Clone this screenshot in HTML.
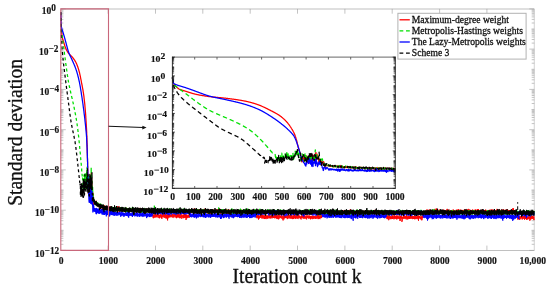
<!DOCTYPE html><html><head><meta charset="utf-8"><title>Standard deviation vs iteration count</title>
<style>html,body{margin:0;padding:0;background:#fff}svg{display:block}text{font-family:"Liberation Serif","DejaVu Serif",serif;fill:#111}.b{font-weight:bold}</style></head><body>
<svg width="550" height="288" viewBox="0 0 550 288">
<rect width="550" height="288" fill="#fff"/>
<path d="M60.8 8.9 H534.3" stroke="#d4d4d4" stroke-width="1.5" fill="none"/>
<path d="M60.8 250.5 H534.3" stroke="#c0c0c0" stroke-width="1.2" fill="none"/>
<path d="M534.3 8.9 V250.4" stroke="#d6d6d6" stroke-width="1.1" fill="none"/>
<path d="M108.1 250.4 v-4.8 M108.1 8.9 v4.8 M155.5 250.4 v-4.8 M155.5 8.9 v4.8 M202.8 250.4 v-4.8 M202.8 8.9 v4.8 M250.2 250.4 v-4.8 M250.2 8.9 v4.8 M297.5 250.4 v-4.8 M297.5 8.9 v4.8 M344.9 250.4 v-4.8 M344.9 8.9 v4.8 M392.2 250.4 v-4.8 M392.2 8.9 v4.8 M439.6 250.4 v-4.8 M439.6 8.9 v4.8 M486.9 250.4 v-4.8 M486.9 8.9 v4.8 " stroke="#9a9a9a" stroke-width="0.6" fill="none"/>
<path d="M60.8 8.9 h5.0 M534.3 8.9 h-5.0 M60.8 23.0 h2.6 M534.3 23.0 h-2.6 M60.8 19.4 h2.6 M534.3 19.4 h-2.6 M60.8 16.9 h2.6 M534.3 16.9 h-2.6 M60.8 15.0 h2.6 M534.3 15.0 h-2.6 M60.8 13.4 h2.6 M534.3 13.4 h-2.6 M60.8 12.0 h2.6 M534.3 12.0 h-2.6 M60.8 10.9 h2.6 M534.3 10.9 h-2.6 M60.8 9.8 h2.6 M534.3 9.8 h-2.6 M60.8 29.0 h2.8 M534.3 29.0 h-2.8 M60.8 43.1 h2.6 M534.3 43.1 h-2.6 M60.8 39.5 h2.6 M534.3 39.5 h-2.6 M60.8 37.0 h2.6 M534.3 37.0 h-2.6 M60.8 35.1 h2.6 M534.3 35.1 h-2.6 M60.8 33.5 h2.6 M534.3 33.5 h-2.6 M60.8 32.1 h2.6 M534.3 32.1 h-2.6 M60.8 31.0 h2.6 M534.3 31.0 h-2.6 M60.8 29.9 h2.6 M534.3 29.9 h-2.6 M60.8 49.1 h5.0 M534.3 49.1 h-5.0 M60.8 63.2 h2.6 M534.3 63.2 h-2.6 M60.8 59.7 h2.6 M534.3 59.7 h-2.6 M60.8 57.2 h2.6 M534.3 57.2 h-2.6 M60.8 55.2 h2.6 M534.3 55.2 h-2.6 M60.8 53.6 h2.6 M534.3 53.6 h-2.6 M60.8 52.3 h2.6 M534.3 52.3 h-2.6 M60.8 51.1 h2.6 M534.3 51.1 h-2.6 M60.8 50.1 h2.6 M534.3 50.1 h-2.6 M60.8 69.3 h2.8 M534.3 69.3 h-2.8 M60.8 83.3 h2.6 M534.3 83.3 h-2.6 M60.8 79.8 h2.6 M534.3 79.8 h-2.6 M60.8 77.3 h2.6 M534.3 77.3 h-2.6 M60.8 75.3 h2.6 M534.3 75.3 h-2.6 M60.8 73.7 h2.6 M534.3 73.7 h-2.6 M60.8 72.4 h2.6 M534.3 72.4 h-2.6 M60.8 71.2 h2.6 M534.3 71.2 h-2.6 M60.8 70.2 h2.6 M534.3 70.2 h-2.6 M60.8 89.4 h5.0 M534.3 89.4 h-5.0 M60.8 103.5 h2.6 M534.3 103.5 h-2.6 M60.8 99.9 h2.6 M534.3 99.9 h-2.6 M60.8 97.4 h2.6 M534.3 97.4 h-2.6 M60.8 95.5 h2.6 M534.3 95.5 h-2.6 M60.8 93.9 h2.6 M534.3 93.9 h-2.6 M60.8 92.5 h2.6 M534.3 92.5 h-2.6 M60.8 91.4 h2.6 M534.3 91.4 h-2.6 M60.8 90.3 h2.6 M534.3 90.3 h-2.6 M60.8 109.5 h2.8 M534.3 109.5 h-2.8 M60.8 123.6 h2.6 M534.3 123.6 h-2.6 M60.8 120.0 h2.6 M534.3 120.0 h-2.6 M60.8 117.5 h2.6 M534.3 117.5 h-2.6 M60.8 115.6 h2.6 M534.3 115.6 h-2.6 M60.8 114.0 h2.6 M534.3 114.0 h-2.6 M60.8 112.6 h2.6 M534.3 112.6 h-2.6 M60.8 111.5 h2.6 M534.3 111.5 h-2.6 M60.8 110.4 h2.6 M534.3 110.4 h-2.6 M60.8 129.7 h5.0 M534.3 129.7 h-5.0 M60.8 143.7 h2.6 M534.3 143.7 h-2.6 M60.8 140.2 h2.6 M534.3 140.2 h-2.6 M60.8 137.7 h2.6 M534.3 137.7 h-2.6 M60.8 135.7 h2.6 M534.3 135.7 h-2.6 M60.8 134.1 h2.6 M534.3 134.1 h-2.6 M60.8 132.8 h2.6 M534.3 132.8 h-2.6 M60.8 131.6 h2.6 M534.3 131.6 h-2.6 M60.8 130.6 h2.6 M534.3 130.6 h-2.6 M60.8 149.8 h2.8 M534.3 149.8 h-2.8 M60.8 163.8 h2.6 M534.3 163.8 h-2.6 M60.8 160.3 h2.6 M534.3 160.3 h-2.6 M60.8 157.8 h2.6 M534.3 157.8 h-2.6 M60.8 155.8 h2.6 M534.3 155.8 h-2.6 M60.8 154.2 h2.6 M534.3 154.2 h-2.6 M60.8 152.9 h2.6 M534.3 152.9 h-2.6 M60.8 151.7 h2.6 M534.3 151.7 h-2.6 M60.8 150.7 h2.6 M534.3 150.7 h-2.6 M60.8 169.9 h5.0 M534.3 169.9 h-5.0 M60.8 184.0 h2.6 M534.3 184.0 h-2.6 M60.8 180.4 h2.6 M534.3 180.4 h-2.6 M60.8 177.9 h2.6 M534.3 177.9 h-2.6 M60.8 176.0 h2.6 M534.3 176.0 h-2.6 M60.8 174.4 h2.6 M534.3 174.4 h-2.6 M60.8 173.0 h2.6 M534.3 173.0 h-2.6 M60.8 171.9 h2.6 M534.3 171.9 h-2.6 M60.8 170.8 h2.6 M534.3 170.8 h-2.6 M60.8 190.0 h2.8 M534.3 190.0 h-2.8 M60.8 204.1 h2.6 M534.3 204.1 h-2.6 M60.8 200.5 h2.6 M534.3 200.5 h-2.6 M60.8 198.0 h2.6 M534.3 198.0 h-2.6 M60.8 196.1 h2.6 M534.3 196.1 h-2.6 M60.8 194.5 h2.6 M534.3 194.5 h-2.6 M60.8 193.1 h2.6 M534.3 193.1 h-2.6 M60.8 192.0 h2.6 M534.3 192.0 h-2.6 M60.8 190.9 h2.6 M534.3 190.9 h-2.6 M60.8 210.2 h5.0 M534.3 210.2 h-5.0 M60.8 224.2 h2.6 M534.3 224.2 h-2.6 M60.8 220.7 h2.6 M534.3 220.7 h-2.6 M60.8 218.2 h2.6 M534.3 218.2 h-2.6 M60.8 216.2 h2.6 M534.3 216.2 h-2.6 M60.8 214.6 h2.6 M534.3 214.6 h-2.6 M60.8 213.3 h2.6 M534.3 213.3 h-2.6 M60.8 212.1 h2.6 M534.3 212.1 h-2.6 M60.8 211.1 h2.6 M534.3 211.1 h-2.6 M60.8 230.3 h2.8 M534.3 230.3 h-2.8 M60.8 244.3 h2.6 M534.3 244.3 h-2.6 M60.8 240.8 h2.6 M534.3 240.8 h-2.6 M60.8 238.3 h2.6 M534.3 238.3 h-2.6 M60.8 236.3 h2.6 M534.3 236.3 h-2.6 M60.8 234.7 h2.6 M534.3 234.7 h-2.6 M60.8 233.4 h2.6 M534.3 233.4 h-2.6 M60.8 232.2 h2.6 M534.3 232.2 h-2.6 M60.8 231.2 h2.6 M534.3 231.2 h-2.6 M60.8 250.4 h5.0 M534.3 250.4 h-5.0 " stroke="#9c9c9c" stroke-width="0.6" fill="none"/>
<g fill="none" stroke-linejoin="round">
<path d="M60.8 12.3 L60.8 15.3 L60.9 18.0 L60.9 20.4 L61.0 22.7 L61.0 24.7 L61.1 26.0 L61.1 26.9 L61.2 27.6 L61.2 28.2 L61.3 28.8 L61.3 29.3 L61.4 29.7 L61.4 30.1 L61.5 30.6 L61.5 31.0 L61.6 31.5 L61.6 32.0 L61.7 32.5 L61.7 33.0 L61.7 33.5 L61.8 33.9 L61.8 34.4 L61.9 34.8 L61.9 35.3 L62.0 35.7 L62.0 36.0 L62.1 36.4 L62.1 36.7 L62.2 37.0 L62.2 37.3 L62.3 37.5 L62.3 37.7 L62.4 37.9 L62.4 38.1 L62.5 38.3 L62.5 38.5 L62.6 38.7 L62.6 38.9 L62.6 39.0 L62.7 39.2 L62.7 39.1 L62.8 39.3 L62.8 39.5 L62.9 39.6 L62.9 39.8 L63.0 39.9 L63.0 40.1 L63.1 40.3 L63.1 40.4 L63.2 40.6 L63.2 40.7 L63.3 40.8 L63.3 41.0 L63.4 41.1 L63.4 41.3 L63.5 41.4 L63.5 41.6 L63.5 41.7 L63.6 41.9 L63.6 42.0 L63.7 42.2 L63.7 42.3 L63.8 42.5 L63.8 42.6 L63.9 42.8 L63.9 42.9 L64.0 43.1 L64.0 43.2 L64.1 43.4 L64.1 43.6 L64.2 43.7 L64.2 43.9 L64.3 44.0 L64.3 44.2 L64.4 44.3 L64.4 44.5 L64.4 44.7 L64.5 44.8 L64.5 45.0 L64.6 45.1 L64.6 45.3 L64.7 45.4 L64.7 45.6 L64.8 45.7 L64.8 45.9 L64.9 46.0 L64.9 46.1 L65.0 46.3 L65.0 46.4 L65.1 46.6 L65.1 46.7 L65.2 46.8 L65.2 47.0 L65.3 47.1 L65.3 47.2 L65.3 47.3 L65.4 47.5 L65.4 47.6 L65.5 47.7 L65.5 47.8 L65.6 48.0 L65.6 48.1 L65.7 48.2 L65.7 48.3 L65.8 48.4 L65.8 48.5 L65.9 48.6 L65.9 48.7 L66.0 48.8 L66.0 48.9 L66.1 49.0 L66.1 49.1 L66.2 49.2 L66.2 49.3 L66.2 49.4 L66.3 49.5 L66.3 49.6 L66.4 49.7 L66.4 49.8 L66.5 49.9 L66.5 50.0 L66.6 50.1 L66.6 50.2 L66.7 50.3 L66.7 50.3 L66.8 50.4 L66.8 50.5 L66.9 50.6 L66.9 50.7 L67.0 50.8 L67.0 50.9 L67.1 50.9 L67.1 51.0 L67.1 51.1 L67.2 51.2 L67.2 51.3 L67.3 51.3 L67.3 51.4 L67.4 51.5 L67.4 51.6 L67.5 51.7 L67.5 51.7 L67.6 51.8 L67.6 51.9 L67.7 52.0 L67.7 52.0 L67.8 52.1 L67.8 52.2 L67.9 52.2 L67.9 52.3 L67.9 52.4 L68.0 52.4 L68.0 52.5 L68.1 52.6 L68.1 52.7 L68.2 52.7 L68.2 52.8 L68.3 52.9 L68.3 52.9 L68.4 53.0 L68.4 53.0 L68.5 53.1 L68.5 53.2 L68.6 53.2 L68.6 53.3 L68.7 53.3 L68.7 53.4 L68.8 53.5 L68.8 53.5 L68.8 53.6 L68.9 53.6 L68.9 53.7 L69.0 53.7 L69.0 53.8 L69.1 53.9 L69.1 53.9 L69.2 54.0 L69.2 54.0 L69.3 54.1 L69.3 54.1 L69.4 54.2 L69.4 54.2 L69.5 54.3 L69.5 54.3 L69.6 54.4 L69.6 54.4 L69.7 54.5 L69.7 54.5 L69.7 54.5 L69.8 54.6 L69.8 54.6 L69.9 54.7 L69.9 54.7 L70.0 54.8 L70.0 54.8 L70.1 54.9 L70.1 54.9 L70.2 54.9 L70.2 55.0 L70.3 55.0 L70.3 55.1 L70.4 55.1 L70.4 55.2 L70.5 55.2 L70.5 55.2 L70.6 55.3 L70.6 55.3 L70.6 55.4 L70.7 55.4 L70.7 55.5 L70.8 55.5 L70.8 55.6 L70.9 55.6 L70.9 55.6 L71.0 55.7 L71.0 55.7 L71.1 55.8 L71.1 55.8 L71.2 55.9 L71.2 55.9 L71.3 56.0 L71.3 56.0 L71.4 56.0 L71.4 56.1 L71.5 56.1 L71.5 56.2 L71.5 56.2 L71.6 56.3 L71.6 56.3 L71.7 56.4 L71.7 56.4 L71.8 56.5 L71.8 56.5 L71.9 56.6 L71.9 56.7 L72.0 56.7 L72.0 56.8 L72.1 56.8 L72.1 56.9 L72.2 56.9 L72.2 57.0 L72.3 57.0 L72.3 57.1 L72.4 57.1 L72.4 57.2 L72.4 57.3 L72.5 57.3 L72.5 57.4 L72.6 57.4 L72.6 57.5 L72.7 57.6 L72.7 57.6 L72.8 57.7 L72.8 57.7 L72.9 57.8 L72.9 57.9 L73.0 57.9 L73.0 58.0 L73.1 58.0 L73.1 58.1 L73.2 58.2 L73.2 58.2 L73.3 58.3 L73.3 58.3 L73.3 58.4 L73.4 58.5 L73.4 58.5 L73.5 58.6 L73.5 58.7 L73.6 58.7 L73.6 58.8 L73.7 58.9 L73.7 58.9 L73.8 59.0 L73.8 59.1 L73.9 59.1 L73.9 59.2 L74.0 59.3 L74.0 59.3 L74.1 59.4 L74.1 59.5 L74.2 59.5 L74.2 59.6 L74.2 59.7 L74.3 59.7 L74.3 59.8 L74.4 59.9 L74.4 59.9 L74.5 60.0 L74.5 60.1 L74.6 60.2 L74.6 60.2 L74.7 60.3 L74.7 60.4 L74.8 60.5 L74.8 60.5 L74.9 60.6 L74.9 60.7 L75.0 60.8 L75.0 60.8 L75.1 60.9 L75.1 61.0 L75.1 61.1 L75.2 61.2 L75.2 61.2 L75.3 61.3 L75.3 61.4 L75.4 61.5 L75.4 61.6 L75.5 61.6 L75.5 61.7 L75.6 61.8 L75.6 61.9 L75.7 62.0 L75.7 62.1 L75.8 62.2 L75.8 62.3 L75.9 62.3 L75.9 62.4 L76.0 62.5 L76.0 62.6 L76.0 62.7 L76.1 62.8 L76.1 62.9 L76.2 63.0 L76.2 63.1 L76.3 63.2 L76.3 63.3 L76.4 63.4 L76.4 63.5 L76.5 63.6 L76.5 63.7 L76.6 63.8 L76.6 63.9 L76.7 64.0 L76.7 64.1 L76.8 64.2 L76.8 64.3 L76.9 64.4 L76.9 64.6 L76.9 64.7 L77.0 64.8 L77.0 64.9 L77.1 65.0 L77.1 65.1 L77.2 65.3 L77.2 65.4 L77.3 65.5 L77.3 65.6 L77.4 65.8 L77.4 65.9 L77.5 66.0 L77.5 66.1 L77.6 66.3 L77.6 66.4 L77.7 66.5 L77.7 66.7 L77.8 66.8 L77.8 66.9 L77.8 67.1 L77.9 67.2 L77.9 67.4 L78.0 67.5 L78.0 67.6 L78.1 67.8 L78.1 67.9 L78.2 68.1 L78.2 68.2 L78.3 68.4 L78.3 68.5 L78.4 68.7 L78.4 68.8 L78.5 69.0 L78.5 69.2 L78.6 69.3 L78.6 69.5 L78.7 69.6 L78.7 69.8 L78.7 69.9 L78.8 70.1 L78.8 70.3 L78.9 70.4 L78.9 70.6 L79.0 70.8 L79.0 70.9 L79.1 71.1 L79.1 71.3 L79.2 71.5 L79.2 71.6 L79.3 71.8 L79.3 72.0 L79.4 72.2 L79.4 72.4 L79.5 72.6 L79.5 72.7 L79.6 72.9 L79.6 73.1 L79.6 73.3 L79.7 73.5 L79.7 73.7 L79.8 73.9 L79.8 74.1 L79.9 74.4 L79.9 74.6 L80.0 74.8 L80.0 75.0 L80.1 75.2 L80.1 75.4 L80.2 75.7 L80.2 75.9 L80.3 76.1 L80.3 76.3 L80.4 76.6 L80.4 76.8 L80.5 77.0 L80.5 77.3 L80.5 77.5 L80.6 77.7 L80.6 78.0 L80.7 78.2 L80.7 78.5 L80.8 78.7 L80.8 78.9 L80.9 79.2 L80.9 79.4 L81.0 79.7 L81.0 79.9 L81.1 80.2 L81.1 80.4 L81.2 80.7 L81.2 80.9 L81.3 81.1 L81.3 81.4 L81.3 81.6 L81.4 81.9 L81.4 82.1 L81.5 82.4 L81.5 82.6 L81.6 82.9 L81.6 83.1 L81.7 83.3 L81.7 83.6 L81.8 83.8 L81.8 84.1 L81.9 84.3 L81.9 84.6 L82.0 84.8 L82.0 85.1 L82.1 85.3 L82.1 85.5 L82.2 85.8 L82.2 86.0 L82.2 86.3 L82.3 86.5 L82.3 86.8 L82.4 87.0 L82.4 87.3 L82.5 87.5 L82.5 87.8 L82.6 88.0 L82.6 88.3 L82.7 88.6 L82.7 88.8 L82.8 89.1 L82.8 89.4 L82.9 89.6 L82.9 89.9 L83.0 90.2 L83.0 90.5 L83.1 90.7 L83.1 91.0 L83.1 91.3 L83.2 91.6 L83.2 91.9 L83.3 92.2 L83.3 92.5 L83.4 92.8 L83.4 93.1 L83.5 93.5 L83.5 93.8 L83.6 94.1 L83.6 94.4 L83.7 94.8 L83.7 95.1 L83.8 95.5 L83.8 95.8 L83.9 96.2 L83.9 96.5 L84.0 96.9 L84.0 97.3 L84.0 97.7 L84.1 98.1 L84.1 98.5 L84.2 98.9 L84.2 99.3 L84.3 99.7 L84.3 100.1 L84.4 100.5 L84.4 101.0 L84.5 101.4 L84.5 101.8 L84.6 102.3 L84.6 102.8 L84.7 103.2 L84.7 103.7 L84.8 104.2 L84.8 104.7 L84.9 105.2 L84.9 105.7 L84.9 106.2 L85.0 106.7 L85.0 107.2 L85.1 107.8 L85.1 108.3 L85.2 108.8 L85.2 109.4 L85.3 110.0 L85.3 110.6 L85.4 111.2 L85.4 111.8 L85.5 112.4 L85.5 113.0 L85.6 113.6 L85.6 114.3 L85.7 114.9 L85.7 115.6 L85.8 116.3 L85.8 117.0 L85.8 117.7 L85.9 118.4 L85.9 119.2 L86.0 119.9 L86.0 120.7 L86.1 121.5 L86.1 122.2 L86.2 123.0 L86.2 123.9 L86.3 124.7 L86.3 125.6 L86.4 126.4 L86.4 127.2 L86.5 128.0 L86.5 129.0 L86.6 129.9 L86.6 131.0 L86.7 131.9 L86.7 133.0 L86.7 133.7 L86.8 135.0 L86.8 136.4 L86.9 138.2 L86.9 139.3 L87.0 140.7 L87.0 142.3 L87.1 144.0 L87.1 145.4 L87.2 147.0 L87.2 148.9 L87.3 151.1 L87.3 152.9 L87.4 154.9 L87.4 156.7 L87.5 158.9 L87.5 160.5 L87.6 162.7 L87.6 163.7 L87.6 165.1 L87.7 166.5 L87.7 168.7 L87.8 170.4 L87.8 172.6 L87.9 174.2 L87.9 175.9 L88.0 176.4 L88.0 177.2 L88.1 178.7 L88.1 182.3 L88.2 181.6 L88.2 182.3 L88.3 190.1 L88.3 193.3 L88.4 191.3 L88.4 184.5 L88.5 181.8 L88.5 178.2 L88.5 185.9 L88.6 188.4 L88.6 194.0 L88.7 186.2 L88.7 188.8 L88.8 189.5 L88.8 192.7 L88.9 187.5 L88.9 180.6 L89.0 185.8 L89.0 183.9 L89.1 189.7 L89.1 184.4 L89.2 187.0 L89.2 186.1 L89.3 185.8 L89.3 184.2 L89.4 180.7 L89.4 186.7 L89.4 188.5 L89.5 194.7 L89.5 192.7 L89.6 190.3 L89.6 185.7 L89.7 183.3 L89.7 186.9 L89.8 182.7 L89.8 183.4 L89.9 183.7 L89.9 192.4 L90.0 196.1 L90.0 193.9 L90.1 191.5 L90.1 182.0 L90.2 180.5 L90.2 176.6 L90.3 189.2 L90.3 194.0 L90.3 193.3 L90.4 183.6 L90.4 181.7 L90.5 184.8 L90.5 187.4 L90.6 182.7 L90.6 178.1 L90.7 182.5 L90.7 180.8 L90.8 187.3 L90.8 184.6 L90.9 181.3 L90.9 183.3 L91.0 184.4 L91.0 192.9 L91.1 191.5 L91.1 182.2 L91.2 180.3 L91.2 175.7 L91.2 176.4 L91.3 173.2 L91.3 182.8 L91.4 187.6 L91.4 188.8 L91.5 183.7 L91.5 177.0 L91.6 180.7 L91.6 183.4 L91.7 182.2 L91.7 181.6 L91.8 184.1 L91.8 188.1 L91.9 188.8 L91.9 194.8 L92.0 194.8 L92.0 197.7 L92.1 187.1 L92.1 187.6 L92.1 188.1 L92.2 189.7 L92.2 191.6 L92.3 188.5 L92.3 191.8 L92.4 193.1 L92.4 198.8 L92.5 196.9 L92.5 196.0 L92.6 192.7 L92.6 194.8 L92.7 196.5 L92.7 195.7 L92.8 198.6 L92.8 195.3 L92.9 197.0 L92.9 192.9 L93.0 193.2 L93.0 194.9 L93.0 198.4 L93.1 200.8 L93.1 201.4 L93.2 202.4 L93.2 204.1 L93.3 205.0 L93.3 204.6 L93.4 200.9 L93.4 201.2 L93.5 199.8 L93.5 199.6 L93.6 200.2 L93.6 200.6 L93.7 201.2 L93.7 200.9 L93.8 201.0 L93.8 201.6 L93.9 201.1 L93.9 201.7 L93.9 200.0 L94.0 200.5 L94.0 202.2 L94.1 202.1 L94.1 201.4 L94.2 202.0 L94.2 201.8 L94.3 200.9 L94.3 201.5 L94.4 203.2 L94.4 202.2 L94.5 201.5 L94.5 201.9 L94.6 201.6 L94.6 201.6 L94.7 201.6 L94.7 202.2 L94.7 203.3 L94.8 203.2 L94.8 203.1 L94.9 202.3 L94.9 203.1 L95.0 202.6 L95.0 204.4 L95.1 203.6 L95.1 202.9 L95.2 202.4 L95.2 203.4 L95.3 202.6 L95.3 203.6 L95.4 201.9 L95.4 202.8 L95.5 203.4 L95.5 203.2 L95.6 203.6 L95.6 203.3 L95.6 202.6 L95.7 202.8 L95.7 204.0 L95.8 204.1 L95.8 202.3 L95.9 202.1 L95.9 204.0 L96.0 203.4 L96.0 203.6 L96.1 202.7 L96.1 204.2 L96.2 204.3 L96.2 203.2 L96.3 203.8 L96.3 203.4 L96.4 204.7 L96.4 201.0 L96.5 204.9 L96.5 203.6 L96.5 202.2 L96.6 203.5 L96.6 205.6 L96.7 202.3 L96.7 205.5 L96.8 205.2 L96.8 203.8 L96.9 203.6 L96.9 205.7 L97.0 203.5 L97.0 203.6 L97.1 204.1 L97.1 205.0 L97.2 203.5 L97.2 205.1 L97.3 203.9 L97.3 205.2 L97.4 204.5 L97.4 204.2 L97.4 204.2 L97.5 203.7 L97.5 205.7 L97.6 203.0 L97.6 205.8 L97.7 205.4 L97.7 204.2 L97.8 205.1 L97.8 204.0 L97.9 204.6 L97.9 205.5 L98.0 205.1 L98.0 206.0 L98.1 204.9 L98.1 205.7 L98.2 204.4 L98.2 205.1 L98.3 204.6 L98.3 206.1 L98.3 203.4 L98.4 205.0 L98.4 203.6 L98.5 203.8 L98.5 205.3 L98.6 203.8 L98.6 204.7 L98.7 205.4 L98.7 206.8 L98.8 205.8 L98.8 205.3 L98.9 205.4 L98.9 204.9 L99.0 205.2 L99.0 204.6 L99.1 205.9 L99.1 205.6 L99.2 205.0 L99.2 206.5 L99.2 204.9 L99.3 205.2 L99.3 205.5 L99.4 205.3 L99.4 206.3 L99.5 205.3 L99.5 205.2 L99.6 206.8 L99.6 204.3 L99.7 205.9 L99.7 205.8 L99.8 204.9 L99.8 204.5 L99.9 205.7 L99.9 204.9 L100.0 205.2 L100.0 207.1 L100.1 206.4 L100.1 206.0 L100.1 206.0 L100.2 206.1 L100.2 207.4 L100.3 205.9 L100.3 205.0 L100.4 205.7 L100.4 206.1 L100.5 205.7 L100.5 206.8 L100.6 206.2 L100.6 205.6 L100.7 205.0 L100.7 206.3 L100.8 205.5 L100.8 205.9 L100.9 205.1 L100.9 207.3 L101.0 205.4 L101.0 205.7 L101.0 206.8 L101.1 206.9 L101.1 206.5 L101.2 207.2 L101.2 205.3 L101.3 206.3 L101.3 205.6 L101.4 206.2 L101.4 206.4 L101.5 207.2 L101.5 207.8 L101.6 206.0 L101.6 206.2 L101.7 207.0 L101.7 205.9 L101.8 206.0 L101.8 206.1 L101.9 206.1 L101.9 207.8 L101.9 206.7 L102.0 207.0 L102.0 206.7 L102.1 208.2 L102.1 206.8 L102.2 206.2 L102.2 208.3 L102.3 205.9 L102.3 207.2 L102.4 208.4 L102.4 207.6 L102.5 206.7 L102.5 205.9 L102.6 206.4 L102.6 208.5 L102.7 207.3 L102.7 207.7 L102.8 206.3 L102.8 207.4 L102.8 207.9 L102.9 206.3 L102.9 208.6 L103.0 207.9 L103.0 207.0 L103.1 207.7 L103.1 207.7 L103.2 206.0 L103.2 206.3 L103.3 206.7 L103.3 207.4 L103.4 208.3 L103.4 207.3 L103.5 208.0 L103.5 207.1 L103.6 207.0 L103.6 208.4 L103.7 210.1 L103.7 206.5 L103.7 207.6 L103.8 207.5 L103.8 206.4 L103.9 207.8 L103.9 207.5 L104.0 208.0 L104.0 208.8 L104.1 206.4 L104.1 207.8 L104.2 207.6 L104.2 207.4 L104.3 207.3 L104.3 205.5 L104.4 207.1 L104.4 207.9 L104.5 209.2 L104.5 207.8 L104.6 208.8 L104.6 206.9 L104.6 207.7 L104.7 206.9 L104.7 206.7 L104.8 207.7 L104.8 208.1 L104.9 207.6 L104.9 208.6 L105.0 207.7 L105.0 206.7 L105.1 209.4 L105.1 207.8 L105.2 208.4 L105.2 208.2 L105.3 209.8 L105.3 207.5 L105.4 207.4 L105.4 206.8 L105.5 208.2 L105.5 207.9 L105.5 208.2 L105.6 208.5 L105.6 208.4 L105.7 208.2 L105.7 206.7 L105.8 207.9 L105.8 208.9 L105.9 208.6 L105.9 206.3 L106.0 208.4 L106.0 207.3 L106.1 206.8 L106.1 206.9 L106.2 208.6 L106.2 207.8 L106.3 207.0 L106.3 210.0 L106.4 208.8 L106.4 208.6 L106.4 208.6 L106.5 207.5 L106.5 208.5 L106.6 208.5 L106.6 209.2 L106.7 208.5 L106.7 207.2 L106.8 209.0 L106.8 207.5 L106.9 206.9 L106.9 206.9 L107.0 207.6 L107.0 207.7 L107.1 209.4 L107.1 207.3 L107.2 207.5 L107.2 207.3 L107.3 207.8 L107.3 209.1 L107.3 208.4 L107.4 209.6 L107.4 207.2 L107.5 208.3 L107.5 208.1 L107.6 208.1 L107.6 207.4 L107.7 207.5 L107.7 208.9 L107.8 209.8 L107.8 209.4 L107.9 206.8 L107.9 208.2 L108.0 208.0 L108.0 209.1 L108.1 208.1 L108.1 207.9 L108.1 208.3 L108.2 209.2 L108.2 208.6 L108.3 207.8 L108.3 209.4 L108.4 209.6 L108.4 208.1 L108.5 208.1 L108.5 208.7 L108.6 209.0 L108.6 208.6 L108.7 209.3 L108.7 208.7 L108.8 209.4 L108.8 209.5 L108.9 208.3 L108.9 208.3 L109.0 209.3 L109.0 207.7 L109.0 209.0 L109.1 207.3 L109.1 208.8 L109.2 208.6 L109.2 208.7 L109.3 209.9 L109.3 206.8 L109.4 207.7 L109.4 208.8 L109.5 209.1 L109.5 209.6 L109.6 208.4 L109.6 207.8 L109.7 209.0 L109.7 208.2 L109.8 208.1 L109.8 207.9 L109.9 208.6 L109.9 208.9 L109.9 207.9 L110.0 207.8 L110.0 208.7 L110.1 206.8 L110.1 208.8 L110.2 208.1 L110.2 209.0 L110.3 209.9 L110.3 210.3 L110.4 208.3 L110.4 209.2 L110.5 209.1 L110.5 209.5 L110.6 209.3 L110.6 209.0 L110.7 208.0 L110.7 210.0 L110.8 207.1 L110.8 209.4 L110.8 210.3 L110.9 208.5 L110.9 207.3 L111.0 208.9 L111.0 208.1 L111.1 208.8 L111.1 209.2 L111.2 210.2 L111.2 210.6 L111.3 209.8 L111.3 207.5 L111.4 208.9 L111.4 208.2 L111.5 207.6 L111.5 207.4 L111.6 209.3 L111.6 209.3 L111.7 209.4 L111.7 208.4 L111.7 208.4 L111.8 209.2 L111.8 209.6 L111.9 208.9 L111.9 208.1 L112.0 208.3 L112.0 210.4 L112.1 208.1 L112.1 208.4 L112.2 209.2 L112.2 208.7 L112.3 208.0 L112.3 209.6 L112.4 207.9 L112.4 209.5 L112.5 208.9 L112.5 208.6 L112.6 209.0 L112.6 209.0 L112.6 209.5 L112.7 211.1 L112.7 210.2 L112.8 209.4 L112.8 209.2 L112.9 209.2" stroke="#ff0000" stroke-width="1.25"/>
<path d="M113.1 207.5 L113.1 210.5 L113.6 210.5 L113.6 207.2 L114.0 207.9 L114.0 209.9 L114.5 210.3 L114.5 207.7 L115.0 207.3 L115.0 209.7 L115.5 209.8 L115.5 207.7 L115.9 208.0 L115.9 209.9 L116.4 210.3 L116.4 207.5 L116.9 207.9 L116.9 210.6 L117.4 210.3 L117.4 206.3 L117.8 207.6 L117.8 211.7 L118.3 210.2 L118.3 207.6 L118.8 207.4 L118.8 210.8 L119.3 212.0 L119.3 206.5 L119.7 207.2 L119.7 211.7 L120.2 210.5 L120.2 207.6 L120.7 208.2 L120.7 210.4 L121.1 210.8 L121.1 209.0 L121.6 208.4 L121.6 210.8 L122.1 211.4 L122.1 207.8 L122.6 208.0 L122.6 211.2 L123.0 211.0 L123.0 208.4 L123.5 208.9 L123.5 210.5 L124.0 211.5 L124.0 208.6 L124.5 208.5 L124.5 211.1 L124.9 211.2 L124.9 208.1 L125.4 209.0 L125.4 211.6 L125.9 210.5 L125.9 208.7 L126.4 207.8 L126.4 210.6 L126.8 210.9 L126.8 209.3 L127.3 208.6 L127.3 211.5 L127.8 211.3 L127.8 208.7 L128.3 209.6 L128.3 210.4 L128.7 211.5 L128.7 208.6 L129.2 208.5 L129.2 211.0 L129.7 211.5 L129.7 208.8 L130.1 208.6 L130.1 211.1 L130.6 211.4 L130.6 208.6 L131.1 208.9 L131.1 211.1 L131.6 211.1 L131.6 208.1 L132.0 209.5 L132.0 211.7 L132.5 211.4 L132.5 208.5 L133.0 208.6 L133.0 211.3 L133.5 211.7 L133.5 209.7 L133.9 209.4 L133.9 211.9 L134.4 211.4 L134.4 209.1 L134.9 208.7 L134.9 210.5 L135.4 211.3 L135.4 208.9 L135.8 209.1 L135.8 211.4 L136.3 211.3 L136.3 208.8 L136.8 209.5 L136.8 214.6 L137.2 212.6 L137.2 208.6 L137.7 208.9 L137.7 211.5 L138.2 211.7 L138.2 208.9 L138.7 208.9 L138.7 211.1 L139.1 211.5 L139.1 207.9 L139.6 209.3 L139.6 211.1 L140.1 211.4 L140.1 209.6 L140.6 208.7 L140.6 213.7 L141.0 212.4 L141.0 208.2 L141.5 209.7 L141.5 211.5 L142.0 211.8 L142.0 209.7 L142.5 209.1 L142.5 211.5 L142.9 211.8 L142.9 210.0 L143.4 209.7 L143.4 212.4 L143.9 211.3 L143.9 209.8 L144.3 210.0 L144.3 211.3 L144.8 211.6 L144.8 209.0 L145.3 209.7 L145.3 211.6 L145.8 212.0 L145.8 209.1 L146.2 208.7 L146.2 212.7 L146.7 211.5 L146.7 209.5 L147.2 209.1 L147.2 211.8 L147.7 211.6 L147.7 208.9 L148.1 209.3 L148.1 212.1 L148.6 212.1 L148.6 208.9 L149.1 209.8 L149.1 211.9 L149.6 211.3 L149.6 209.7 L150.0 209.4 L150.0 212.2 L150.5 211.5 L150.5 209.3 L151.0 208.8 L151.0 212.6 L151.5 211.5 L151.5 209.9 L151.9 210.8 L151.9 213.9 L152.4 216.2 L152.4 213.2 L152.9 212.6 L152.9 216.6 L153.3 218.2 L153.3 215.1 L153.8 215.1 L153.8 217.6 L154.3 217.2 L154.3 214.3 L154.8 214.7 L154.8 217.6 L155.2 217.1 L155.2 214.0 L155.7 214.9 L155.7 217.2 L156.2 217.0 L156.2 214.4 L156.7 214.7 L156.7 216.3 L157.1 217.5 L157.1 214.9 L157.6 214.3 L157.6 216.3 L158.1 216.5 L158.1 214.5 L158.6 214.6 L158.6 216.6 L159.0 218.1 L159.0 214.8 L159.5 215.2 L159.5 218.1 L160.0 217.8 L160.0 214.4 L160.4 214.3 L160.4 216.4 L160.9 217.4 L160.9 214.7 L161.4 215.2 L161.4 217.0 L161.9 218.8 L161.9 213.7 L162.3 214.1 L162.3 217.2 L162.8 216.8 L162.8 215.0 L163.3 213.6 L163.3 216.3 L163.8 217.3 L163.8 214.1 L164.2 215.1 L164.2 217.7 L164.7 217.3 L164.7 214.4 L165.2 214.5 L165.2 217.7 L165.7 217.6 L165.7 214.3 L166.1 214.7 L166.1 218.6 L166.6 216.9 L166.6 214.5 L167.1 214.7 L167.1 217.4 L167.6 220.4 L167.6 214.9 L168.0 214.6 L168.0 218.4 L168.5 217.7 L168.5 214.0 L169.0 214.9 L169.0 217.0 L169.4 216.9 L169.4 214.9 L169.9 214.6 L169.9 217.5 L170.4 216.9 L170.4 214.7 L170.9 214.5 L170.9 216.7 L171.3 216.8 L171.3 215.0 L171.8 214.8 L171.8 216.5 L172.3 217.5 L172.3 214.1 L172.8 214.0 L172.8 216.3 L173.2 217.1 L173.2 214.4 L173.7 215.3 L173.7 217.6 L174.2 217.3 L174.2 214.1 L174.7 215.2 L174.7 216.2 L175.1 216.6 L175.1 214.4 L175.6 214.4 L175.6 216.7 L176.1 217.8 L176.1 214.6 L176.5 215.5 L176.5 218.2 L177.0 216.6 L177.0 214.0 L177.5 214.5 L177.5 217.3 L178.0 217.1 L178.0 214.8 L178.4 214.0 L178.4 217.2 L178.9 217.6 L178.9 215.3 L179.4 214.4 L179.4 216.7 L179.9 218.3 L179.9 214.7 L180.3 215.5 L180.3 217.8 L180.8 216.7 L180.8 214.2 L181.3 215.6 L181.3 217.7 L181.8 218.7 L181.8 214.3 L182.2 215.3 L182.2 216.4 L182.7 217.6 L182.7 215.9 L183.2 215.0 L183.2 216.8 L183.6 218.2 L183.6 214.5 L184.1 214.1 L184.1 216.8 L184.6 217.7 L184.6 213.8 L185.1 214.9 L185.1 217.9 L185.5 217.0 L185.5 214.3 L186.0 214.9 L186.0 219.9 L186.5 217.0 L186.5 214.8 L187.0 214.5 L187.0 217.7 L187.4 217.9 L187.4 215.5 L187.9 215.7 L187.9 217.4 L188.4 217.1 L188.4 214.8 L188.9 215.1 L188.9 218.0 L189.3 217.5 L189.3 215.8 L189.8 211.9 L189.8 216.6 L190.3 215.4 L190.3 210.8 L190.8 209.0 L190.8 212.8 L191.2 211.6 L191.2 209.9 L191.7 210.0 L191.7 213.1 L192.2 212.5 L192.2 210.5 L192.6 208.9 L192.6 211.8 L193.1 212.2 L193.1 210.2 L193.6 209.1 L193.6 212.1 L194.1 213.6 L194.1 210.2 L194.5 208.4 L194.5 213.5 L195.0 211.4 L195.0 209.6 L195.5 209.8 L195.5 212.1 L196.0 211.7 L196.0 210.2 L196.4 210.1 L196.4 212.0 L196.9 211.9 L196.9 209.8 L197.4 209.5 L197.4 212.3 L197.9 211.9 L197.9 210.2 L198.3 209.9 L198.3 212.2 L198.8 212.7 L198.8 209.3 L199.3 210.6 L199.3 213.0 L199.7 212.0 L199.7 209.9 L200.2 210.2 L200.2 212.7 L200.7 213.4 L200.7 210.4 L201.2 210.5 L201.2 212.3 L201.6 212.4 L201.6 210.5 L202.1 210.2 L202.1 212.1 L202.6 212.2 L202.6 209.5 L203.1 210.6 L203.1 212.7 L203.5 212.2 L203.5 210.3 L204.0 209.9 L204.0 211.7 L204.5 212.3 L204.5 208.9 L205.0 209.3 L205.0 211.6 L205.4 213.3 L205.4 210.3 L205.9 210.3 L205.9 212.0 L206.4 212.9 L206.4 209.8 L206.9 210.1 L206.9 212.3 L207.3 212.9 L207.3 210.3 L207.8 210.7 L207.8 213.9 L208.3 212.0 L208.3 210.3 L208.7 209.9 L208.7 212.2 L209.2 212.1 L209.2 210.1 L209.7 209.9 L209.7 212.2 L210.2 213.9 L210.2 210.2 L210.6 210.1 L210.6 212.7 L211.1 212.0 L211.1 210.5 L211.6 210.3 L211.6 212.1 L212.1 212.5 L212.1 209.9 L212.5 210.2 L212.5 212.6 L213.0 213.0 L213.0 210.5 L213.5 209.6 L213.5 212.6 L214.0 212.6 L214.0 210.1 L214.4 210.6 L214.4 212.2 L214.9 212.1 L214.9 209.6 L215.4 209.8 L215.4 212.0 L215.8 212.1 L215.8 210.5 L216.3 209.7 L216.3 213.0 L216.8 212.1 L216.8 210.0 L217.3 210.2 L217.3 212.8 L217.7 212.4 L217.7 209.3 L218.2 210.3 L218.2 213.3 L218.7 213.1 L218.7 210.5 L219.2 209.1 L219.2 211.7 L219.6 212.4 L219.6 208.5 L220.1 209.8 L220.1 212.4 L220.6 213.6 L220.6 209.6 L221.1 210.0 L221.1 212.1 L221.5 212.8 L221.5 210.2 L222.0 210.5 L222.0 213.5 L222.5 213.1 L222.5 210.3 L223.0 210.3 L223.0 212.3 L223.4 212.5 L223.4 210.5 L223.9 210.8 L223.9 212.6 L224.4 212.1 L224.4 209.6 L224.8 209.8 L224.8 212.7 L225.3 213.2 L225.3 210.2 L225.8 210.5 L225.8 213.0 L226.3 211.9 L226.3 209.4 L226.7 209.6 L226.7 212.7 L227.2 212.8 L227.2 209.6 L227.7 210.9 L227.7 212.7 L228.2 214.1 L228.2 209.9 L228.6 210.1 L228.6 213.0 L229.1 212.5 L229.1 210.5 L229.6 209.7 L229.6 213.0 L230.1 213.1 L230.1 210.8 L230.5 210.1 L230.5 213.0 L231.0 213.4 L231.0 210.2 L231.5 210.6 L231.5 212.6 L231.9 212.5 L231.9 210.2 L232.4 209.8 L232.4 213.4 L232.9 213.1 L232.9 210.2 L233.4 210.6 L233.4 213.4 L233.8 212.9 L233.8 210.3 L234.3 210.6 L234.3 213.0 L234.8 212.7 L234.8 210.1 L235.3 210.7 L235.3 212.4 L235.7 213.0 L235.7 211.1 L236.2 210.0 L236.2 212.5 L236.7 213.1 L236.7 210.9 L237.2 211.7 L237.2 213.3 L237.6 214.3 L237.6 210.0 L238.1 209.9 L238.1 213.1 L238.6 212.5 L238.6 210.5 L239.0 210.1 L239.0 212.9 L239.5 212.7 L239.5 210.8 L240.0 210.0 L240.0 213.6 L240.5 212.6 L240.5 211.2 L240.9 209.4 L240.9 212.8 L241.4 212.4 L241.4 211.4 L241.9 210.3 L241.9 212.9 L242.4 212.5 L242.4 210.5 L242.8 210.4 L242.8 213.0 L243.3 212.5 L243.3 210.9 L243.8 210.9 L243.8 212.1 L244.3 213.3 L244.3 210.7 L244.7 210.8 L244.7 212.7 L245.2 213.5 L245.2 210.6 L245.7 210.3 L245.7 212.8 L246.2 212.5 L246.2 210.4 L246.6 209.9 L246.6 213.2 L247.1 213.5 L247.1 210.8 L247.6 210.7 L247.6 213.2 L248.0 213.2 L248.0 210.1 L248.5 210.5 L248.5 213.0 L249.0 212.4 L249.0 210.5 L249.5 209.4 L249.5 213.7 L249.9 214.0 L249.9 209.8 L250.4 211.2 L250.4 213.1 L250.9 212.6 L250.9 210.7 L251.4 210.6 L251.4 212.1 L251.8 212.4 L251.8 210.5 L252.3 210.4 L252.3 212.6 L252.8 212.8 L252.8 211.1 L253.3 211.0 L253.3 214.0 L253.7 212.6 L253.7 209.7 L254.2 210.4 L254.2 213.1 L254.7 213.2 L254.7 211.3 L255.1 211.0 L255.1 213.1 L255.6 213.5 L255.6 210.4 L256.1 213.3 L256.1 215.6 L256.6 217.6 L256.6 215.8 L257.0 215.0 L257.0 218.2 L257.5 217.3 L257.5 215.3 L258.0 215.2 L258.0 217.5 L258.5 219.5 L258.5 215.6 L258.9 215.0 L258.9 217.9 L259.4 218.4 L259.4 216.0 L259.9 215.7 L259.9 218.0 L260.4 217.6 L260.4 215.8 L260.8 214.2 L260.8 217.4 L261.3 217.8 L261.3 215.0 L261.8 215.7 L261.8 218.4 L262.3 218.4 L262.3 214.4 L262.7 216.0 L262.7 217.9 L263.2 217.7 L263.2 215.6 L263.7 215.5 L263.7 218.5 L264.1 218.8 L264.1 215.3 L264.6 215.6 L264.6 219.0 L265.1 217.9 L265.1 215.6 L265.6 215.6 L265.6 218.7 L266.0 219.1 L266.0 215.5 L266.5 215.7 L266.5 217.9 L267.0 218.7 L267.0 216.2 L267.5 215.9 L267.5 217.9 L267.9 218.7 L267.9 215.3 L268.4 216.2 L268.4 217.5 L268.9 218.1 L268.9 215.3 L269.4 214.9 L269.4 218.2 L269.8 217.9 L269.8 215.9 L270.3 215.8 L270.3 218.2 L270.8 218.2 L270.8 215.5 L271.2 215.4 L271.2 218.3 L271.7 217.6 L271.7 215.6 L272.2 215.9 L272.2 217.9 L272.7 218.1 L272.7 215.3 L273.1 215.9 L273.1 216.8 L273.6 218.0 L273.6 215.5 L274.1 216.0 L274.1 217.9 L274.6 218.1 L274.6 215.8 L275.0 214.8 L275.0 218.2 L275.5 217.9 L275.5 215.4 L276.0 215.0 L276.0 217.9 L276.5 218.4 L276.5 215.8 L276.9 215.3 L276.9 218.8 L277.4 218.6 L277.4 215.4 L277.9 215.4 L277.9 218.6 L278.3 219.3 L278.3 215.6 L278.8 215.4 L278.8 219.1 L279.3 217.7 L279.3 214.9 L279.8 215.8 L279.8 217.9 L280.2 217.5 L280.2 215.9 L280.7 215.7 L280.7 217.9 L281.2 218.3 L281.2 215.7 L281.7 215.1 L281.7 217.7 L282.1 218.7 L282.1 216.4 L282.6 216.3 L282.6 217.6 L283.1 220.4 L283.1 215.4 L283.6 216.1 L283.6 217.9 L284.0 219.3 L284.0 215.8 L284.5 215.5 L284.5 218.0 L285.0 217.7 L285.0 215.7 L285.5 216.4 L285.5 218.1 L285.9 217.6 L285.9 215.4 L286.4 216.5 L286.4 217.9 L286.9 218.1 L286.9 215.7 L287.3 216.3 L287.3 219.1 L287.8 218.1 L287.8 214.7 L288.3 215.6 L288.3 217.5 L288.8 218.3 L288.8 216.2 L289.2 215.5 L289.2 218.4 L289.7 217.4 L289.7 214.9 L290.2 215.7 L290.2 218.2 L290.7 218.6 L290.7 216.0 L291.1 215.4 L291.1 217.9 L291.6 218.5 L291.6 215.2 L292.1 216.7 L292.1 218.3 L292.6 219.1 L292.6 216.3 L293.0 215.4 L293.0 218.0 L293.5 218.9 L293.5 215.4 L294.0 215.8 L294.0 218.3 L294.4 218.2 L294.4 216.3 L294.9 214.5 L294.9 217.9 L295.4 218.7 L295.4 215.4 L295.9 215.9 L295.9 218.6 L296.3 218.4 L296.3 214.9 L296.8 215.7 L296.8 217.7 L297.3 218.4 L297.3 216.2 L297.8 216.1 L297.8 218.5 L298.2 218.8 L298.2 214.7 L298.7 214.5 L298.7 217.8 L299.2 217.7 L299.2 215.6 L299.7 216.0 L299.7 217.8 L300.1 218.5 L300.1 216.3 L300.6 216.9 L300.6 218.2 L301.1 219.4 L301.1 215.6 L301.6 215.9 L301.6 217.8 L302.0 218.3 L302.0 215.4 L302.5 215.6 L302.5 217.3 L303.0 218.1 L303.0 216.0 L303.4 215.6 L303.4 218.4 L303.9 218.5 L303.9 215.5 L304.4 215.0 L304.4 218.3 L304.9 218.4 L304.9 216.5 L305.3 216.5 L305.3 218.5 L305.8 218.0 L305.8 215.6 L306.3 215.6 L306.3 219.2 L306.8 219.2 L306.8 216.2 L307.2 215.4 L307.2 217.9 L307.7 217.2 L307.7 215.9 L308.2 216.5 L308.2 217.9 L308.7 218.6 L308.7 215.6 L309.1 215.3 L309.1 218.1 L309.6 218.0 L309.6 215.9 L310.1 216.1 L310.1 218.9 L310.5 219.3 L310.5 216.2 L311.0 216.0 L311.0 218.4 L311.5 218.4 L311.5 216.2 L312.0 215.7 L312.0 218.5 L312.4 218.8 L312.4 215.8 L312.9 216.3 L312.9 218.8 L313.4 218.6 L313.4 215.9 L313.9 216.4 L313.9 218.6 L314.3 218.2 L314.3 216.5 L314.8 215.8 L314.8 218.2 L315.3 218.9 L315.3 216.1 L315.8 216.3 L315.8 218.6 L316.2 217.8 L316.2 216.3 L316.7 216.5 L316.7 218.5 L317.2 218.8 L317.2 215.9 L317.7 215.0 L317.7 218.1 L318.1 218.5 L318.1 215.6 L318.6 215.3 L318.6 219.1 L319.1 217.9 L319.1 215.5 L319.5 216.4 L319.5 218.6 L320.0 219.1 L320.0 215.1 L320.5 216.2 L320.5 217.8 L321.0 218.0 L321.0 214.8 L321.4 216.0 L321.4 218.1 L321.9 216.7 L321.9 214.9 L322.4 213.0 L322.4 214.9 L322.9 213.2 L322.9 211.6 L323.3 211.0 L323.3 213.4 L323.8 213.6 L323.8 210.5 L324.3 209.9 L324.3 212.5 L324.8 214.0 L324.8 211.0 L325.2 210.8 L325.2 213.4 L325.7 213.4 L325.7 211.0 L326.2 211.0 L326.2 213.3 L326.6 213.3 L326.6 211.1 L327.1 210.9 L327.1 213.6 L327.6 213.6 L327.6 210.8 L328.1 211.7 L328.1 213.3 L328.5 213.8 L328.5 210.7 L329.0 210.8 L329.0 213.1 L329.5 213.4 L329.5 210.8 L330.0 211.8 L330.0 213.5 L330.4 213.2 L330.4 210.4 L330.9 211.0 L330.9 212.2 L331.4 213.3 L331.4 211.0 L331.9 211.3 L331.9 213.9 L332.3 213.2 L332.3 210.6 L332.8 210.8 L332.8 213.9 L333.3 213.4 L333.3 211.2 L333.7 211.0 L333.7 213.8 L334.2 213.5 L334.2 210.3 L334.7 211.3 L334.7 213.7 L335.2 213.0 L335.2 211.1 L335.6 211.1 L335.6 213.1 L336.1 214.3 L336.1 210.9 L336.6 210.9 L336.6 213.6 L337.1 213.3 L337.1 210.1 L337.5 210.6 L337.5 213.1 L338.0 213.6 L338.0 211.1 L338.5 210.8 L338.5 213.3 L339.0 213.6 L339.0 210.9 L339.4 211.0 L339.4 213.8 L339.9 213.2 L339.9 210.3 L340.4 211.1 L340.4 214.6 L340.9 213.2 L340.9 211.4 L341.3 210.6 L341.3 213.6 L341.8 213.5 L341.8 211.3 L342.3 210.5 L342.3 213.6 L342.7 213.4 L342.7 211.1 L343.2 210.9 L343.2 214.0 L343.7 213.2 L343.7 210.6 L344.2 210.5 L344.2 214.5 L344.6 214.1 L344.6 210.3 L345.1 210.9 L345.1 215.5 L345.6 212.8 L345.6 211.3 L346.1 210.7 L346.1 212.9 L346.5 214.0 L346.5 210.9 L347.0 211.4 L347.0 214.6 L347.5 212.8 L347.5 210.5 L348.0 211.5 L348.0 212.8 L348.4 213.5 L348.4 210.5 L348.9 210.8 L348.9 213.5 L349.4 214.0 L349.4 210.4 L349.8 210.9 L349.8 214.7 L350.3 213.3 L350.3 209.2 L350.8 211.5 L350.8 213.7 L351.3 213.9 L351.3 210.8 L351.7 210.7 L351.7 213.9 L352.2 213.4 L352.2 211.4 L352.7 211.2 L352.7 214.3 L353.2 213.3 L353.2 210.9 L353.6 210.3 L353.6 213.7 L354.1 213.1 L354.1 211.6 L354.6 211.5 L354.6 213.4 L355.1 213.6 L355.1 211.9 L355.5 211.6 L355.5 213.7 L356.0 213.8 L356.0 211.1 L356.5 211.2 L356.5 213.6 L357.0 212.9 L357.0 210.8 L357.4 211.4 L357.4 212.9 L357.9 214.1 L357.9 211.5 L358.4 210.5 L358.4 213.1 L358.8 216.2 L358.8 210.2 L359.3 211.7 L359.3 213.2 L359.8 213.1 L359.8 211.8 L360.3 210.9 L360.3 214.8 L360.7 213.5 L360.7 211.9 L361.2 211.4 L361.2 212.8 L361.7 213.0 L361.7 211.0 L362.2 211.8 L362.2 214.7 L362.6 213.7 L362.6 211.2 L363.1 210.9 L363.1 212.9 L363.6 212.7 L363.6 211.0 L364.1 211.3 L364.1 212.9 L364.5 213.7 L364.5 211.0 L365.0 210.8 L365.0 213.5 L365.5 213.0 L365.5 210.8 L365.9 211.0 L365.9 213.2 L366.4 213.2 L366.4 210.7 L366.9 211.6 L366.9 213.8 L367.4 214.1 L367.4 210.2 L367.8 210.6 L367.8 213.6 L368.3 214.5 L368.3 210.9 L368.8 211.1 L368.8 212.4 L369.3 212.8 L369.3 211.5 L369.7 210.7 L369.7 212.6 L370.2 213.8 L370.2 211.6 L370.7 211.0 L370.7 212.9 L371.2 213.6 L371.2 211.7 L371.6 211.3 L371.6 212.8 L372.1 213.3 L372.1 211.1 L372.6 211.6 L372.6 213.3 L373.0 213.4 L373.0 210.8 L373.5 211.3 L373.5 212.9 L374.0 214.4 L374.0 211.0 L374.5 210.6 L374.5 213.5 L374.9 213.4 L374.9 209.9 L375.4 211.3 L375.4 214.3 L375.9 214.3 L375.9 210.9 L376.4 211.3 L376.4 214.5 L376.8 214.7 L376.8 211.0 L377.3 211.3 L377.3 213.3 L377.8 212.5 L377.8 211.0 L378.3 210.2 L378.3 213.0 L378.7 213.5 L378.7 212.1 L379.2 210.8 L379.2 213.4 L379.7 213.0 L379.7 210.6 L380.2 211.7 L380.2 214.1 L380.6 213.3 L380.6 211.1 L381.1 211.1 L381.1 213.3 L381.6 214.2 L381.6 210.5 L382.0 210.3 L382.0 213.9 L382.5 213.9 L382.5 210.9 L383.0 211.5 L383.0 217.2 L383.5 213.7 L383.5 211.3 L383.9 210.5 L383.9 213.5 L384.4 213.9 L384.4 211.2 L384.9 210.9 L384.9 215.3 L385.4 213.9 L385.4 210.3 L385.8 211.8 L385.8 215.0 L386.3 217.5 L386.3 213.3 L386.8 215.7 L386.8 218.8 L387.3 218.9 L387.3 216.0 L387.7 215.4 L387.7 218.8 L388.2 218.5 L388.2 215.7 L388.7 216.6 L388.7 220.2 L389.1 219.0 L389.1 215.9 L389.6 215.8 L389.6 218.4 L390.1 218.7 L390.1 216.1 L390.6 216.4 L390.6 219.0 L391.0 218.9 L391.0 216.7 L391.5 216.4 L391.5 218.8 L392.0 218.4 L392.0 216.1 L392.5 215.6 L392.5 219.0 L392.9 218.1 L392.9 215.7 L393.4 216.5 L393.4 218.6 L393.9 219.3 L393.9 217.0 L394.4 215.2 L394.4 218.8 L394.8 218.4 L394.8 216.0 L395.3 215.9 L395.3 218.1 L395.8 218.8 L395.8 216.3 L396.3 216.4 L396.3 218.5 L396.7 219.4 L396.7 215.4 L397.2 215.6 L397.2 218.8 L397.7 218.7 L397.7 216.1 L398.1 215.6 L398.1 217.8 L398.6 218.6 L398.6 216.6 L399.1 216.6 L399.1 219.0 L399.6 219.1 L399.6 216.5 L400.0 215.8 L400.0 221.0 L400.5 218.3 L400.5 216.0 L401.0 215.9 L401.0 218.7 L401.5 218.4 L401.5 216.2 L401.9 216.5 L401.9 221.8 L402.4 219.8 L402.4 217.0 L402.9 217.1 L402.9 218.5 L403.4 218.6 L403.4 214.3 L403.8 215.0 L403.8 218.5 L404.3 218.5 L404.3 215.3 L404.8 216.5 L404.8 218.6 L405.2 218.5 L405.2 216.5 L405.7 215.8 L405.7 218.2 L406.2 219.4 L406.2 216.9 L406.7 215.0 L406.7 218.5 L407.1 218.4 L407.1 216.5 L407.6 216.6 L407.6 219.4 L408.1 218.6 L408.1 216.4 L408.6 216.2 L408.6 218.9 L409.0 218.8 L409.0 215.6 L409.5 216.7 L409.5 219.0 L410.0 218.5 L410.0 215.5 L410.5 215.6 L410.5 218.2 L410.9 218.8 L410.9 216.4 L411.4 216.0 L411.4 218.2 L411.9 218.6 L411.9 216.2 L412.4 216.4 L412.4 218.9 L412.8 219.0 L412.8 215.8 L413.3 216.5 L413.3 218.0 L413.8 218.9 L413.8 216.2 L414.2 215.8 L414.2 219.0 L414.7 219.0 L414.7 216.4 L415.2 216.3 L415.2 219.2 L415.7 218.3 L415.7 216.0 L416.1 216.1 L416.1 218.4 L416.6 218.8 L416.6 216.7 L417.1 216.5 L417.1 218.7 L417.6 218.7 L417.6 215.6 L418.0 215.3 L418.0 217.6 L418.5 220.7 L418.5 216.0 L419.0 216.2 L419.0 217.8 L419.5 218.1 L419.5 215.8 L419.9 216.7 L419.9 218.1 L420.4 219.2 L420.4 216.7 L420.9 216.7 L420.9 218.6 L421.3 219.5 L421.3 216.5 L421.8 216.3 L421.8 220.3 L422.3 218.5 L422.3 216.1 L422.8 215.5 L422.8 217.9 L423.2 216.7 L423.2 213.3 L423.7 211.8 L423.7 213.2 L424.2 212.8 L424.2 211.0 L424.7 211.0 L424.7 213.3 L425.1 213.3 L425.1 211.2 L425.6 211.1 L425.6 214.7 L426.1 213.5 L426.1 211.0 L426.6 211.1 L426.6 213.7 L427.0 213.1 L427.0 209.4 L427.5 210.7 L427.5 213.8 L428.0 213.7 L428.0 211.1 L428.4 211.0 L428.4 212.4 L428.9 212.2 L428.9 210.9 L429.4 209.6 L429.4 211.6 L429.9 212.4 L429.9 209.8 L430.3 210.8 L430.3 214.3 L430.8 212.9 L430.8 210.3 L431.3 210.5 L431.3 213.5 L431.8 213.0 L431.8 210.6 L432.2 210.5 L432.2 212.3 L432.7 214.5 L432.7 210.7 L433.2 209.7 L433.2 212.2 L433.7 212.5 L433.7 210.0 L434.1 210.8 L434.1 212.2 L434.6 213.3 L434.6 210.1 L435.1 208.8 L435.1 213.5 L435.6 212.8 L435.6 209.8 L436.0 210.9 L436.0 212.5 L436.5 212.4 L436.5 208.6 L437.0 210.5 L437.0 213.1 L437.4 213.9 L437.4 209.7 L437.9 209.4 L437.9 212.7 L438.4 212.9 L438.4 210.9 L438.9 210.6 L438.9 212.4 L439.3 212.7 L439.3 210.4 L439.8 209.5 L439.8 211.6 L440.3 212.9 L440.3 210.2 L440.8 210.3 L440.8 213.4 L441.2 212.2 L441.2 210.5 L441.7 210.2 L441.7 212.1 L442.2 211.9 L442.2 210.9 L442.7 210.3 L442.7 211.9 L443.1 212.8 L443.1 210.9 L443.6 209.6 L443.6 214.1 L444.1 212.0 L444.1 209.9 L444.5 210.6 L444.5 212.5 L445.0 212.8 L445.0 210.8 L445.5 211.1 L445.5 212.9 L446.0 212.6 L446.0 210.4 L446.4 210.7 L446.4 213.0 L446.9 212.6 L446.9 209.0 L447.4 209.1 L447.4 212.7 L447.9 212.4 L447.9 209.8 L448.3 210.9 L448.3 214.2 L448.8 212.5 L448.8 210.2 L449.3 209.7 L449.3 211.8 L449.8 212.2 L449.8 210.2 L450.2 210.9 L450.2 212.5 L450.7 212.8 L450.7 210.8 L451.2 210.5 L451.2 213.1 L451.7 212.3 L451.7 210.2 L452.1 211.1 L452.1 212.6 L452.6 211.8 L452.6 210.7 L453.1 209.6 L453.1 212.8 L453.5 212.7 L453.5 210.0 L454.0 210.1 L454.0 212.8 L454.5 212.5 L454.5 210.9 L455.0 210.7 L455.0 213.1 L455.4 212.6 L455.4 210.8 L455.9 210.6 L455.9 212.7 L456.4 213.8 L456.4 209.7 L456.9 210.7 L456.9 212.4 L457.3 212.9 L457.3 210.1 L457.8 209.6 L457.8 213.5 L458.3 212.6 L458.3 209.2 L458.8 210.5 L458.8 212.7 L459.2 212.9 L459.2 210.5 L459.7 210.4 L459.7 212.9 L460.2 213.1 L460.2 209.6 L460.6 210.6 L460.6 212.7 L461.1 212.4 L461.1 210.5 L461.6 210.2 L461.6 212.3 L462.1 213.4 L462.1 209.9 L462.5 210.6 L462.5 212.6 L463.0 212.6 L463.0 210.1 L463.5 210.4 L463.5 213.1 L464.0 212.2 L464.0 210.1 L464.4 209.5 L464.4 212.3 L464.9 212.8 L464.9 210.4 L465.4 209.7 L465.4 212.5 L465.9 212.8 L465.9 211.0 L466.3 209.9 L466.3 212.6 L466.8 213.2 L466.8 209.9 L467.3 209.4 L467.3 213.8 L467.7 213.3 L467.7 209.8 L468.2 209.8 L468.2 212.7 L468.7 213.0 L468.7 208.9 L469.2 209.6 L469.2 212.6 L469.6 212.3 L469.6 210.1 L470.1 210.5 L470.1 213.4 L470.6 213.5 L470.6 210.0 L471.1 210.0 L471.1 212.6 L471.5 212.7 L471.5 210.7 L472.0 210.8 L472.0 212.6 L472.5 212.1 L472.5 209.6 L473.0 211.2 L473.0 213.6 L473.4 212.4 L473.4 210.3 L473.9 210.0 L473.9 212.5 L474.4 212.8 L474.4 210.0 L474.9 210.2 L474.9 213.2 L475.3 211.9 L475.3 209.5 L475.8 209.8 L475.8 212.4 L476.3 213.3 L476.3 211.3 L476.7 210.6 L476.7 212.7 L477.2 213.3 L477.2 209.1 L477.7 210.1 L477.7 214.0 L478.2 213.1 L478.2 210.7 L478.6 209.2 L478.6 213.5 L479.1 213.1 L479.1 211.2 L479.6 210.6 L479.6 213.1 L480.1 213.5 L480.1 210.8 L480.5 210.4 L480.5 212.7 L481.0 213.7 L481.0 210.0 L481.5 210.2 L481.5 213.6 L482.0 212.2 L482.0 210.6 L482.4 209.3 L482.4 213.1 L482.9 214.9 L482.9 210.9 L483.4 210.3 L483.4 213.1 L483.8 213.8 L483.8 210.9 L484.3 210.2 L484.3 212.4 L484.8 213.0 L484.8 210.6 L485.3 210.0 L485.3 213.5 L485.7 212.6 L485.7 209.6 L486.2 210.6 L486.2 212.5 L486.7 213.8 L486.7 210.5 L487.2 210.4 L487.2 212.5 L487.6 212.9 L487.6 210.9 L488.1 211.0 L488.1 212.6 L488.6 212.7 L488.6 210.7 L489.1 209.9 L489.1 212.8 L489.5 212.5 L489.5 210.1 L490.0 210.0 L490.0 213.5 L490.5 212.9 L490.5 209.8 L491.0 210.0 L491.0 212.6 L491.4 212.7 L491.4 209.8 L491.9 209.6 L491.9 213.9 L492.4 212.7 L492.4 210.6 L492.8 209.5 L492.8 213.3 L493.3 214.4 L493.3 211.3 L493.8 210.4 L493.8 213.0 L494.3 212.7 L494.3 210.1 L494.7 210.7 L494.7 213.0 L495.2 213.4 L495.2 210.9 L495.7 210.6 L495.7 213.4 L496.2 212.9 L496.2 210.2 L496.6 209.7 L496.6 212.7 L497.1 212.2 L497.1 208.9 L497.6 210.5 L497.6 212.2 L498.1 212.4 L498.1 210.4 L498.5 210.6 L498.5 213.2 L499.0 213.4 L499.0 209.5 L499.5 209.4 L499.5 212.7 L499.9 212.8 L499.9 210.2 L500.4 211.0 L500.4 212.2 L500.9 212.6 L500.9 209.9 L501.4 210.7 L501.4 212.6 L501.8 211.7 L501.8 209.6 L502.3 209.9 L502.3 213.1 L502.8 212.5 L502.8 210.7 L503.3 209.4 L503.3 212.7 L503.7 213.3 L503.7 209.8 L504.2 210.4 L504.2 214.0 L504.7 211.9 L504.7 210.5 L505.2 210.3 L505.2 212.2 L505.6 213.1 L505.6 209.8 L506.1 209.9 L506.1 212.7 L506.6 213.6 L506.6 210.3 L507.1 209.3 L507.1 212.6 L507.5 212.4 L507.5 209.9 L508.0 210.1 L508.0 213.1 L508.5 212.8 L508.5 210.3 L508.9 210.2 L508.9 212.8 L509.4 212.9 L509.4 210.7 L509.9 210.0 L509.9 213.0 L510.4 212.1 L510.4 210.8 L510.8 210.0 L510.8 213.2 L511.3 213.1 L511.3 210.4 L511.8 210.0 L511.8 212.3 L512.3 212.7 L512.3 209.3 L512.7 208.6 L512.7 212.8 L513.2 212.7 L513.2 208.2 L513.7 210.1 L513.7 213.8 L514.2 212.1 L514.2 210.4 L514.6 210.5 L514.6 213.0 L515.1 213.6 L515.1 211.2 L515.6 211.8 L515.6 215.0 L516.0 214.2 L516.0 210.5 L516.5 211.4 L516.5 213.8 L517.0 216.3 L517.0 211.8 L517.5 213.6 L517.5 217.3 L517.9 219.6 L517.9 216.6 L518.4 216.3 L518.4 219.0 L518.9 218.7 L518.9 216.7 L519.4 216.4 L519.4 219.3 L519.8 220.0 L519.8 215.9 L520.3 216.4 L520.3 218.7 L520.8 218.6 L520.8 216.6 L521.3 216.9 L521.3 218.2 L521.7 218.3 L521.7 215.7 L522.2 216.1 L522.2 219.5 L522.7 219.0 L522.7 217.3 L523.1 216.4 L523.1 218.7 L523.6 218.2 L523.6 216.0 L524.1 216.5 L524.1 218.5 L524.6 219.7 L524.6 215.8 L525.0 214.7 L525.0 218.2 L525.5 218.9 L525.5 215.9 L526.0 216.4 L526.0 218.5 L526.5 219.6 L526.5 216.7 L526.9 216.1 L526.9 219.6 L527.4 219.1 L527.4 217.1 L527.9 216.9 L527.9 219.4 L528.4 218.2 L528.4 216.4 L528.8 216.5 L528.8 218.6 L529.3 218.9 L529.3 216.9 L529.8 216.2 L529.8 220.7 L530.3 218.7 L530.3 216.0 L530.7 216.3 L530.7 219.6 L531.2 218.7 L531.2 216.0 L531.7 216.2 L531.7 218.3 L532.1 218.9 L532.1 216.8 L532.6 215.8 L532.6 218.6 L533.1 218.4 L533.1 216.5 L533.6 217.0 L533.6 218.4 L534.0 220.1 L534.0 216.4 L534.0 216.1 L534.0 216.1" stroke="#ff0000" stroke-width="1.0"/>
<path d="M60.8 12.3 L60.8 15.3 L60.9 18.0 L60.9 20.6 L61.0 23.3 L61.0 25.6 L61.1 27.0 L61.1 27.8 L61.2 28.4 L61.2 28.9 L61.3 29.3 L61.3 29.7 L61.4 30.0 L61.4 30.3 L61.5 30.7 L61.5 31.0 L61.6 31.4 L61.6 31.8 L61.7 32.2 L61.7 32.6 L61.7 33.0 L61.8 33.4 L61.8 33.8 L61.9 34.1 L61.9 34.5 L62.0 34.9 L62.0 35.2 L62.1 35.6 L62.1 35.9 L62.2 36.3 L62.2 36.7 L62.3 37.0 L62.3 37.3 L62.4 37.7 L62.4 38.0 L62.5 38.4 L62.5 38.7 L62.6 39.1 L62.6 39.4 L62.6 39.7 L62.7 40.1 L62.7 40.4 L62.8 40.8 L62.8 41.1 L62.9 41.4 L62.9 41.8 L63.0 42.1 L63.0 42.5 L63.1 42.8 L63.1 43.2 L63.2 43.5 L63.2 43.9 L63.3 44.2 L63.3 44.6 L63.4 44.9 L63.4 45.3 L63.5 45.6 L63.5 46.0 L63.5 46.4 L63.6 46.7 L63.6 47.1 L63.7 47.4 L63.7 47.8 L63.8 48.2 L63.8 48.5 L63.9 48.9 L63.9 49.3 L64.0 49.6 L64.0 50.0 L64.1 50.4 L64.1 50.7 L64.2 51.1 L64.2 51.5 L64.3 51.8 L64.3 52.2 L64.4 52.6 L64.4 53.0 L64.4 53.3 L64.5 53.7 L64.5 54.1 L64.6 54.4 L64.6 54.8 L64.7 55.2 L64.7 55.6 L64.8 55.9 L64.8 56.3 L64.9 56.7 L64.9 57.0 L65.0 57.4 L65.0 57.8 L65.1 58.1 L65.1 58.5 L65.2 58.8 L65.2 59.2 L65.3 59.6 L65.3 59.9 L65.3 60.3 L65.4 60.6 L65.4 61.0 L65.5 61.3 L65.5 61.7 L65.6 62.0 L65.6 62.4 L65.7 62.8 L65.7 63.1 L65.8 63.5 L65.8 63.8 L65.9 64.1 L65.9 64.5 L66.0 64.8 L66.0 65.2 L66.1 65.5 L66.1 65.9 L66.2 66.2 L66.2 66.6 L66.2 66.9 L66.3 67.3 L66.3 67.6 L66.4 67.9 L66.4 68.3 L66.5 68.6 L66.5 69.0 L66.6 69.3 L66.6 69.7 L66.7 70.0 L66.7 70.3 L66.8 70.7 L66.8 71.0 L66.9 71.3 L66.9 71.7 L67.0 72.0 L67.0 72.3 L67.1 72.7 L67.1 73.0 L67.1 73.3 L67.2 73.7 L67.2 74.0 L67.3 74.3 L67.3 74.6 L67.4 75.0 L67.4 75.3 L67.5 75.6 L67.5 75.9 L67.6 76.2 L67.6 76.5 L67.7 76.9 L67.7 77.2 L67.8 77.5 L67.8 77.8 L67.9 78.1 L67.9 78.4 L67.9 78.7 L68.0 79.0 L68.0 79.3 L68.1 79.6 L68.1 79.8 L68.2 80.1 L68.2 80.4 L68.3 80.7 L68.3 81.0 L68.4 81.2 L68.4 81.5 L68.5 81.8 L68.5 82.1 L68.6 82.3 L68.6 82.6 L68.7 82.8 L68.7 83.1 L68.8 83.4 L68.8 83.6 L68.8 83.9 L68.9 84.1 L68.9 84.4 L69.0 84.6 L69.0 84.8 L69.1 85.1 L69.1 85.3 L69.2 85.5 L69.2 85.8 L69.3 86.0 L69.3 86.2 L69.4 86.5 L69.4 86.7 L69.5 86.9 L69.5 87.1 L69.6 87.3 L69.6 87.6 L69.7 87.8 L69.7 88.0 L69.7 88.2 L69.8 88.4 L69.8 88.6 L69.9 88.9 L69.9 89.1 L70.0 89.3 L70.0 89.5 L70.1 89.7 L70.1 89.9 L70.2 90.1 L70.2 90.3 L70.3 90.5 L70.3 90.7 L70.4 90.9 L70.4 91.2 L70.5 91.4 L70.5 91.6 L70.6 91.8 L70.6 92.0 L70.6 92.2 L70.7 92.4 L70.7 92.6 L70.8 92.8 L70.8 93.0 L70.9 93.2 L70.9 93.4 L71.0 93.6 L71.0 93.8 L71.1 94.0 L71.1 94.2 L71.2 94.5 L71.2 94.7 L71.3 94.9 L71.3 95.1 L71.4 95.3 L71.4 95.5 L71.5 95.7 L71.5 95.9 L71.5 96.1 L71.6 96.3 L71.6 96.5 L71.7 96.7 L71.7 96.9 L71.8 97.1 L71.8 97.3 L71.9 97.5 L71.9 97.7 L72.0 97.9 L72.0 98.1 L72.1 98.3 L72.1 98.5 L72.2 98.7 L72.2 99.0 L72.3 99.2 L72.3 99.4 L72.4 99.6 L72.4 99.8 L72.4 100.0 L72.5 100.2 L72.5 100.4 L72.6 100.6 L72.6 100.8 L72.7 101.0 L72.7 101.2 L72.8 101.4 L72.8 101.6 L72.9 101.9 L72.9 102.1 L73.0 102.3 L73.0 102.5 L73.1 102.7 L73.1 102.9 L73.2 103.1 L73.2 103.3 L73.3 103.6 L73.3 103.8 L73.3 104.0 L73.4 104.2 L73.4 104.4 L73.5 104.6 L73.5 104.9 L73.6 105.1 L73.6 105.3 L73.7 105.5 L73.7 105.7 L73.8 106.0 L73.8 106.2 L73.9 106.4 L73.9 106.6 L74.0 106.8 L74.0 107.1 L74.1 107.3 L74.1 107.5 L74.2 107.7 L74.2 108.0 L74.2 108.2 L74.3 108.4 L74.3 108.6 L74.4 108.9 L74.4 109.1 L74.5 109.3 L74.5 109.6 L74.6 109.8 L74.6 110.0 L74.7 110.3 L74.7 110.5 L74.8 110.7 L74.8 111.0 L74.9 111.2 L74.9 111.5 L75.0 111.7 L75.0 112.0 L75.1 112.2 L75.1 112.4 L75.1 112.7 L75.2 112.9 L75.2 113.2 L75.3 113.4 L75.3 113.7 L75.4 114.0 L75.4 114.2 L75.5 114.5 L75.5 114.7 L75.6 115.0 L75.6 115.2 L75.7 115.5 L75.7 115.8 L75.8 116.0 L75.8 116.3 L75.9 116.6 L75.9 116.8 L76.0 117.1 L76.0 117.4 L76.0 117.6 L76.1 117.9 L76.1 118.2 L76.2 118.5 L76.2 118.7 L76.3 119.0 L76.3 119.3 L76.4 119.6 L76.4 119.9 L76.5 120.2 L76.5 120.5 L76.6 120.8 L76.6 121.1 L76.7 121.4 L76.7 121.7 L76.8 122.0 L76.8 122.3 L76.9 122.6 L76.9 122.9 L76.9 123.2 L77.0 123.5 L77.0 123.8 L77.1 124.2 L77.1 124.5 L77.2 124.8 L77.2 125.2 L77.3 125.5 L77.3 125.8 L77.4 126.2 L77.4 126.5 L77.5 126.9 L77.5 127.3 L77.6 127.6 L77.6 128.0 L77.7 128.3 L77.7 128.7 L77.8 129.1 L77.8 129.5 L77.8 129.9 L77.9 130.2 L77.9 130.6 L78.0 131.0 L78.0 131.4 L78.1 131.8 L78.1 132.2 L78.2 132.7 L78.2 133.1 L78.3 133.5 L78.3 133.9 L78.4 134.3 L78.4 134.8 L78.5 135.2 L78.5 135.6 L78.6 136.1 L78.6 136.5 L78.7 136.9 L78.7 137.4 L78.7 137.8 L78.8 138.3 L78.8 138.7 L78.9 139.2 L78.9 139.6 L79.0 140.1 L79.0 140.5 L79.1 141.0 L79.1 141.5 L79.2 141.9 L79.2 142.4 L79.3 142.9 L79.3 143.3 L79.4 143.8 L79.4 144.3 L79.5 144.8 L79.5 145.3 L79.6 145.7 L79.6 146.2 L79.6 146.7 L79.7 147.2 L79.7 147.7 L79.8 148.2 L79.8 148.7 L79.9 149.2 L79.9 149.7 L80.0 150.3 L80.0 150.8 L80.1 151.3 L80.1 151.8 L80.2 152.3 L80.2 152.9 L80.3 153.4 L80.3 153.9 L80.4 154.4 L80.4 155.0 L80.5 155.5 L80.5 156.0 L80.5 156.6 L80.6 157.1 L80.6 157.7 L80.7 158.2 L80.7 158.8 L80.8 159.3 L80.8 159.9 L80.9 160.4 L80.9 161.0 L81.0 161.5 L81.0 162.0 L81.1 162.6 L81.1 163.1 L81.2 163.6 L81.2 163.9 L81.3 164.5 L81.3 165.2 L81.3 165.9 L81.4 166.4 L81.4 167.0 L81.5 167.7 L81.5 168.3 L81.6 168.7 L81.6 168.9 L81.7 169.7 L81.7 170.7 L81.8 171.4 L81.8 171.6 L81.9 171.4 L81.9 172.0 L82.0 173.1 L82.0 174.2 L82.1 174.7 L82.1 174.6 L82.2 175.3 L82.2 175.8 L82.2 176.7 L82.3 176.6 L82.3 176.9 L82.4 177.4 L82.4 177.4 L82.5 177.1 L82.5 176.7 L82.6 177.1 L82.6 177.6 L82.7 182.1 L82.7 182.7 L82.8 189.7 L82.8 190.5 L82.9 189.4 L82.9 186.5 L83.0 183.4 L83.0 185.3 L83.1 187.6 L83.1 186.4 L83.1 189.3 L83.2 184.4 L83.2 191.0 L83.3 191.8 L83.3 190.7 L83.4 189.6 L83.4 187.4 L83.5 190.3 L83.5 187.7 L83.6 181.9 L83.6 181.1 L83.7 181.1 L83.7 186.7 L83.8 180.6 L83.8 181.6 L83.9 181.9 L83.9 189.8 L84.0 185.0 L84.0 182.1 L84.0 174.8 L84.1 181.8 L84.1 178.4 L84.2 186.2 L84.2 182.4 L84.3 185.1 L84.3 180.9 L84.4 182.4 L84.4 180.9 L84.5 185.5 L84.5 186.1 L84.6 186.0 L84.6 182.4 L84.7 180.4 L84.7 176.5 L84.8 180.7 L84.8 185.2 L84.9 186.9 L84.9 182.8 L84.9 181.7 L85.0 179.8 L85.0 181.9 L85.1 172.0 L85.1 182.3 L85.2 183.1 L85.2 187.1 L85.3 180.1 L85.3 172.8 L85.4 176.2 L85.4 180.0 L85.5 183.0 L85.5 179.1 L85.6 178.9 L85.6 181.4 L85.7 188.4 L85.7 184.5 L85.8 187.2 L85.8 179.6 L85.8 182.1 L85.9 179.2 L85.9 181.7 L86.0 179.1 L86.0 178.7 L86.1 180.9 L86.1 182.2 L86.2 183.3 L86.2 183.6 L86.3 182.3 L86.3 179.7 L86.4 173.8 L86.4 175.8 L86.5 186.5 L86.5 189.8 L86.6 185.9 L86.6 176.8 L86.7 178.5 L86.7 181.4 L86.7 183.0 L86.8 180.5 L86.8 174.3 L86.9 170.3 L86.9 174.4 L87.0 182.7 L87.0 180.9 L87.1 175.5 L87.1 167.0 L87.2 169.1 L87.2 171.7 L87.3 177.5 L87.3 174.0 L87.4 168.4 L87.4 169.2 L87.5 174.1 L87.5 180.1 L87.6 176.6 L87.6 178.2 L87.6 176.5 L87.7 177.8 L87.7 175.2 L87.8 175.5 L87.8 181.3 L87.9 184.1 L87.9 183.3 L88.0 181.7 L88.0 181.7 L88.1 189.0 L88.1 192.2 L88.2 186.9 L88.2 188.6 L88.3 182.6 L88.3 182.4 L88.4 181.5 L88.4 176.5 L88.5 178.5 L88.5 178.3 L88.5 180.7 L88.6 182.2 L88.6 187.3 L88.7 188.3 L88.7 189.0 L88.8 188.0 L88.8 193.1 L88.9 187.7 L88.9 178.5 L89.0 176.3 L89.0 178.1 L89.1 182.6 L89.1 180.2 L89.2 180.8 L89.2 181.3 L89.3 183.0 L89.3 184.4 L89.4 184.9 L89.4 188.8 L89.4 189.7 L89.5 188.2 L89.5 185.9 L89.6 182.5 L89.6 183.7 L89.7 183.6 L89.7 186.2 L89.8 184.4 L89.8 180.3 L89.9 180.9 L89.9 185.2 L90.0 186.1 L90.0 183.2 L90.1 177.7 L90.1 187.2 L90.2 192.5 L90.2 192.0 L90.3 185.6 L90.3 183.2 L90.3 182.0 L90.4 184.6 L90.4 185.3 L90.5 187.6 L90.5 186.3 L90.6 187.1 L90.6 188.2 L90.7 189.0 L90.7 187.6 L90.8 183.3 L90.8 185.3 L90.9 186.2 L90.9 191.2 L91.0 188.1 L91.0 184.3 L91.1 179.1 L91.1 173.9 L91.2 167.6 L91.2 176.4 L91.2 182.9 L91.3 184.2 L91.3 178.1 L91.4 175.5 L91.4 183.6 L91.5 184.2 L91.5 181.7 L91.6 180.5 L91.6 181.6 L91.7 185.6 L91.7 186.3 L91.8 183.1 L91.8 181.8 L91.9 180.9 L91.9 184.7 L92.0 185.1 L92.0 186.5 L92.1 189.9 L92.1 191.0 L92.1 195.4 L92.2 192.9 L92.2 195.7 L92.3 188.2 L92.3 186.8 L92.4 186.9 L92.4 191.4 L92.5 192.0 L92.5 193.7 L92.6 190.3 L92.6 189.9 L92.7 187.2 L92.7 190.4 L92.8 192.6 L92.8 196.0 L92.9 197.4 L92.9 201.2 L93.0 200.0 L93.0 196.3 L93.0 196.9 L93.1 197.2 L93.1 195.6 L93.2 194.4 L93.2 197.1 L93.3 198.2 L93.3 200.0 L93.4 201.9 L93.4 199.5 L93.5 200.1 L93.5 198.1 L93.6 200.1 L93.6 200.0 L93.7 200.0 L93.7 201.1 L93.8 200.1 L93.8 201.2 L93.9 200.3 L93.9 200.6 L93.9 201.8 L94.0 199.8 L94.0 200.8 L94.1 201.1 L94.1 201.3 L94.2 201.2 L94.2 200.8 L94.3 200.4 L94.3 201.2 L94.4 201.4 L94.4 202.0 L94.5 202.6 L94.5 201.4 L94.6 203.0 L94.6 201.2 L94.7 201.3 L94.7 203.0 L94.7 202.1 L94.8 203.4 L94.8 203.0 L94.9 204.0 L94.9 201.2 L95.0 202.8 L95.0 203.6 L95.1 202.3 L95.1 203.5 L95.2 203.8 L95.2 202.8 L95.3 202.1 L95.3 202.2 L95.4 202.9 L95.4 203.7 L95.5 203.5 L95.5 203.6 L95.6 203.1 L95.6 203.6 L95.6 204.1 L95.7 202.8 L95.7 203.9 L95.8 204.5 L95.8 203.2 L95.9 203.4 L95.9 204.8 L96.0 203.7 L96.0 202.5 L96.1 202.7 L96.1 203.8 L96.2 203.3 L96.2 204.8 L96.3 202.4 L96.3 201.6 L96.4 202.6 L96.4 202.8 L96.5 201.9 L96.5 204.1 L96.5 203.4 L96.6 203.7 L96.6 204.3 L96.7 203.1 L96.7 202.7 L96.8 203.2 L96.8 204.2 L96.9 203.3 L96.9 202.3 L97.0 204.7 L97.0 204.4 L97.1 204.7 L97.1 202.8 L97.2 204.7 L97.2 203.9 L97.3 205.4 L97.3 205.8 L97.4 204.1 L97.4 204.8 L97.4 205.1 L97.5 205.1 L97.5 203.4 L97.6 203.3 L97.6 202.0 L97.7 203.8 L97.7 204.0 L97.8 205.9 L97.8 205.1 L97.9 205.3 L97.9 205.1 L98.0 206.2 L98.0 205.2 L98.1 204.5 L98.1 204.9 L98.2 205.1 L98.2 205.4 L98.3 203.8 L98.3 204.8 L98.3 206.7 L98.4 204.0 L98.4 204.2 L98.5 204.1 L98.5 205.4 L98.6 205.0 L98.6 205.3 L98.7 203.8 L98.7 204.0 L98.8 203.8 L98.8 204.9 L98.9 205.0 L98.9 204.7 L99.0 206.6 L99.0 204.6 L99.1 205.6 L99.1 205.1 L99.2 206.2 L99.2 205.2 L99.2 204.2 L99.3 205.1 L99.3 206.7 L99.4 205.9 L99.4 204.9 L99.5 205.2 L99.5 205.6 L99.6 206.0 L99.6 205.1 L99.7 205.7 L99.7 205.8 L99.8 205.3 L99.8 205.7 L99.9 206.2 L99.9 206.7 L100.0 205.1 L100.0 206.5 L100.1 205.1 L100.1 206.6 L100.1 205.5 L100.2 206.0 L100.2 206.7 L100.3 207.4 L100.3 205.6 L100.4 206.5 L100.4 204.6 L100.5 205.3 L100.5 205.0 L100.6 206.3 L100.6 205.7 L100.7 207.0 L100.7 203.9 L100.8 205.7 L100.8 205.6 L100.9 206.8 L100.9 205.6 L101.0 207.3 L101.0 205.7 L101.0 205.8 L101.1 205.3 L101.1 206.9 L101.2 205.2 L101.2 207.7 L101.3 205.6 L101.3 205.7 L101.4 206.2 L101.4 205.1 L101.5 205.9 L101.5 208.1 L101.6 205.8 L101.6 205.8 L101.7 206.3 L101.7 206.4 L101.8 208.9 L101.8 206.0 L101.9 206.0 L101.9 207.3 L101.9 206.4 L102.0 206.5 L102.0 207.7 L102.1 206.9 L102.1 207.2 L102.2 207.3 L102.2 206.5 L102.3 208.5 L102.3 205.7 L102.4 206.9 L102.4 206.7 L102.5 208.1 L102.5 207.0 L102.6 206.9 L102.6 206.2 L102.7 206.5 L102.7 206.1 L102.8 207.7 L102.8 206.7 L102.8 207.4 L102.9 207.8 L102.9 206.0 L103.0 206.9 L103.0 204.7 L103.1 206.9 L103.1 206.9 L103.2 207.1 L103.2 207.3 L103.3 207.5 L103.3 206.0 L103.4 207.8 L103.4 207.3 L103.5 206.6 L103.5 206.0 L103.6 205.9 L103.6 208.9 L103.7 207.0 L103.7 207.3 L103.7 208.2 L103.8 207.2 L103.8 208.5 L103.9 208.3 L103.9 207.9 L104.0 206.2 L104.0 208.7 L104.1 206.4 L104.1 210.0 L104.2 208.4 L104.2 207.8 L104.3 207.3 L104.3 207.6 L104.4 208.2 L104.4 207.9 L104.5 208.5 L104.5 208.2 L104.6 208.4 L104.6 206.4 L104.6 207.8 L104.7 206.3 L104.7 208.0 L104.8 207.8 L104.8 207.1 L104.9 208.1 L104.9 208.2 L105.0 207.7 L105.0 207.8 L105.1 208.4 L105.1 209.3 L105.2 206.5 L105.2 207.9 L105.3 207.7 L105.3 207.2 L105.4 207.5 L105.4 210.1 L105.5 208.4 L105.5 207.9 L105.5 207.1 L105.6 206.8 L105.6 207.3 L105.7 209.0 L105.7 207.7 L105.8 206.9 L105.8 208.0 L105.9 209.3 L105.9 207.6 L106.0 206.5 L106.0 209.4 L106.1 208.6 L106.1 208.2 L106.2 208.1 L106.2 207.5 L106.3 207.7 L106.3 209.1 L106.4 208.1 L106.4 208.4 L106.4 208.6 L106.5 208.5 L106.5 208.3 L106.6 208.6 L106.6 209.2 L106.7 207.9 L106.7 208.0 L106.8 207.8 L106.8 208.4 L106.9 208.8 L106.9 207.9 L107.0 208.1 L107.0 208.5 L107.1 207.3 L107.1 207.6 L107.2 209.5 L107.2 208.5 L107.3 208.6 L107.3 207.2 L107.3 209.2 L107.4 208.7 L107.4 208.3 L107.5 206.8 L107.5 209.6 L107.6 209.5 L107.6 209.4 L107.7 209.8 L107.7 209.6 L107.8 209.1 L107.8 209.2 L107.9 208.6 L107.9 209.0 L108.0 209.8 L108.0 208.5 L108.1 208.1 L108.1 209.4 L108.1 207.5 L108.2 209.3 L108.2 208.3 L108.3 209.5 L108.3 209.7 L108.4 208.3 L108.4 208.5 L108.5 207.7 L108.5 208.3 L108.6 209.0 L108.6 207.4 L108.7 209.2 L108.7 209.3 L108.8 208.2 L108.8 208.8 L108.9 209.4 L108.9 208.8 L109.0 209.7 L109.0 208.0 L109.0 208.9 L109.1 209.0 L109.1 208.3 L109.2 210.1 L109.2 208.2 L109.3 208.5 L109.3 208.4 L109.4 207.8 L109.4 208.9 L109.5 208.3 L109.5 207.5 L109.6 208.3 L109.6 209.1 L109.7 209.7 L109.7 208.9 L109.8 207.8 L109.8 208.5 L109.9 208.1 L109.9 208.0 L109.9 209.0 L110.0 210.4 L110.0 209.7 L110.1 207.7 L110.1 209.5 L110.2 208.1 L110.2 208.2 L110.3 209.2 L110.3 209.9 L110.4 207.7 L110.4 208.8 L110.5 207.8 L110.5 209.0 L110.6 209.7 L110.6 208.9 L110.7 208.7 L110.7 208.8 L110.8 207.8 L110.8 208.5 L110.8 209.2 L110.9 209.5 L110.9 209.6 L111.0 207.8 L111.0 208.8 L111.1 207.9 L111.1 208.4 L111.2 208.1 L111.2 208.1 L111.3 209.5 L111.3 209.7 L111.4 209.5 L111.4 209.6 L111.5 209.0 L111.5 209.5 L111.6 209.1 L111.6 207.4 L111.7 209.2 L111.7 208.4 L111.7 209.8 L111.8 209.8 L111.8 208.0 L111.9 207.9 L111.9 208.6 L112.0 209.3 L112.0 209.7 L112.1 209.3 L112.1 207.2 L112.2 209.5 L112.2 209.7 L112.3 209.3 L112.3 209.0 L112.4 209.0 L112.4 209.2 L112.5 209.6 L112.5 209.3 L112.6 206.9 L112.6 208.3 L112.6 210.2 L112.7 207.7 L112.7 207.9 L112.8 208.4 L112.8 208.7 L112.9 207.3" stroke="#00e000" stroke-width="1.25" stroke-dasharray="3 2.7"/>
<path d="M113.1 207.3 L113.1 210.2 L113.6 210.5 L113.6 207.8 L114.0 208.1 L114.0 210.2 L114.5 210.9 L114.5 207.0 L115.0 208.0 L115.0 211.2 L115.5 210.2 L115.5 207.1 L115.9 207.3 L115.9 210.2 L116.4 211.2 L116.4 208.5 L116.9 208.2 L116.9 211.1 L117.4 210.4 L117.4 208.0 L117.8 208.1 L117.8 210.2 L118.3 210.7 L118.3 207.9 L118.8 208.0 L118.8 210.8 L119.3 210.3 L119.3 207.8 L119.7 208.7 L119.7 211.2 L120.2 210.6 L120.2 208.4 L120.7 207.4 L120.7 210.9 L121.1 211.1 L121.1 208.4 L121.6 207.6 L121.6 210.4 L122.1 211.0 L122.1 208.2 L122.6 208.2 L122.6 211.0 L123.0 210.5 L123.0 208.0 L123.5 208.8 L123.5 211.4 L124.0 210.2 L124.0 207.7 L124.5 208.7 L124.5 210.6 L124.9 211.8 L124.9 208.4 L125.4 209.1 L125.4 210.8 L125.9 211.5 L125.9 208.5 L126.4 207.7 L126.4 211.3 L126.8 212.2 L126.8 209.0 L127.3 208.7 L127.3 211.6 L127.8 211.4 L127.8 208.4 L128.3 209.4 L128.3 211.2 L128.7 210.9 L128.7 208.3 L129.2 209.2 L129.2 211.6 L129.7 210.6 L129.7 209.1 L130.1 208.5 L130.1 210.7 L130.6 211.1 L130.6 208.8 L131.1 207.8 L131.1 211.3 L131.6 211.8 L131.6 209.0 L132.0 209.3 L132.0 211.8 L132.5 211.1 L132.5 208.8 L133.0 207.2 L133.0 212.0 L133.5 211.3 L133.5 209.8 L133.9 209.0 L133.9 210.9 L134.4 211.1 L134.4 208.5 L134.9 208.5 L134.9 211.2 L135.4 211.3 L135.4 209.0 L135.8 208.9 L135.8 211.6 L136.3 211.8 L136.3 209.6 L136.8 208.8 L136.8 211.7 L137.2 210.4 L137.2 209.0 L137.7 208.4 L137.7 210.8 L138.2 211.1 L138.2 208.0 L138.7 209.3 L138.7 212.6 L139.1 211.8 L139.1 209.0 L139.6 209.1 L139.6 211.0 L140.1 211.3 L140.1 209.3 L140.6 209.4 L140.6 211.8 L141.0 210.7 L141.0 208.9 L141.5 209.1 L141.5 212.6 L142.0 211.7 L142.0 209.3 L142.5 208.8 L142.5 212.4 L142.9 211.6 L142.9 208.1 L143.4 209.0 L143.4 211.7 L143.9 211.9 L143.9 208.7 L144.3 208.3 L144.3 211.9 L144.8 212.2 L144.8 208.5 L145.3 209.3 L145.3 212.4 L145.8 211.8 L145.8 209.3 L146.2 209.2 L146.2 211.2 L146.7 212.3 L146.7 209.7 L147.2 209.8 L147.2 212.0 L147.7 211.9 L147.7 209.5 L148.1 210.2 L148.1 211.8 L148.6 211.7 L148.6 208.5 L149.1 209.6 L149.1 211.2 L149.6 211.6 L149.6 209.3 L150.0 209.5 L150.0 211.3 L150.5 211.6 L150.5 209.7 L151.0 209.6 L151.0 213.0 L151.5 211.4 L151.5 209.3 L151.9 209.1 L151.9 211.5 L152.4 211.6 L152.4 209.0 L152.9 209.9 L152.9 211.8 L153.3 211.6 L153.3 208.7 L153.8 208.3 L153.8 212.2 L154.3 211.4 L154.3 205.7 L154.8 209.3 L154.8 212.1 L155.2 211.9 L155.2 209.4 L155.7 209.4 L155.7 212.0 L156.2 211.4 L156.2 209.8 L156.7 209.7 L156.7 211.7 L157.1 213.4 L157.1 208.7 L157.6 209.6 L157.6 212.0 L158.1 211.3 L158.1 209.6 L158.6 208.9 L158.6 212.3 L159.0 211.4 L159.0 210.1 L159.5 209.4 L159.5 211.8 L160.0 211.9 L160.0 209.0 L160.4 209.4 L160.4 212.2 L160.9 211.8 L160.9 209.9 L161.4 208.9 L161.4 212.5 L161.9 211.7 L161.9 208.4 L162.3 209.1 L162.3 212.6 L162.8 212.8 L162.8 209.4 L163.3 209.6 L163.3 211.5 L163.8 211.7 L163.8 210.3 L164.2 210.3 L164.2 211.6 L164.7 213.7 L164.7 209.7 L165.2 209.1 L165.2 211.7 L165.7 211.3 L165.7 209.2 L166.1 209.9 L166.1 211.7 L166.6 212.0 L166.6 208.9 L167.1 209.3 L167.1 212.2 L167.6 213.2 L167.6 208.4 L168.0 210.1 L168.0 211.4 L168.5 212.0 L168.5 210.1 L169.0 209.7 L169.0 213.0 L169.4 212.6 L169.4 209.8 L169.9 208.4 L169.9 212.5 L170.4 212.5 L170.4 210.1 L170.9 209.8 L170.9 212.0 L171.3 212.4 L171.3 209.9 L171.8 209.1 L171.8 212.3 L172.3 211.4 L172.3 209.8 L172.8 209.3 L172.8 211.3 L173.2 212.4 L173.2 209.3 L173.7 209.7 L173.7 211.5 L174.2 212.6 L174.2 209.8 L174.7 209.5 L174.7 212.3 L175.1 212.5 L175.1 209.5 L175.6 209.9 L175.6 213.5 L176.1 212.9 L176.1 209.1 L176.5 209.8 L176.5 211.5 L177.0 211.9 L177.0 209.7 L177.5 209.7 L177.5 212.5 L178.0 212.3 L178.0 209.5 L178.4 209.1 L178.4 212.0 L178.9 211.8 L178.9 209.8 L179.4 208.3 L179.4 211.9 L179.9 213.0 L179.9 209.8 L180.3 210.0 L180.3 211.9 L180.8 211.8 L180.8 209.4 L181.3 210.1 L181.3 212.4 L181.8 211.7 L181.8 209.1 L182.2 209.2 L182.2 211.4 L182.7 212.3 L182.7 210.2 L183.2 210.5 L183.2 212.6 L183.6 213.4 L183.6 208.7 L184.1 209.3 L184.1 213.6 L184.6 211.9 L184.6 209.5 L185.1 210.5 L185.1 211.7 L185.5 212.7 L185.5 209.6 L186.0 209.9 L186.0 211.8 L186.5 211.8 L186.5 209.7 L187.0 210.2 L187.0 212.4 L187.4 213.4 L187.4 210.1 L187.9 209.4 L187.9 212.2 L188.4 211.7 L188.4 210.1 L188.9 210.5 L188.9 212.2 L189.3 213.8 L189.3 210.1 L189.8 210.0 L189.8 212.3 L190.3 212.5 L190.3 209.7 L190.8 210.1 L190.8 212.3 L191.2 211.9 L191.2 209.2 L191.7 209.5 L191.7 212.0 L192.2 212.4 L192.2 209.2 L192.6 209.8 L192.6 212.3 L193.1 212.7 L193.1 210.2 L193.6 210.1 L193.6 212.8 L194.1 212.8 L194.1 210.4 L194.5 209.0 L194.5 212.0 L195.0 212.4 L195.0 210.4 L195.5 209.7 L195.5 212.7 L196.0 212.7 L196.0 208.9 L196.4 209.3 L196.4 213.4 L196.9 213.3 L196.9 210.6 L197.4 209.5 L197.4 212.5 L197.9 212.7 L197.9 209.2 L198.3 210.3 L198.3 212.9 L198.8 213.1 L198.8 210.2 L199.3 210.2 L199.3 212.5 L199.7 212.6 L199.7 210.2 L200.2 211.3 L200.2 212.5 L200.7 212.8 L200.7 210.1 L201.2 210.2 L201.2 213.2 L201.6 212.5 L201.6 210.0 L202.1 209.8 L202.1 213.0 L202.6 211.6 L202.6 209.9 L203.1 209.9 L203.1 212.2 L203.5 212.3 L203.5 209.4 L204.0 209.6 L204.0 213.3 L204.5 212.2 L204.5 209.9 L205.0 210.9 L205.0 213.7 L205.4 212.8 L205.4 210.3 L205.9 210.4 L205.9 212.7 L206.4 213.2 L206.4 209.7 L206.9 210.3 L206.9 212.3 L207.3 212.7 L207.3 209.9 L207.8 209.3 L207.8 212.1 L208.3 212.7 L208.3 209.8 L208.7 209.9 L208.7 212.3 L209.2 213.7 L209.2 210.8 L209.7 210.6 L209.7 212.6 L210.2 212.2 L210.2 209.9 L210.6 209.9 L210.6 212.7 L211.1 212.8 L211.1 210.6 L211.6 210.2 L211.6 213.0 L212.1 214.5 L212.1 210.1 L212.5 210.2 L212.5 212.2 L213.0 211.8 L213.0 209.8 L213.5 210.5 L213.5 212.1 L214.0 212.9 L214.0 210.1 L214.4 210.0 L214.4 211.6 L214.9 212.4 L214.9 210.2 L215.4 210.0 L215.4 212.3 L215.8 212.4 L215.8 210.7 L216.3 210.3 L216.3 211.8 L216.8 212.8 L216.8 210.6 L217.3 210.0 L217.3 212.5 L217.7 213.4 L217.7 210.2 L218.2 210.9 L218.2 213.6 L218.7 212.9 L218.7 207.5 L219.2 211.2 L219.2 213.4 L219.6 212.3 L219.6 210.7 L220.1 209.8 L220.1 211.7 L220.6 213.0 L220.6 211.1 L221.1 211.0 L221.1 212.7 L221.5 212.8 L221.5 209.8 L222.0 209.4 L222.0 212.1 L222.5 212.4 L222.5 209.0 L223.0 210.0 L223.0 212.0 L223.4 212.5 L223.4 210.3 L223.9 210.5 L223.9 213.1 L224.4 212.6 L224.4 210.7 L224.8 209.5 L224.8 212.1 L225.3 213.6 L225.3 211.0 L225.8 211.0 L225.8 213.2 L226.3 212.5 L226.3 209.7 L226.7 210.1 L226.7 212.2 L227.2 212.1 L227.2 210.3 L227.7 210.2 L227.7 212.4 L228.2 212.9 L228.2 209.8 L228.6 210.5 L228.6 212.4 L229.1 212.6 L229.1 210.7 L229.6 211.0 L229.6 214.2 L230.1 213.9 L230.1 210.4 L230.5 210.8 L230.5 212.8 L231.0 213.1 L231.0 209.5 L231.5 210.5 L231.5 212.2 L231.9 212.0 L231.9 208.5 L232.4 210.3 L232.4 213.7 L232.9 216.0 L232.9 210.6 L233.4 211.1 L233.4 214.1 L233.8 213.6 L233.8 209.5 L234.3 210.5 L234.3 212.2 L234.8 213.6 L234.8 210.5 L235.3 210.0 L235.3 213.1 L235.7 212.5 L235.7 210.6 L236.2 210.5 L236.2 212.6 L236.7 212.8 L236.7 211.1 L237.2 210.0 L237.2 212.1 L237.6 212.7 L237.6 209.7 L238.1 211.5 L238.1 212.8 L238.6 213.3 L238.6 209.9 L239.0 210.1 L239.0 213.1 L239.5 213.8 L239.5 209.9 L240.0 209.7 L240.0 214.0 L240.5 212.6 L240.5 208.7 L240.9 209.8 L240.9 213.6 L241.4 213.6 L241.4 210.3 L241.9 210.6 L241.9 213.8 L242.4 213.1 L242.4 210.2 L242.8 210.0 L242.8 212.5 L243.3 213.5 L243.3 210.9 L243.8 210.1 L243.8 213.0 L244.3 213.0 L244.3 210.9 L244.7 209.0 L244.7 212.3 L245.2 213.6 L245.2 210.5 L245.7 210.2 L245.7 215.5 L246.2 212.7 L246.2 209.8 L246.6 211.3 L246.6 213.3 L247.1 212.1 L247.1 208.5 L247.6 210.3 L247.6 212.3 L248.0 212.6 L248.0 210.4 L248.5 210.4 L248.5 212.2 L249.0 212.9 L249.0 209.2 L249.5 211.0 L249.5 213.7 L249.9 212.9 L249.9 209.5 L250.4 210.1 L250.4 213.1 L250.9 214.4 L250.9 210.9 L251.4 210.9 L251.4 214.0 L251.8 212.5 L251.8 210.3 L252.3 210.6 L252.3 213.7 L252.8 213.3 L252.8 210.0 L253.3 211.6 L253.3 212.2 L253.7 213.2 L253.7 211.4 L254.2 210.4 L254.2 213.5 L254.7 213.4 L254.7 210.7 L255.1 209.5 L255.1 212.8 L255.6 213.7 L255.6 209.5 L256.1 211.4 L256.1 213.8 L256.6 215.1 L256.6 211.0 L257.0 211.3 L257.0 213.7 L257.5 213.0 L257.5 211.0 L258.0 211.5 L258.0 213.0 L258.5 214.1 L258.5 211.1 L258.9 210.4 L258.9 212.4 L259.4 213.5 L259.4 210.8 L259.9 208.8 L259.9 212.7 L260.4 213.6 L260.4 210.4 L260.8 210.7 L260.8 212.1 L261.3 213.3 L261.3 210.8 L261.8 211.0 L261.8 213.1 L262.3 213.1 L262.3 211.2 L262.7 210.2 L262.7 213.0 L263.2 211.7 L263.2 209.7 L263.7 210.7 L263.7 213.0 L264.1 213.8 L264.1 210.8 L264.6 210.8 L264.6 213.0 L265.1 213.2 L265.1 210.9 L265.6 211.1 L265.6 213.3 L266.0 213.3 L266.0 209.9 L266.5 210.9 L266.5 214.0 L267.0 213.2 L267.0 210.4 L267.5 209.7 L267.5 212.5 L267.9 213.6 L267.9 211.2 L268.4 209.6 L268.4 212.7 L268.9 213.1 L268.9 209.9 L269.4 210.9 L269.4 212.7 L269.8 212.5 L269.8 210.5 L270.3 210.5 L270.3 212.9 L270.8 213.0 L270.8 210.1 L271.2 209.8 L271.2 212.7 L271.7 213.0 L271.7 210.3 L272.2 210.3 L272.2 212.4 L272.7 212.8 L272.7 210.1 L273.1 210.8 L273.1 212.7 L273.6 213.7 L273.6 210.6 L274.1 209.6 L274.1 212.7 L274.6 213.0 L274.6 210.4 L275.0 211.1 L275.0 213.9 L275.5 212.3 L275.5 210.4 L276.0 211.0 L276.0 213.4 L276.5 212.8 L276.5 211.2 L276.9 210.4 L276.9 213.3 L277.4 213.2 L277.4 209.4 L277.9 210.7 L277.9 212.7 L278.3 213.4 L278.3 210.3 L278.8 210.1 L278.8 213.6 L279.3 213.1 L279.3 210.4 L279.8 210.8 L279.8 212.4 L280.2 213.6 L280.2 210.7 L280.7 209.5 L280.7 212.5 L281.2 213.3 L281.2 211.0 L281.7 210.2 L281.7 213.7 L282.1 213.2 L282.1 210.4 L282.6 210.8 L282.6 212.8 L283.1 213.0 L283.1 209.9 L283.6 211.0 L283.6 213.3 L284.0 213.1 L284.0 211.3 L284.5 210.3 L284.5 213.7 L285.0 213.4 L285.0 210.9 L285.5 210.3 L285.5 213.1 L285.9 212.9 L285.9 210.0 L286.4 211.2 L286.4 213.0 L286.9 212.8 L286.9 211.3 L287.3 210.9 L287.3 213.0 L287.8 213.2 L287.8 210.4 L288.3 210.8 L288.3 213.6 L288.8 212.9 L288.8 211.2 L289.2 211.1 L289.2 212.6 L289.7 213.0 L289.7 211.0 L290.2 211.1 L290.2 212.9 L290.7 212.9 L290.7 211.2 L291.1 211.3 L291.1 213.4 L291.6 213.8 L291.6 211.1 L292.1 210.7 L292.1 212.9 L292.6 213.2 L292.6 210.2 L293.0 210.8 L293.0 213.0 L293.5 213.2 L293.5 211.1 L294.0 210.0 L294.0 212.7 L294.4 213.4 L294.4 211.2 L294.9 210.9 L294.9 213.6 L295.4 213.8 L295.4 211.2 L295.9 210.1 L295.9 213.1 L296.3 213.4 L296.3 210.9 L296.8 210.9 L296.8 213.4 L297.3 213.7 L297.3 210.9 L297.8 210.7 L297.8 213.4 L298.2 212.6 L298.2 211.0 L298.7 211.8 L298.7 213.8 L299.2 213.6 L299.2 210.0 L299.7 210.7 L299.7 213.3 L300.1 213.8 L300.1 211.2 L300.6 209.9 L300.6 213.7 L301.1 213.5 L301.1 210.6 L301.6 211.5 L301.6 213.5 L302.0 213.5 L302.0 211.2 L302.5 210.1 L302.5 214.4 L303.0 213.0 L303.0 211.0 L303.4 211.4 L303.4 213.9 L303.9 213.1 L303.9 209.8 L304.4 210.2 L304.4 212.5 L304.9 213.2 L304.9 210.8 L305.3 210.5 L305.3 213.8 L305.8 213.7 L305.8 210.3 L306.3 210.4 L306.3 213.5 L306.8 213.2 L306.8 210.9 L307.2 210.5 L307.2 214.6 L307.7 212.7 L307.7 210.7 L308.2 210.1 L308.2 213.3 L308.7 213.0 L308.7 211.6 L309.1 209.7 L309.1 213.1 L309.6 213.6 L309.6 209.7 L310.1 210.0 L310.1 212.6 L310.5 212.8 L310.5 210.4 L311.0 211.1 L311.0 214.0 L311.5 213.9 L311.5 210.0 L312.0 211.5 L312.0 214.2 L312.4 213.3 L312.4 210.9 L312.9 210.5 L312.9 213.0 L313.4 213.5 L313.4 210.9 L313.9 210.1 L313.9 212.9 L314.3 213.3 L314.3 210.9 L314.8 211.3 L314.8 213.8 L315.3 212.7 L315.3 210.8 L315.8 211.1 L315.8 213.1 L316.2 213.6 L316.2 210.7 L316.7 211.1 L316.7 213.0 L317.2 213.2 L317.2 211.1 L317.7 210.8 L317.7 213.3 L318.1 212.8 L318.1 210.4 L318.6 210.5 L318.6 212.9 L319.1 214.3 L319.1 209.1 L319.5 210.9 L319.5 213.2 L320.0 215.5 L320.0 210.9 L320.5 211.1 L320.5 213.7 L321.0 212.4 L321.0 210.7 L321.4 211.1 L321.4 212.7 L321.9 214.0 L321.9 211.3 L322.4 211.0 L322.4 213.3 L322.9 213.7 L322.9 211.7 L323.3 211.2 L323.3 213.5 L323.8 214.2 L323.8 211.1 L324.3 210.4 L324.3 214.5 L324.8 213.3 L324.8 211.3 L325.2 211.0 L325.2 213.3 L325.7 213.7 L325.7 210.5 L326.2 210.7 L326.2 214.3 L326.6 213.4 L326.6 211.0 L327.1 210.5 L327.1 214.5 L327.6 212.9 L327.6 211.0 L328.1 211.0 L328.1 213.9 L328.5 215.0 L328.5 210.9 L329.0 211.3 L329.0 213.5 L329.5 213.8 L329.5 210.4 L330.0 209.5 L330.0 213.8 L330.4 213.5 L330.4 211.1 L330.9 210.4 L330.9 213.9 L331.4 213.3 L331.4 210.9 L331.9 211.4 L331.9 213.2 L332.3 213.5 L332.3 211.5 L332.8 211.7 L332.8 213.6 L333.3 214.8 L333.3 210.7 L333.7 210.7 L333.7 213.5 L334.2 213.7 L334.2 210.8 L334.7 211.2 L334.7 213.5 L335.2 213.6 L335.2 209.8 L335.6 211.7 L335.6 213.6 L336.1 213.5 L336.1 211.6 L336.6 211.2 L336.6 213.4 L337.1 213.4 L337.1 209.6 L337.5 210.6 L337.5 213.2 L338.0 214.4 L338.0 210.6 L338.5 211.8 L338.5 213.4 L339.0 214.3 L339.0 210.7 L339.4 211.3 L339.4 214.0 L339.9 213.1 L339.9 211.2 L340.4 211.4 L340.4 214.1 L340.9 213.3 L340.9 210.0 L341.3 210.6 L341.3 213.2 L341.8 213.2 L341.8 210.9 L342.3 211.4 L342.3 213.5 L342.7 213.1 L342.7 211.1 L343.2 211.4 L343.2 214.5 L343.7 213.7 L343.7 211.2 L344.2 211.0 L344.2 213.9 L344.6 212.8 L344.6 211.1 L345.1 211.1 L345.1 212.2 L345.6 212.9 L345.6 210.9 L346.1 210.5 L346.1 212.9 L346.5 212.7 L346.5 210.0 L347.0 210.5 L347.0 213.5 L347.5 213.1 L347.5 211.1 L348.0 210.5 L348.0 214.0 L348.4 213.6 L348.4 211.0 L348.9 210.9 L348.9 214.1 L349.4 213.9 L349.4 211.2 L349.8 211.2 L349.8 213.6 L350.3 213.9 L350.3 211.2 L350.8 210.4 L350.8 214.6 L351.3 213.6 L351.3 211.2 L351.7 211.2 L351.7 213.2 L352.2 213.6 L352.2 211.2 L352.7 211.3 L352.7 213.8 L353.2 214.1 L353.2 211.0 L353.6 211.4 L353.6 213.3 L354.1 213.5 L354.1 211.8 L354.6 210.1 L354.6 212.9 L355.1 213.2 L355.1 210.9 L355.5 211.5 L355.5 214.1 L356.0 213.6 L356.0 211.6 L356.5 210.8 L356.5 212.9 L357.0 213.9 L357.0 210.6 L357.4 209.6 L357.4 214.1 L357.9 212.8 L357.9 210.4 L358.4 211.4 L358.4 213.5 L358.8 214.4 L358.8 210.5 L359.3 211.2 L359.3 213.8 L359.8 213.0 L359.8 210.3 L360.3 211.2 L360.3 213.0 L360.7 214.1 L360.7 210.1 L361.2 211.3 L361.2 213.7 L361.7 213.3 L361.7 211.1 L362.2 211.1 L362.2 213.2 L362.6 215.3 L362.6 211.5 L363.1 211.1 L363.1 213.1 L363.6 213.7 L363.6 211.5 L364.1 211.4 L364.1 214.9 L364.5 214.6 L364.5 211.2 L365.0 211.3 L365.0 214.0 L365.5 213.1 L365.5 211.1 L365.9 211.3 L365.9 214.0 L366.4 213.3 L366.4 211.4 L366.9 209.7 L366.9 215.3 L367.4 213.8 L367.4 211.4 L367.8 210.8 L367.8 214.0 L368.3 213.8 L368.3 211.0 L368.8 210.9 L368.8 215.8 L369.3 213.7 L369.3 211.8 L369.7 211.8 L369.7 213.8 L370.2 214.2 L370.2 210.8 L370.7 210.8 L370.7 213.5 L371.2 212.8 L371.2 210.5 L371.6 210.7 L371.6 213.6 L372.1 213.9 L372.1 210.7 L372.6 210.4 L372.6 213.7 L373.0 213.3 L373.0 210.6 L373.5 210.9 L373.5 213.2 L374.0 214.1 L374.0 211.5 L374.5 211.5 L374.5 213.7 L374.9 214.4 L374.9 211.3 L375.4 211.1 L375.4 212.9 L375.9 213.1 L375.9 211.4 L376.4 210.2 L376.4 213.5 L376.8 214.3 L376.8 210.7 L377.3 210.1 L377.3 213.2 L377.8 213.7 L377.8 211.5 L378.3 211.7 L378.3 213.8 L378.7 213.5 L378.7 211.4 L379.2 211.2 L379.2 213.6 L379.7 213.2 L379.7 210.6 L380.2 210.5 L380.2 213.1 L380.6 213.4 L380.6 211.0 L381.1 210.9 L381.1 213.2 L381.6 215.2 L381.6 211.4 L382.0 210.7 L382.0 213.3 L382.5 213.3 L382.5 211.2 L383.0 210.1 L383.0 214.1 L383.5 214.2 L383.5 211.6 L383.9 212.0 L383.9 214.6 L384.4 213.6 L384.4 210.7 L384.9 211.5 L384.9 212.8 L385.4 212.7 L385.4 211.3 L385.8 211.1 L385.8 213.8 L386.3 214.4 L386.3 211.4 L386.8 211.0 L386.8 215.3 L387.3 213.6 L387.3 210.7 L387.7 211.6 L387.7 213.0 L388.2 214.3 L388.2 211.3 L388.7 211.8 L388.7 215.0 L389.1 213.2 L389.1 210.8 L389.6 212.1 L389.6 213.7 L390.1 213.3 L390.1 211.4 L390.6 210.6 L390.6 214.1 L391.0 212.8 L391.0 210.9 L391.5 211.5 L391.5 214.2 L392.0 213.0 L392.0 210.3 L392.5 210.6 L392.5 213.9 L392.9 213.9 L392.9 211.4 L393.4 211.5 L393.4 214.3 L393.9 212.8 L393.9 211.3 L394.4 211.1 L394.4 213.6 L394.8 212.6 L394.8 211.1 L395.3 210.9 L395.3 213.7 L395.8 213.0 L395.8 210.3 L396.3 211.4 L396.3 213.8 L396.7 213.1 L396.7 210.2 L397.2 211.1 L397.2 213.6 L397.7 213.8 L397.7 210.3 L398.1 211.5 L398.1 214.3 L398.6 213.5 L398.6 211.6 L399.1 211.1 L399.1 212.8 L399.6 213.6 L399.6 211.8 L400.0 211.0 L400.0 213.5 L400.5 213.5 L400.5 210.2 L401.0 210.1 L401.0 213.3 L401.5 213.6 L401.5 211.7 L401.9 211.4 L401.9 213.4 L402.4 214.3 L402.4 211.1 L402.9 210.4 L402.9 214.1 L403.4 213.7 L403.4 211.4 L403.8 211.8 L403.8 213.8 L404.3 214.0 L404.3 210.1 L404.8 211.3 L404.8 213.1 L405.2 213.2 L405.2 211.3 L405.7 211.8 L405.7 213.6 L406.2 213.5 L406.2 211.2 L406.7 210.2 L406.7 213.5 L407.1 213.2 L407.1 210.8 L407.6 211.4 L407.6 213.5 L408.1 213.3 L408.1 210.2 L408.6 210.7 L408.6 213.3 L409.0 213.4 L409.0 210.4 L409.5 211.9 L409.5 214.1 L410.0 213.1 L410.0 210.7 L410.5 210.5 L410.5 213.0 L410.9 213.6 L410.9 210.8 L411.4 211.3 L411.4 213.7 L411.9 213.8 L411.9 211.5 L412.4 210.4 L412.4 213.4 L412.8 214.5 L412.8 211.6 L413.3 210.2 L413.3 214.1 L413.8 214.0 L413.8 211.4 L414.2 211.4 L414.2 214.2 L414.7 213.0 L414.7 211.4 L415.2 211.2 L415.2 213.1 L415.7 213.6 L415.7 211.9 L416.1 210.4 L416.1 214.2 L416.6 213.6 L416.6 211.0 L417.1 210.4 L417.1 212.8 L417.6 213.6 L417.6 210.6 L418.0 211.5 L418.0 214.8 L418.5 214.2 L418.5 211.3 L419.0 210.5 L419.0 213.6 L419.5 213.7 L419.5 211.5 L419.9 211.1 L419.9 214.1 L420.4 214.6 L420.4 211.3 L420.9 209.8 L420.9 213.5 L421.3 213.5 L421.3 210.7 L421.8 210.8 L421.8 213.3 L422.3 213.8 L422.3 211.3 L422.8 211.6 L422.8 213.3 L423.2 213.3 L423.2 212.2 L423.7 211.1 L423.7 213.7 L424.2 212.9 L424.2 211.3 L424.7 211.1 L424.7 214.4 L425.1 213.7 L425.1 211.2 L425.6 211.1 L425.6 213.3 L426.1 214.7 L426.1 211.8 L426.6 211.0 L426.6 215.2 L427.0 213.2 L427.0 211.1 L427.5 211.0 L427.5 214.0 L428.0 213.8 L428.0 210.7 L428.4 211.5 L428.4 213.6 L428.9 213.7 L428.9 211.2 L429.4 212.0 L429.4 214.3 L429.9 214.0 L429.9 211.3 L430.3 211.1 L430.3 213.8 L430.8 214.4 L430.8 211.9 L431.3 211.2 L431.3 213.4 L431.8 213.9 L431.8 211.6 L432.2 210.3 L432.2 213.3 L432.7 213.0 L432.7 211.4 L433.2 209.4 L433.2 213.8 L433.7 213.8 L433.7 211.2 L434.1 211.4 L434.1 213.2 L434.6 215.6 L434.6 209.6 L435.1 210.5 L435.1 214.2 L435.6 213.6 L435.6 211.0 L436.0 210.7 L436.0 213.7 L436.5 213.5 L436.5 211.4 L437.0 211.4 L437.0 213.7 L437.4 214.2 L437.4 210.7 L437.9 211.3 L437.9 213.6 L438.4 214.5 L438.4 211.6 L438.9 211.5 L438.9 213.6 L439.3 214.5 L439.3 210.5 L439.8 211.0 L439.8 213.2 L440.3 214.0 L440.3 211.0 L440.8 210.7 L440.8 212.9 L441.2 213.9 L441.2 211.4 L441.7 211.4 L441.7 213.9 L442.2 213.3 L442.2 210.3 L442.7 211.4 L442.7 213.5 L443.1 213.8 L443.1 210.8 L443.6 210.8 L443.6 213.4 L444.1 214.3 L444.1 210.7 L444.5 210.7 L444.5 213.7 L445.0 213.9 L445.0 211.3 L445.5 211.1 L445.5 213.3 L446.0 213.8 L446.0 211.2 L446.4 211.3 L446.4 213.6 L446.9 214.1 L446.9 211.0 L447.4 211.5 L447.4 213.3 L447.9 213.3 L447.9 211.3 L448.3 210.6 L448.3 213.2 L448.8 213.9 L448.8 211.0 L449.3 210.7 L449.3 214.2 L449.8 215.9 L449.8 211.0 L450.2 211.5 L450.2 214.1 L450.7 213.5 L450.7 211.2 L451.2 211.3 L451.2 213.4 L451.7 213.1 L451.7 211.0 L452.1 210.0 L452.1 213.7 L452.6 214.2 L452.6 212.2 L453.1 211.2 L453.1 214.0 L453.5 213.3 L453.5 211.2 L454.0 210.8 L454.0 214.6 L454.5 213.1 L454.5 211.3 L455.0 210.7 L455.0 213.8 L455.4 213.5 L455.4 211.2 L455.9 210.8 L455.9 213.2 L456.4 214.2 L456.4 211.7 L456.9 211.5 L456.9 212.8 L457.3 213.5 L457.3 211.8 L457.8 211.4 L457.8 213.4 L458.3 212.8 L458.3 210.4 L458.8 211.2 L458.8 213.6 L459.2 213.6 L459.2 210.2 L459.7 210.9 L459.7 212.8 L460.2 214.0 L460.2 211.6 L460.6 211.9 L460.6 213.8 L461.1 213.8 L461.1 211.5 L461.6 212.0 L461.6 214.8 L462.1 213.9 L462.1 211.7 L462.5 211.6 L462.5 213.4 L463.0 213.7 L463.0 210.9 L463.5 211.0 L463.5 213.6 L464.0 213.5 L464.0 211.3 L464.4 210.5 L464.4 213.0 L464.9 213.3 L464.9 211.6 L465.4 211.2 L465.4 213.2 L465.9 213.7 L465.9 210.8 L466.3 211.3 L466.3 213.7 L466.8 213.5 L466.8 211.3 L467.3 210.5 L467.3 214.0 L467.7 215.2 L467.7 210.4 L468.2 211.1 L468.2 213.9 L468.7 214.8 L468.7 211.4 L469.2 210.3 L469.2 213.3 L469.6 214.0 L469.6 211.5 L470.1 210.6 L470.1 213.5 L470.6 214.5 L470.6 211.3 L471.1 211.9 L471.1 213.6 L471.5 214.0 L471.5 211.4 L472.0 211.4 L472.0 213.6 L472.5 214.5 L472.5 211.3 L473.0 210.4 L473.0 213.4 L473.4 213.5 L473.4 210.3 L473.9 211.7 L473.9 213.1 L474.4 213.4 L474.4 211.7 L474.9 210.6 L474.9 213.0 L475.3 213.2 L475.3 211.7 L475.8 211.3 L475.8 214.2 L476.3 213.6 L476.3 211.4 L476.7 210.9 L476.7 212.7 L477.2 213.9 L477.2 211.5 L477.7 211.8 L477.7 213.4 L478.2 213.5 L478.2 212.0 L478.6 211.9 L478.6 214.1 L479.1 213.6 L479.1 210.7 L479.6 210.9 L479.6 213.5 L480.1 216.9 L480.1 210.8 L480.5 212.1 L480.5 214.4 L481.0 213.5 L481.0 211.3 L481.5 211.2 L481.5 213.9 L482.0 213.7 L482.0 211.0 L482.4 211.1 L482.4 213.9 L482.9 213.9 L482.9 212.3 L483.4 210.9 L483.4 214.2 L483.8 213.5 L483.8 211.6 L484.3 211.8 L484.3 214.9 L484.8 213.7 L484.8 211.4 L485.3 212.0 L485.3 213.9 L485.7 214.2 L485.7 211.4 L486.2 211.2 L486.2 213.6 L486.7 213.6 L486.7 211.1 L487.2 211.4 L487.2 215.4 L487.6 213.5 L487.6 210.0 L488.1 211.3 L488.1 213.6 L488.6 214.0 L488.6 211.2 L489.1 210.9 L489.1 213.2 L489.5 213.5 L489.5 211.2 L490.0 211.5 L490.0 212.8 L490.5 214.0 L490.5 210.9 L491.0 211.2 L491.0 213.4 L491.4 214.6 L491.4 212.3 L491.9 211.1 L491.9 213.5 L492.4 213.4 L492.4 211.4 L492.8 211.7 L492.8 214.4 L493.3 213.7 L493.3 212.0 L493.8 211.4 L493.8 214.0 L494.3 213.8 L494.3 211.4 L494.7 211.2 L494.7 214.3 L495.2 213.0 L495.2 211.6 L495.7 211.4 L495.7 213.2 L496.2 213.4 L496.2 211.2 L496.6 211.1 L496.6 214.2 L497.1 215.5 L497.1 210.7 L497.6 210.3 L497.6 213.9 L498.1 213.2 L498.1 211.7 L498.5 211.6 L498.5 214.4 L499.0 214.1 L499.0 211.0 L499.5 210.2 L499.5 213.3 L499.9 214.0 L499.9 211.1 L500.4 210.8 L500.4 213.5 L500.9 214.2 L500.9 212.4 L501.4 210.5 L501.4 214.3 L501.8 214.2 L501.8 211.2 L502.3 211.4 L502.3 216.4 L502.8 214.3 L502.8 211.1 L503.3 211.5 L503.3 213.6 L503.7 214.2 L503.7 210.4 L504.2 211.9 L504.2 213.7 L504.7 213.9 L504.7 211.7 L505.2 210.8 L505.2 213.6 L505.6 214.3 L505.6 211.6 L506.1 210.7 L506.1 214.8 L506.6 213.9 L506.6 211.5 L507.1 211.4 L507.1 214.2 L507.5 213.6 L507.5 211.2 L508.0 211.5 L508.0 213.5 L508.5 213.7 L508.5 211.4 L508.9 211.3 L508.9 214.6 L509.4 214.1 L509.4 211.9 L509.9 211.4 L509.9 212.9 L510.4 213.9 L510.4 211.8 L510.8 211.4 L510.8 214.0 L511.3 214.0 L511.3 211.6 L511.8 211.8 L511.8 214.2 L512.3 213.9 L512.3 211.6 L512.7 211.2 L512.7 212.9 L513.2 213.5 L513.2 211.2 L513.7 211.5 L513.7 213.9 L514.2 214.1 L514.2 210.8 L514.6 211.0 L514.6 214.3 L515.1 213.8 L515.1 212.0 L515.6 211.7 L515.6 214.6 L516.0 213.9 L516.0 212.2 L516.5 211.6 L516.5 214.4 L517.0 213.8 L517.0 211.1 L517.5 210.9 L517.5 213.1 L517.9 214.4 L517.9 211.0 L518.4 211.5 L518.4 213.1 L518.9 214.2 L518.9 211.9 L519.4 211.4 L519.4 213.6 L519.8 213.7 L519.8 211.2 L520.3 211.4 L520.3 213.7 L520.8 213.5 L520.8 211.5 L521.3 212.1 L521.3 214.1 L521.7 213.4 L521.7 211.4 L522.2 211.2 L522.2 214.4 L522.7 214.8 L522.7 211.0 L523.1 211.6 L523.1 213.0 L523.6 214.4 L523.6 211.4 L524.1 211.6 L524.1 213.4 L524.6 213.2 L524.6 210.9 L525.0 211.1 L525.0 214.6 L525.5 214.3 L525.5 211.1 L526.0 211.8 L526.0 213.9 L526.5 213.8 L526.5 211.5 L526.9 211.1 L526.9 214.3 L527.4 214.3 L527.4 210.1 L527.9 212.0 L527.9 214.9 L528.4 213.4 L528.4 211.6 L528.8 210.4 L528.8 213.9 L529.3 214.1 L529.3 211.5 L529.8 211.4 L529.8 213.5 L530.3 213.9 L530.3 211.9 L530.7 211.8 L530.7 215.0 L531.2 214.2 L531.2 211.6 L531.7 211.5 L531.7 214.3 L532.1 214.6 L532.1 211.2 L532.6 211.5 L532.6 214.6 L533.1 213.6 L533.1 211.4 L533.6 211.1 L533.6 214.2 L534.0 214.3 L534.0 211.4 L534.0 211.9 L534.0 211.9" stroke="#00e000" stroke-width="1.0"/>
<path d="M60.8 12.3 L60.8 15.4 L60.9 18.0 L60.9 20.2 L61.0 22.3 L61.0 24.0 L61.1 25.0 L61.1 25.5 L61.2 25.9 L61.2 26.2 L61.3 26.4 L61.3 26.7 L61.4 26.9 L61.4 27.0 L61.5 27.2 L61.5 27.4 L61.6 27.6 L61.6 27.8 L61.7 28.0 L61.7 28.2 L61.7 28.4 L61.8 28.6 L61.8 28.7 L61.9 28.9 L61.9 29.1 L62.0 29.2 L62.0 29.4 L62.1 29.6 L62.1 29.7 L62.2 29.9 L62.2 30.0 L62.3 30.2 L62.3 30.3 L62.4 30.5 L62.4 30.6 L62.5 30.7 L62.5 30.9 L62.6 31.0 L62.6 31.2 L62.6 31.3 L62.7 31.4 L62.7 31.6 L62.8 31.7 L62.8 31.8 L62.9 32.0 L62.9 32.1 L63.0 32.3 L63.0 32.4 L63.1 32.6 L63.1 32.7 L63.2 32.9 L63.2 33.0 L63.3 33.2 L63.3 33.3 L63.4 33.5 L63.4 33.6 L63.5 33.8 L63.5 33.9 L63.5 34.1 L63.6 34.2 L63.6 34.4 L63.7 34.5 L63.7 34.7 L63.8 34.9 L63.8 35.0 L63.9 35.2 L63.9 35.4 L64.0 35.5 L64.0 35.7 L64.1 35.9 L64.1 36.0 L64.2 36.2 L64.2 36.4 L64.3 36.5 L64.3 36.7 L64.4 36.9 L64.4 37.0 L64.4 37.2 L64.5 37.4 L64.5 37.6 L64.6 37.7 L64.6 37.9 L64.7 38.1 L64.7 38.2 L64.8 38.4 L64.8 38.6 L64.9 38.8 L64.9 38.9 L65.0 39.1 L65.0 39.3 L65.1 39.4 L65.1 39.6 L65.2 39.8 L65.2 40.0 L65.3 40.1 L65.3 40.3 L65.3 40.5 L65.4 40.6 L65.4 40.8 L65.5 41.0 L65.5 41.2 L65.6 41.3 L65.6 41.5 L65.7 41.7 L65.7 41.9 L65.8 42.0 L65.8 42.2 L65.9 42.4 L65.9 42.6 L66.0 42.7 L66.0 42.9 L66.1 43.1 L66.1 43.3 L66.2 43.5 L66.2 43.6 L66.2 43.8 L66.3 44.0 L66.3 44.2 L66.4 44.4 L66.4 44.5 L66.5 44.7 L66.5 44.9 L66.6 45.1 L66.6 45.3 L66.7 45.4 L66.7 45.6 L66.8 45.8 L66.8 46.0 L66.9 46.2 L66.9 46.3 L67.0 46.5 L67.0 46.7 L67.1 46.9 L67.1 47.1 L67.1 47.2 L67.2 47.4 L67.2 47.6 L67.3 47.8 L67.3 47.9 L67.4 48.1 L67.4 48.3 L67.5 48.5 L67.5 48.6 L67.6 48.8 L67.6 49.0 L67.7 49.1 L67.7 49.3 L67.8 49.5 L67.8 49.6 L67.9 49.8 L67.9 50.0 L67.9 50.1 L68.0 50.3 L68.0 50.4 L68.1 50.6 L68.1 50.7 L68.2 50.9 L68.2 51.0 L68.3 51.2 L68.3 51.3 L68.4 51.5 L68.4 51.6 L68.5 51.8 L68.5 51.9 L68.6 52.0 L68.6 52.2 L68.7 52.3 L68.7 52.4 L68.8 52.6 L68.8 52.7 L68.8 52.8 L68.9 52.9 L68.9 53.1 L69.0 53.2 L69.0 53.3 L69.1 53.4 L69.1 53.5 L69.2 53.7 L69.2 53.8 L69.3 53.9 L69.3 54.0 L69.4 54.1 L69.4 54.2 L69.5 54.3 L69.5 54.4 L69.6 54.5 L69.6 54.6 L69.7 54.8 L69.7 54.9 L69.7 55.0 L69.8 55.1 L69.8 55.2 L69.9 55.3 L69.9 55.4 L70.0 55.5 L70.0 55.6 L70.1 55.7 L70.1 55.8 L70.2 55.9 L70.2 56.0 L70.3 56.1 L70.3 56.2 L70.4 56.3 L70.4 56.4 L70.5 56.5 L70.5 56.6 L70.6 56.6 L70.6 56.7 L70.6 56.8 L70.7 56.9 L70.7 57.0 L70.8 57.1 L70.8 57.2 L70.9 57.3 L70.9 57.4 L71.0 57.5 L71.0 57.6 L71.1 57.7 L71.1 57.8 L71.2 57.9 L71.2 58.0 L71.3 58.1 L71.3 58.2 L71.4 58.3 L71.4 58.4 L71.5 58.5 L71.5 58.6 L71.5 58.7 L71.6 58.8 L71.6 58.9 L71.7 59.0 L71.7 59.1 L71.8 59.2 L71.8 59.3 L71.9 59.4 L71.9 59.5 L72.0 59.6 L72.0 59.7 L72.1 59.8 L72.1 59.9 L72.2 60.0 L72.2 60.1 L72.3 60.3 L72.3 60.4 L72.4 60.5 L72.4 60.6 L72.4 60.7 L72.5 60.8 L72.5 60.9 L72.6 61.0 L72.6 61.1 L72.7 61.2 L72.7 61.3 L72.8 61.4 L72.8 61.5 L72.9 61.6 L72.9 61.7 L73.0 61.9 L73.0 62.0 L73.1 62.1 L73.1 62.2 L73.2 62.3 L73.2 62.4 L73.3 62.5 L73.3 62.6 L73.3 62.7 L73.4 62.8 L73.4 62.9 L73.5 63.0 L73.5 63.1 L73.6 63.2 L73.6 63.4 L73.7 63.5 L73.7 63.6 L73.8 63.7 L73.8 63.8 L73.9 63.9 L73.9 64.0 L74.0 64.1 L74.0 64.2 L74.1 64.3 L74.1 64.5 L74.2 64.6 L74.2 64.7 L74.2 64.8 L74.3 64.9 L74.3 65.0 L74.4 65.1 L74.4 65.2 L74.5 65.4 L74.5 65.5 L74.6 65.6 L74.6 65.7 L74.7 65.8 L74.7 65.9 L74.8 66.0 L74.8 66.2 L74.9 66.3 L74.9 66.4 L75.0 66.5 L75.0 66.6 L75.1 66.8 L75.1 66.9 L75.1 67.0 L75.2 67.1 L75.2 67.3 L75.3 67.4 L75.3 67.5 L75.4 67.6 L75.4 67.8 L75.5 67.9 L75.5 68.0 L75.6 68.1 L75.6 68.3 L75.7 68.4 L75.7 68.5 L75.8 68.7 L75.8 68.8 L75.9 68.9 L75.9 69.1 L76.0 69.2 L76.0 69.3 L76.0 69.5 L76.1 69.6 L76.1 69.8 L76.2 69.9 L76.2 70.0 L76.3 70.2 L76.3 70.3 L76.4 70.5 L76.4 70.6 L76.5 70.8 L76.5 70.9 L76.6 71.1 L76.6 71.2 L76.7 71.4 L76.7 71.5 L76.8 71.7 L76.8 71.8 L76.9 72.0 L76.9 72.1 L76.9 72.3 L77.0 72.5 L77.0 72.6 L77.1 72.8 L77.1 72.9 L77.2 73.1 L77.2 73.3 L77.3 73.4 L77.3 73.6 L77.4 73.8 L77.4 74.0 L77.5 74.1 L77.5 74.3 L77.6 74.5 L77.6 74.6 L77.7 74.8 L77.7 75.0 L77.8 75.2 L77.8 75.4 L77.8 75.5 L77.9 75.7 L77.9 75.9 L78.0 76.1 L78.0 76.3 L78.1 76.5 L78.1 76.7 L78.2 76.8 L78.2 77.0 L78.3 77.2 L78.3 77.4 L78.4 77.6 L78.4 77.8 L78.5 78.0 L78.5 78.2 L78.6 78.4 L78.6 78.6 L78.7 78.8 L78.7 79.0 L78.7 79.2 L78.8 79.4 L78.8 79.6 L78.9 79.8 L78.9 80.1 L79.0 80.3 L79.0 80.5 L79.1 80.7 L79.1 80.9 L79.2 81.1 L79.2 81.4 L79.3 81.6 L79.3 81.8 L79.4 82.0 L79.4 82.3 L79.5 82.5 L79.5 82.7 L79.6 83.0 L79.6 83.2 L79.6 83.5 L79.7 83.7 L79.7 83.9 L79.8 84.2 L79.8 84.4 L79.9 84.7 L79.9 84.9 L80.0 85.2 L80.0 85.5 L80.1 85.7 L80.1 86.0 L80.2 86.3 L80.2 86.5 L80.3 86.8 L80.3 87.1 L80.4 87.3 L80.4 87.6 L80.5 87.9 L80.5 88.2 L80.5 88.5 L80.6 88.7 L80.6 89.0 L80.7 89.3 L80.7 89.6 L80.8 89.9 L80.8 90.2 L80.9 90.5 L80.9 90.8 L81.0 91.1 L81.0 91.3 L81.1 91.6 L81.1 91.9 L81.2 92.2 L81.2 92.5 L81.3 92.8 L81.3 93.1 L81.3 93.4 L81.4 93.7 L81.4 94.0 L81.5 94.3 L81.5 94.7 L81.6 95.0 L81.6 95.3 L81.7 95.6 L81.7 95.9 L81.8 96.2 L81.8 96.5 L81.9 96.8 L81.9 97.1 L82.0 97.4 L82.0 97.8 L82.1 98.1 L82.1 98.4 L82.2 98.7 L82.2 99.0 L82.2 99.3 L82.3 99.7 L82.3 100.0 L82.4 100.3 L82.4 100.6 L82.5 101.0 L82.5 101.3 L82.6 101.6 L82.6 101.9 L82.7 102.3 L82.7 102.6 L82.8 103.0 L82.8 103.3 L82.9 103.6 L82.9 104.0 L83.0 104.3 L83.0 104.7 L83.1 105.0 L83.1 105.3 L83.1 105.7 L83.2 106.0 L83.2 106.4 L83.3 106.8 L83.3 107.1 L83.4 107.5 L83.4 107.8 L83.5 108.2 L83.5 108.6 L83.6 108.9 L83.6 109.3 L83.7 109.6 L83.7 110.0 L83.8 110.4 L83.8 110.8 L83.9 111.1 L83.9 111.5 L84.0 111.9 L84.0 112.3 L84.0 112.6 L84.1 113.0 L84.1 113.4 L84.2 113.8 L84.2 114.2 L84.3 114.5 L84.3 114.9 L84.4 115.3 L84.4 115.7 L84.5 116.1 L84.5 116.5 L84.6 116.9 L84.6 117.3 L84.7 117.7 L84.7 118.1 L84.8 118.5 L84.8 119.0 L84.9 119.4 L84.9 119.8 L84.9 120.2 L85.0 120.6 L85.0 121.1 L85.1 121.5 L85.1 121.9 L85.2 122.4 L85.2 122.8 L85.3 123.3 L85.3 123.7 L85.4 124.2 L85.4 124.6 L85.5 125.1 L85.5 125.6 L85.6 126.0 L85.6 126.5 L85.7 127.0 L85.7 127.4 L85.8 127.9 L85.8 128.4 L85.8 128.9 L85.9 129.4 L85.9 129.9 L86.0 130.4 L86.0 130.9 L86.1 131.4 L86.1 131.9 L86.2 132.4 L86.2 132.9 L86.3 133.5 L86.3 134.1 L86.4 134.6 L86.4 135.2 L86.5 135.8 L86.5 136.5 L86.6 137.1 L86.6 137.8 L86.7 138.6 L86.7 139.5 L86.7 140.4 L86.8 141.3 L86.8 142.3 L86.9 143.4 L86.9 144.5 L87.0 145.6 L87.0 146.8 L87.1 148.1 L87.1 149.4 L87.2 150.7 L87.2 152.1 L87.3 153.5 L87.3 154.9 L87.4 156.3 L87.4 157.8 L87.5 159.2 L87.5 160.7 L87.6 162.3 L87.6 163.8 L87.6 165.5 L87.7 166.9 L87.7 168.5 L87.8 170.1 L87.8 171.8 L87.9 173.4 L87.9 174.9 L88.0 176.5 L88.0 177.9 L88.1 179.6 L88.1 181.1 L88.2 182.9 L88.2 184.1 L88.3 185.6 L88.3 186.6 L88.4 188.3 L88.4 189.1 L88.5 190.8 L88.5 191.2 L88.5 192.4 L88.6 192.9 L88.6 193.9 L88.7 195.2 L88.7 195.7 L88.8 195.8 L88.8 196.0 L88.9 196.9 L88.9 198.6 L89.0 199.6 L89.0 200.5 L89.1 201.8 L89.1 201.9 L89.2 202.3 L89.2 194.6 L89.3 198.5 L89.3 193.6 L89.4 198.1 L89.4 189.6 L89.4 192.0 L89.5 192.5 L89.5 192.8 L89.6 188.6 L89.6 191.2 L89.7 194.1 L89.7 197.0 L89.8 190.1 L89.8 194.4 L89.9 188.6 L89.9 193.3 L90.0 186.3 L90.0 191.1 L90.1 191.2 L90.1 197.6 L90.2 198.2 L90.2 194.2 L90.3 190.1 L90.3 194.0 L90.3 199.1 L90.4 202.8 L90.4 196.3 L90.5 192.0 L90.5 184.9 L90.6 194.8 L90.6 199.3 L90.7 203.3 L90.7 193.8 L90.8 197.0 L90.8 193.6 L90.9 195.5 L90.9 193.7 L91.0 196.2 L91.0 193.0 L91.1 189.0 L91.1 188.4 L91.2 195.8 L91.2 201.7 L91.2 197.0 L91.3 195.1 L91.3 188.0 L91.4 197.2 L91.4 194.0 L91.5 193.7 L91.5 194.1 L91.6 201.3 L91.6 203.9 L91.7 201.1 L91.7 199.2 L91.8 200.3 L91.8 197.5 L91.9 196.7 L91.9 194.6 L92.0 196.0 L92.0 192.0 L92.1 191.7 L92.1 198.5 L92.1 198.4 L92.2 199.3 L92.2 197.4 L92.3 195.2 L92.3 197.3 L92.4 197.0 L92.4 197.7 L92.5 196.1 L92.5 199.2 L92.6 202.4 L92.6 206.0 L92.7 206.2 L92.7 206.6 L92.8 206.3 L92.8 210.3 L92.9 212.0 L92.9 211.5 L93.0 207.3 L93.0 205.3 L93.0 205.5 L93.1 204.2 L93.1 204.3 L93.2 205.6 L93.2 205.0 L93.3 208.9 L93.3 208.7 L93.4 208.1 L93.4 206.9 L93.5 208.4 L93.5 206.8 L93.6 206.2 L93.6 205.2 L93.7 206.9 L93.7 206.2 L93.8 206.6 L93.8 207.5 L93.9 207.8 L93.9 209.2 L93.9 208.9 L94.0 210.9 L94.0 209.1 L94.1 209.4 L94.1 208.5 L94.2 209.0 L94.2 209.5 L94.3 211.3 L94.3 210.0 L94.4 208.4 L94.4 208.6 L94.5 209.3 L94.5 208.4 L94.6 208.8 L94.6 209.6 L94.7 211.0 L94.7 210.3 L94.7 209.2 L94.8 209.3 L94.8 209.3 L94.9 209.0 L94.9 209.7 L95.0 210.3 L95.0 210.8 L95.1 210.2 L95.1 209.5 L95.2 210.2 L95.2 210.2 L95.3 209.6 L95.3 211.0 L95.4 210.0 L95.4 209.8 L95.5 210.3 L95.5 210.7 L95.6 211.8 L95.6 211.3 L95.6 209.2 L95.7 210.3 L95.7 208.7 L95.8 211.6 L95.8 212.1 L95.9 210.4 L95.9 213.3 L96.0 210.5 L96.0 209.5 L96.1 210.0 L96.1 208.7 L96.2 208.9 L96.2 210.7 L96.3 213.8 L96.3 212.4 L96.4 210.4 L96.4 211.4 L96.5 213.2 L96.5 211.9 L96.5 211.2 L96.6 208.4 L96.6 211.2 L96.7 210.1 L96.7 211.0 L96.8 211.1 L96.8 208.6 L96.9 210.5 L96.9 210.6 L97.0 211.0 L97.0 208.8 L97.1 210.2 L97.1 210.5 L97.2 211.3 L97.2 210.9 L97.3 211.7 L97.3 209.7 L97.4 211.7 L97.4 211.3 L97.4 210.9 L97.5 211.2 L97.5 211.3 L97.6 211.4 L97.6 212.5 L97.7 211.8 L97.7 209.7 L97.8 211.4 L97.8 210.2 L97.9 210.9 L97.9 210.9 L98.0 212.1 L98.0 210.7 L98.1 212.9 L98.1 210.8 L98.2 211.7 L98.2 213.1 L98.3 208.9 L98.3 211.3 L98.3 212.2 L98.4 212.7 L98.4 211.4 L98.5 211.2 L98.5 210.3 L98.6 212.0 L98.6 209.9 L98.7 211.1 L98.7 210.4 L98.8 211.0 L98.8 211.6 L98.9 212.4 L98.9 211.3 L99.0 212.9 L99.0 211.9 L99.1 212.8 L99.1 211.5 L99.2 213.3 L99.2 210.9 L99.2 211.6 L99.3 212.5 L99.3 210.9 L99.4 212.3 L99.4 212.0 L99.5 210.9 L99.5 210.5 L99.6 211.2 L99.6 210.9 L99.7 212.4 L99.7 211.6 L99.8 211.4 L99.8 211.5 L99.9 212.4 L99.9 211.5 L100.0 211.7 L100.0 213.0 L100.1 211.7 L100.1 211.7 L100.1 210.7 L100.2 212.1 L100.2 212.7 L100.3 211.7 L100.3 211.9 L100.4 212.6 L100.4 212.3 L100.5 212.3 L100.5 211.1 L100.6 210.6 L100.6 211.6 L100.7 210.0 L100.7 212.4 L100.8 209.8 L100.8 211.6 L100.9 212.0 L100.9 210.7 L101.0 211.8 L101.0 211.3 L101.0 212.5 L101.1 211.7 L101.1 211.8 L101.2 209.4 L101.2 210.9 L101.3 211.5 L101.3 212.5 L101.4 212.4 L101.4 212.3 L101.5 212.3 L101.5 212.5 L101.6 211.7 L101.6 213.1 L101.7 213.0 L101.7 212.5 L101.8 211.8 L101.8 210.9 L101.9 211.6 L101.9 213.4 L101.9 211.6 L102.0 211.6 L102.0 212.1 L102.1 214.2 L102.1 212.5 L102.2 212.7 L102.2 213.0 L102.3 209.3 L102.3 213.7 L102.4 212.4 L102.4 212.1 L102.5 211.1 L102.5 211.7 L102.6 211.4 L102.6 212.8 L102.7 212.1 L102.7 214.0 L102.8 211.0 L102.8 212.6 L102.8 211.8 L102.9 211.7 L102.9 213.5 L103.0 211.7 L103.0 213.0 L103.1 213.1 L103.1 211.8 L103.2 212.1 L103.2 211.7 L103.3 212.3 L103.3 211.8 L103.4 211.3 L103.4 211.7 L103.5 213.6 L103.5 212.6 L103.6 212.2 L103.6 213.3 L103.7 212.0 L103.7 213.2 L103.7 212.3 L103.8 214.4 L103.8 210.2 L103.9 211.3 L103.9 212.7 L104.0 211.5 L104.0 213.5 L104.1 211.4 L104.1 207.4 L104.2 212.1 L104.2 211.3 L104.3 213.2 L104.3 211.1 L104.4 213.1 L104.4 213.0 L104.5 211.0 L104.5 212.9 L104.6 212.7 L104.6 211.9 L104.6 213.7 L104.7 214.3 L104.7 213.4 L104.8 212.4 L104.8 211.6 L104.9 213.5 L104.9 211.3 L105.0 211.9 L105.0 212.2 L105.1 212.8 L105.1 213.1 L105.2 212.3 L105.2 213.0 L105.3 211.5 L105.3 212.2 L105.4 211.9 L105.4 212.7 L105.5 212.9 L105.5 213.5 L105.5 211.8 L105.6 212.6 L105.6 213.5 L105.7 212.6 L105.7 213.3 L105.8 211.2 L105.8 212.4 L105.9 213.2 L105.9 212.5 L106.0 212.1 L106.0 213.7 L106.1 212.2 L106.1 213.1 L106.2 211.8 L106.2 213.0 L106.3 216.0 L106.3 212.7 L106.4 210.4 L106.4 213.1 L106.4 212.7 L106.5 212.4 L106.5 213.2 L106.6 214.6 L106.6 212.9 L106.7 212.8 L106.7 212.5 L106.8 212.5 L106.8 211.6 L106.9 210.2 L106.9 212.8 L107.0 212.4 L107.0 212.3 L107.1 212.6 L107.1 211.7 L107.2 212.5 L107.2 211.6 L107.3 212.0 L107.3 212.5 L107.3 213.9 L107.4 211.8 L107.4 213.5 L107.5 211.6 L107.5 211.1 L107.6 212.3 L107.6 213.0 L107.7 212.7 L107.7 214.5 L107.8 212.3 L107.8 211.9 L107.9 212.0 L107.9 213.3 L108.0 213.1 L108.0 211.5 L108.1 214.7 L108.1 212.0 L108.1 212.0 L108.2 213.6 L108.2 210.5 L108.3 213.7 L108.3 212.1 L108.4 214.4 L108.4 213.1 L108.5 211.7 L108.5 212.9 L108.6 213.4 L108.6 212.6 L108.7 212.1 L108.7 212.6 L108.8 214.0 L108.8 213.2 L108.9 213.6 L108.9 211.8 L109.0 213.1 L109.0 214.4 L109.0 213.0 L109.1 212.6 L109.1 212.2 L109.2 211.3 L109.2 212.6 L109.3 212.5 L109.3 213.3 L109.4 213.9 L109.4 213.6 L109.5 212.7 L109.5 212.6 L109.6 212.3 L109.6 216.0 L109.7 213.0 L109.7 213.2 L109.8 212.2 L109.8 212.0 L109.9 212.2 L109.9 213.2 L109.9 215.3 L110.0 213.1 L110.0 211.9 L110.1 212.3 L110.1 213.0 L110.2 212.0 L110.2 212.1 L110.3 212.7 L110.3 214.3 L110.4 213.3 L110.4 213.2 L110.5 213.5 L110.5 211.7 L110.6 213.1 L110.6 211.4 L110.7 213.9 L110.7 212.4 L110.8 214.1 L110.8 213.6 L110.8 212.6 L110.9 213.1 L110.9 211.6 L111.0 213.0 L111.0 213.2 L111.1 213.2 L111.1 212.3 L111.2 213.5 L111.2 212.9 L111.3 214.3 L111.3 212.1 L111.4 211.4 L111.4 212.9 L111.5 213.3 L111.5 213.7 L111.6 212.1 L111.6 212.8 L111.7 212.3 L111.7 213.7 L111.7 213.4 L111.8 213.4 L111.8 213.2 L111.9 213.3 L111.9 214.6 L112.0 212.1 L112.0 213.9 L112.1 211.2 L112.1 213.4 L112.2 211.8 L112.2 211.6 L112.3 214.5 L112.3 213.8 L112.4 214.0 L112.4 213.8 L112.5 214.0 L112.5 213.3 L112.6 211.6 L112.6 213.5 L112.6 214.1 L112.7 212.5 L112.7 213.6 L112.8 214.6 L112.8 213.5 L112.9 213.9" stroke="#0000ff" stroke-width="1.25"/>
<path d="M113.1 212.0 L113.1 213.9 L113.6 214.7 L113.6 211.4 L114.0 211.8 L114.0 215.9 L114.5 213.9 L114.5 211.7 L115.0 212.9 L115.0 215.5 L115.5 214.5 L115.5 212.6 L115.9 212.3 L115.9 214.3 L116.4 215.6 L116.4 212.2 L116.9 212.1 L116.9 214.5 L117.4 214.8 L117.4 211.3 L117.8 211.6 L117.8 215.6 L118.3 214.8 L118.3 212.7 L118.8 212.4 L118.8 214.7 L119.3 214.5 L119.3 212.2 L119.7 212.9 L119.7 214.6 L120.2 215.4 L120.2 212.6 L120.7 212.9 L120.7 216.7 L121.1 215.8 L121.1 211.4 L121.6 213.5 L121.6 215.5 L122.1 215.9 L122.1 212.4 L122.6 212.8 L122.6 215.2 L123.0 215.1 L123.0 212.5 L123.5 213.0 L123.5 215.8 L124.0 216.8 L124.0 212.9 L124.5 213.5 L124.5 215.6 L124.9 215.7 L124.9 213.4 L125.4 213.4 L125.4 215.2 L125.9 215.7 L125.9 213.0 L126.4 212.9 L126.4 216.0 L126.8 215.0 L126.8 212.8 L127.3 212.1 L127.3 216.0 L127.8 216.1 L127.8 213.1 L128.3 212.0 L128.3 215.5 L128.7 217.6 L128.7 212.8 L129.2 212.0 L129.2 215.5 L129.7 215.8 L129.7 212.6 L130.1 213.1 L130.1 215.6 L130.6 215.3 L130.6 213.3 L131.1 213.6 L131.1 216.0 L131.6 215.6 L131.6 213.5 L132.0 212.8 L132.0 216.0 L132.5 216.9 L132.5 212.3 L133.0 212.7 L133.0 215.2 L133.5 215.1 L133.5 212.7 L133.9 213.0 L133.9 215.8 L134.4 215.2 L134.4 213.3 L134.9 212.9 L134.9 216.4 L135.4 215.6 L135.4 213.3 L135.8 213.7 L135.8 216.0 L136.3 215.5 L136.3 213.2 L136.8 212.9 L136.8 216.3 L137.2 216.0 L137.2 212.8 L137.7 212.5 L137.7 216.6 L138.2 215.2 L138.2 214.2 L138.7 213.8 L138.7 215.6 L139.1 216.4 L139.1 213.5 L139.6 213.5 L139.6 216.8 L140.1 216.2 L140.1 212.8 L140.6 214.0 L140.6 215.8 L141.0 215.7 L141.0 213.5 L141.5 213.6 L141.5 216.2 L142.0 215.9 L142.0 212.9 L142.5 212.8 L142.5 216.6 L142.9 216.4 L142.9 212.7 L143.4 213.2 L143.4 216.0 L143.9 216.6 L143.9 214.5 L144.3 212.7 L144.3 216.2 L144.8 215.6 L144.8 212.8 L145.3 212.8 L145.3 215.9 L145.8 216.0 L145.8 213.8 L146.2 213.4 L146.2 216.3 L146.7 218.1 L146.7 213.9 L147.2 213.3 L147.2 216.1 L147.7 217.1 L147.7 213.7 L148.1 213.9 L148.1 216.2 L148.6 216.2 L148.6 213.9 L149.1 213.4 L149.1 215.5 L149.6 217.0 L149.6 212.8 L150.0 214.3 L150.0 217.1 L150.5 216.4 L150.5 213.8 L151.0 212.5 L151.0 215.8 L151.5 216.4 L151.5 213.6 L151.9 212.3 L151.9 216.4 L152.4 213.9 L152.4 211.5 L152.9 210.5 L152.9 213.8 L153.3 213.4 L153.3 211.3 L153.8 210.2 L153.8 213.0 L154.3 213.2 L154.3 211.2 L154.8 211.1 L154.8 213.9 L155.2 213.1 L155.2 211.2 L155.7 209.2 L155.7 214.3 L156.2 214.1 L156.2 211.1 L156.7 210.7 L156.7 213.4 L157.1 213.4 L157.1 210.6 L157.6 211.2 L157.6 213.6 L158.1 214.2 L158.1 210.3 L158.6 211.2 L158.6 214.2 L159.0 214.0 L159.0 211.3 L159.5 210.5 L159.5 213.2 L160.0 213.9 L160.0 210.0 L160.4 211.3 L160.4 213.7 L160.9 213.1 L160.9 211.4 L161.4 210.4 L161.4 213.6 L161.9 213.0 L161.9 210.8 L162.3 211.1 L162.3 214.7 L162.8 213.8 L162.8 211.5 L163.3 210.8 L163.3 213.4 L163.8 213.2 L163.8 210.5 L164.2 210.8 L164.2 213.7 L164.7 213.8 L164.7 209.7 L165.2 212.2 L165.2 214.4 L165.7 213.3 L165.7 211.4 L166.1 211.3 L166.1 214.2 L166.6 213.1 L166.6 210.3 L167.1 211.3 L167.1 213.4 L167.6 214.6 L167.6 211.4 L168.0 210.9 L168.0 214.0 L168.5 213.6 L168.5 211.6 L169.0 211.3 L169.0 215.2 L169.4 213.1 L169.4 211.2 L169.9 210.9 L169.9 213.0 L170.4 213.3 L170.4 210.8 L170.9 210.3 L170.9 214.4 L171.3 214.7 L171.3 210.6 L171.8 209.5 L171.8 213.0 L172.3 213.2 L172.3 210.4 L172.8 211.5 L172.8 213.2 L173.2 213.1 L173.2 210.7 L173.7 211.2 L173.7 214.0 L174.2 214.2 L174.2 211.0 L174.7 209.3 L174.7 213.5 L175.1 213.4 L175.1 211.3 L175.6 210.1 L175.6 212.7 L176.1 214.9 L176.1 210.7 L176.5 211.1 L176.5 212.8 L177.0 213.4 L177.0 211.4 L177.5 210.0 L177.5 213.8 L178.0 213.8 L178.0 210.4 L178.4 211.1 L178.4 213.8 L178.9 213.6 L178.9 209.9 L179.4 211.2 L179.4 213.1 L179.9 213.1 L179.9 211.1 L180.3 211.4 L180.3 214.6 L180.8 213.7 L180.8 211.0 L181.3 211.3 L181.3 213.9 L181.8 213.3 L181.8 211.3 L182.2 210.2 L182.2 213.4 L182.7 213.9 L182.7 210.8 L183.2 211.7 L183.2 213.5 L183.6 213.6 L183.6 211.3 L184.1 211.0 L184.1 213.2 L184.6 214.3 L184.6 210.4 L185.1 210.8 L185.1 213.7 L185.5 213.7 L185.5 211.5 L186.0 211.4 L186.0 214.3 L186.5 213.8 L186.5 210.2 L187.0 211.2 L187.0 212.8 L187.4 213.6 L187.4 211.3 L187.9 211.4 L187.9 213.6 L188.4 213.4 L188.4 210.2 L188.9 211.4 L188.9 213.6 L189.3 214.1 L189.3 211.2 L189.8 211.8 L189.8 215.2 L190.3 217.0 L190.3 213.2 L190.8 213.3 L190.8 216.9 L191.2 217.3 L191.2 214.7 L191.7 214.3 L191.7 216.8 L192.2 217.0 L192.2 213.9 L192.6 214.2 L192.6 216.2 L193.1 216.8 L193.1 213.2 L193.6 214.6 L193.6 217.2 L194.1 216.9 L194.1 213.6 L194.5 215.1 L194.5 217.6 L195.0 217.1 L195.0 213.8 L195.5 214.3 L195.5 217.1 L196.0 216.9 L196.0 214.5 L196.4 213.5 L196.4 218.4 L196.9 216.6 L196.9 214.6 L197.4 214.7 L197.4 217.0 L197.9 217.2 L197.9 213.7 L198.3 211.7 L198.3 217.4 L198.8 216.5 L198.8 213.5 L199.3 213.9 L199.3 216.1 L199.7 216.4 L199.7 214.6 L200.2 214.3 L200.2 217.0 L200.7 216.8 L200.7 214.7 L201.2 213.9 L201.2 216.7 L201.6 216.6 L201.6 214.3 L202.1 214.6 L202.1 216.3 L202.6 216.6 L202.6 214.4 L203.1 213.7 L203.1 217.3 L203.5 217.1 L203.5 212.8 L204.0 214.8 L204.0 216.8 L204.5 217.0 L204.5 213.7 L205.0 214.0 L205.0 216.7 L205.4 217.9 L205.4 214.0 L205.9 211.3 L205.9 216.1 L206.4 217.3 L206.4 214.4 L206.9 214.2 L206.9 215.9 L207.3 216.1 L207.3 214.1 L207.8 214.4 L207.8 217.0 L208.3 217.3 L208.3 214.3 L208.7 215.2 L208.7 216.9 L209.2 217.2 L209.2 213.7 L209.7 214.5 L209.7 216.4 L210.2 217.3 L210.2 214.8 L210.6 214.0 L210.6 217.7 L211.1 217.0 L211.1 214.6 L211.6 213.9 L211.6 216.8 L212.1 216.3 L212.1 214.5 L212.5 213.9 L212.5 216.8 L213.0 216.2 L213.0 213.6 L213.5 214.4 L213.5 216.9 L214.0 216.4 L214.0 214.2 L214.4 213.5 L214.4 215.7 L214.9 216.9 L214.9 214.5 L215.4 213.4 L215.4 216.5 L215.8 217.4 L215.8 214.2 L216.3 213.5 L216.3 216.4 L216.8 217.2 L216.8 213.9 L217.3 213.8 L217.3 216.6 L217.7 217.5 L217.7 213.5 L218.2 213.6 L218.2 216.5 L218.7 217.0 L218.7 213.8 L219.2 214.1 L219.2 217.3 L219.6 216.5 L219.6 214.2 L220.1 214.2 L220.1 216.8 L220.6 218.9 L220.6 214.3 L221.1 214.0 L221.1 217.1 L221.5 218.5 L221.5 214.2 L222.0 214.4 L222.0 216.7 L222.5 216.7 L222.5 213.6 L223.0 214.8 L223.0 216.8 L223.4 218.1 L223.4 214.5 L223.9 214.6 L223.9 217.9 L224.4 216.4 L224.4 214.1 L224.8 213.7 L224.8 217.1 L225.3 216.6 L225.3 214.1 L225.8 214.3 L225.8 217.0 L226.3 217.6 L226.3 213.8 L226.7 213.9 L226.7 217.1 L227.2 216.5 L227.2 214.1 L227.7 214.2 L227.7 216.2 L228.2 216.9 L228.2 214.2 L228.6 214.2 L228.6 217.4 L229.1 218.6 L229.1 214.0 L229.6 214.5 L229.6 216.5 L230.1 217.1 L230.1 214.8 L230.5 215.1 L230.5 216.4 L231.0 216.2 L231.0 214.8 L231.5 214.2 L231.5 215.8 L231.9 217.5 L231.9 213.3 L232.4 214.3 L232.4 217.4 L232.9 216.1 L232.9 214.4 L233.4 214.7 L233.4 218.2 L233.8 216.9 L233.8 214.0 L234.3 214.6 L234.3 217.0 L234.8 217.1 L234.8 214.3 L235.3 213.5 L235.3 216.2 L235.7 216.6 L235.7 213.6 L236.2 213.3 L236.2 216.8 L236.7 216.4 L236.7 215.0 L237.2 213.7 L237.2 217.0 L237.6 217.1 L237.6 213.8 L238.1 213.9 L238.1 217.0 L238.6 216.2 L238.6 214.6 L239.0 214.0 L239.0 216.9 L239.5 217.7 L239.5 213.7 L240.0 214.9 L240.0 217.9 L240.5 216.4 L240.5 214.6 L240.9 213.6 L240.9 217.3 L241.4 217.7 L241.4 214.7 L241.9 213.4 L241.9 217.6 L242.4 216.9 L242.4 214.1 L242.8 214.4 L242.8 217.0 L243.3 217.6 L243.3 214.3 L243.8 213.9 L243.8 216.5 L244.3 217.4 L244.3 213.7 L244.7 214.9 L244.7 216.8 L245.2 217.1 L245.2 214.4 L245.7 215.1 L245.7 216.9 L246.2 217.7 L246.2 212.9 L246.6 213.7 L246.6 216.4 L247.1 218.0 L247.1 214.8 L247.6 214.6 L247.6 216.8 L248.0 216.5 L248.0 214.7 L248.5 215.0 L248.5 217.0 L249.0 216.2 L249.0 213.8 L249.5 214.3 L249.5 218.1 L249.9 217.7 L249.9 214.3 L250.4 213.3 L250.4 216.3 L250.9 218.1 L250.9 214.6 L251.4 214.2 L251.4 216.8 L251.8 217.7 L251.8 212.9 L252.3 214.6 L252.3 217.0 L252.8 217.4 L252.8 214.4 L253.3 212.8 L253.3 217.1 L253.7 216.1 L253.7 213.2 L254.2 214.1 L254.2 216.5 L254.7 216.5 L254.7 213.8 L255.1 213.8 L255.1 217.6 L255.6 216.5 L255.6 213.7 L256.1 212.0 L256.1 215.4 L256.6 214.9 L256.6 210.9 L257.0 211.2 L257.0 214.0 L257.5 214.3 L257.5 211.3 L258.0 210.4 L258.0 215.0 L258.5 215.0 L258.5 211.2 L258.9 211.2 L258.9 214.6 L259.4 213.3 L259.4 211.1 L259.9 212.0 L259.9 215.1 L260.4 213.2 L260.4 211.7 L260.8 211.4 L260.8 213.2 L261.3 213.5 L261.3 211.7 L261.8 210.2 L261.8 214.9 L262.3 214.4 L262.3 211.9 L262.7 211.8 L262.7 213.5 L263.2 213.9 L263.2 211.7 L263.7 211.7 L263.7 214.6 L264.1 214.2 L264.1 211.3 L264.6 211.4 L264.6 213.9 L265.1 214.4 L265.1 210.5 L265.6 211.1 L265.6 214.0 L266.0 213.8 L266.0 211.4 L266.5 211.4 L266.5 213.7 L267.0 213.9 L267.0 211.9 L267.5 210.9 L267.5 213.9 L267.9 213.7 L267.9 211.3 L268.4 211.2 L268.4 214.2 L268.9 215.5 L268.9 210.9 L269.4 212.0 L269.4 214.0 L269.8 213.7 L269.8 210.9 L270.3 211.2 L270.3 215.1 L270.8 214.4 L270.8 211.3 L271.2 210.9 L271.2 214.3 L271.7 214.4 L271.7 212.1 L272.2 211.2 L272.2 213.9 L272.7 213.2 L272.7 211.1 L273.1 210.9 L273.1 213.2 L273.6 215.3 L273.6 211.6 L274.1 211.6 L274.1 215.1 L274.6 212.9 L274.6 210.4 L275.0 211.3 L275.0 214.0 L275.5 213.2 L275.5 211.2 L276.0 210.2 L276.0 214.7 L276.5 215.3 L276.5 211.3 L276.9 210.9 L276.9 213.9 L277.4 213.5 L277.4 211.8 L277.9 211.6 L277.9 213.6 L278.3 213.9 L278.3 212.3 L278.8 212.2 L278.8 214.4 L279.3 213.5 L279.3 212.0 L279.8 211.6 L279.8 213.9 L280.2 214.4 L280.2 211.3 L280.7 212.2 L280.7 214.2 L281.2 213.4 L281.2 210.6 L281.7 211.8 L281.7 215.5 L282.1 214.4 L282.1 212.1 L282.6 212.4 L282.6 214.1 L283.1 214.7 L283.1 210.8 L283.6 211.0 L283.6 215.0 L284.0 214.4 L284.0 212.3 L284.5 211.6 L284.5 213.7 L285.0 216.3 L285.0 212.2 L285.5 212.3 L285.5 213.9 L285.9 214.6 L285.9 211.3 L286.4 211.0 L286.4 214.5 L286.9 215.7 L286.9 211.8 L287.3 211.4 L287.3 214.1 L287.8 213.6 L287.8 211.0 L288.3 211.1 L288.3 214.9 L288.8 213.7 L288.8 211.1 L289.2 212.0 L289.2 214.2 L289.7 213.7 L289.7 211.5 L290.2 212.1 L290.2 213.1 L290.7 215.3 L290.7 211.4 L291.1 211.2 L291.1 214.6 L291.6 215.1 L291.6 211.9 L292.1 210.6 L292.1 214.6 L292.6 214.3 L292.6 210.6 L293.0 212.2 L293.0 214.0 L293.5 213.6 L293.5 211.2 L294.0 211.6 L294.0 214.4 L294.4 215.3 L294.4 210.2 L294.9 211.1 L294.9 214.0 L295.4 214.2 L295.4 211.0 L295.9 212.0 L295.9 214.0 L296.3 213.9 L296.3 211.1 L296.8 211.1 L296.8 215.4 L297.3 214.5 L297.3 211.2 L297.8 211.7 L297.8 214.8 L298.2 214.5 L298.2 211.8 L298.7 212.0 L298.7 214.1 L299.2 214.1 L299.2 211.1 L299.7 211.7 L299.7 214.1 L300.1 214.2 L300.1 211.8 L300.6 211.3 L300.6 214.1 L301.1 213.5 L301.1 210.9 L301.6 211.4 L301.6 213.5 L302.0 213.7 L302.0 211.1 L302.5 210.5 L302.5 214.3 L303.0 215.6 L303.0 211.9 L303.4 212.0 L303.4 214.8 L303.9 216.5 L303.9 211.3 L304.4 211.7 L304.4 214.7 L304.9 214.2 L304.9 211.1 L305.3 211.7 L305.3 214.4 L305.8 214.4 L305.8 211.3 L306.3 211.7 L306.3 214.6 L306.8 213.6 L306.8 211.7 L307.2 210.4 L307.2 214.0 L307.7 214.1 L307.7 211.7 L308.2 211.3 L308.2 214.2 L308.7 214.0 L308.7 211.9 L309.1 210.9 L309.1 213.9 L309.6 214.1 L309.6 211.4 L310.1 211.8 L310.1 214.1 L310.5 214.1 L310.5 212.1 L311.0 211.5 L311.0 214.7 L311.5 214.2 L311.5 211.7 L312.0 211.6 L312.0 214.7 L312.4 213.6 L312.4 212.2 L312.9 211.1 L312.9 215.4 L313.4 214.0 L313.4 211.2 L313.9 211.9 L313.9 215.3 L314.3 214.2 L314.3 211.2 L314.8 210.1 L314.8 213.4 L315.3 214.3 L315.3 211.3 L315.8 211.1 L315.8 214.5 L316.2 216.0 L316.2 211.2 L316.7 210.7 L316.7 214.3 L317.2 213.4 L317.2 210.8 L317.7 212.2 L317.7 214.4 L318.1 214.9 L318.1 212.1 L318.6 211.9 L318.6 214.4 L319.1 214.7 L319.1 211.7 L319.5 211.4 L319.5 214.5 L320.0 215.0 L320.0 212.0 L320.5 212.3 L320.5 214.7 L321.0 214.1 L321.0 212.0 L321.4 212.7 L321.4 214.0 L321.9 215.0 L321.9 212.8 L322.4 213.1 L322.4 216.7 L322.9 217.1 L322.9 213.9 L323.3 215.2 L323.3 216.9 L323.8 216.8 L323.8 214.3 L324.3 215.2 L324.3 216.9 L324.8 217.2 L324.8 214.2 L325.2 215.0 L325.2 217.6 L325.7 217.0 L325.7 214.5 L326.2 214.3 L326.2 216.9 L326.6 217.2 L326.6 214.0 L327.1 214.6 L327.1 218.3 L327.6 217.5 L327.6 213.8 L328.1 214.5 L328.1 217.0 L328.5 217.0 L328.5 214.9 L329.0 214.5 L329.0 217.9 L329.5 217.4 L329.5 214.3 L330.0 214.8 L330.0 217.8 L330.4 217.0 L330.4 213.6 L330.9 213.8 L330.9 216.9 L331.4 217.7 L331.4 214.1 L331.9 214.2 L331.9 217.0 L332.3 217.2 L332.3 213.9 L332.8 214.1 L332.8 216.4 L333.3 217.9 L333.3 214.9 L333.7 215.3 L333.7 216.5 L334.2 216.9 L334.2 213.5 L334.7 215.0 L334.7 216.7 L335.2 216.8 L335.2 214.5 L335.6 214.8 L335.6 217.6 L336.1 217.1 L336.1 213.7 L336.6 214.7 L336.6 217.4 L337.1 216.8 L337.1 215.1 L337.5 214.5 L337.5 217.2 L338.0 217.1 L338.0 215.2 L338.5 214.6 L338.5 217.3 L339.0 216.6 L339.0 214.5 L339.4 214.9 L339.4 217.8 L339.9 216.9 L339.9 214.4 L340.4 215.5 L340.4 216.9 L340.9 218.1 L340.9 215.0 L341.3 214.7 L341.3 217.2 L341.8 218.1 L341.8 214.2 L342.3 214.4 L342.3 216.8 L342.7 217.2 L342.7 215.0 L343.2 215.3 L343.2 217.1 L343.7 217.8 L343.7 214.8 L344.2 214.2 L344.2 216.9 L344.6 217.8 L344.6 214.5 L345.1 214.0 L345.1 218.2 L345.6 217.7 L345.6 213.7 L346.1 215.0 L346.1 217.7 L346.5 216.7 L346.5 214.1 L347.0 214.4 L347.0 217.5 L347.5 217.8 L347.5 213.9 L348.0 214.5 L348.0 216.3 L348.4 217.9 L348.4 215.2 L348.9 214.7 L348.9 217.6 L349.4 217.8 L349.4 214.9 L349.8 214.8 L349.8 217.3 L350.3 217.6 L350.3 215.6 L350.8 215.2 L350.8 217.0 L351.3 219.1 L351.3 214.4 L351.7 214.3 L351.7 217.8 L352.2 216.9 L352.2 213.9 L352.7 213.8 L352.7 217.5 L353.2 220.7 L353.2 213.9 L353.6 214.4 L353.6 217.1 L354.1 217.8 L354.1 214.6 L354.6 213.5 L354.6 216.8 L355.1 217.9 L355.1 215.1 L355.5 214.4 L355.5 218.1 L356.0 218.3 L356.0 213.8 L356.5 214.0 L356.5 217.3 L357.0 217.2 L357.0 214.3 L357.4 215.4 L357.4 218.5 L357.9 218.6 L357.9 215.4 L358.4 215.0 L358.4 216.7 L358.8 216.8 L358.8 214.5 L359.3 214.6 L359.3 217.0 L359.8 217.9 L359.8 214.6 L360.3 214.7 L360.3 217.4 L360.7 218.0 L360.7 215.3 L361.2 213.3 L361.2 217.4 L361.7 217.6 L361.7 215.4 L362.2 214.7 L362.2 216.6 L362.6 218.2 L362.6 214.8 L363.1 214.2 L363.1 217.2 L363.6 216.6 L363.6 214.8 L364.1 214.6 L364.1 217.7 L364.5 216.8 L364.5 214.9 L365.0 214.5 L365.0 218.0 L365.5 217.6 L365.5 215.6 L365.9 215.0 L365.9 218.1 L366.4 217.1 L366.4 214.6 L366.9 214.3 L366.9 217.6 L367.4 217.8 L367.4 215.9 L367.8 214.4 L367.8 218.7 L368.3 218.1 L368.3 215.7 L368.8 214.6 L368.8 217.5 L369.3 217.5 L369.3 214.4 L369.7 214.3 L369.7 218.4 L370.2 217.6 L370.2 215.1 L370.7 215.0 L370.7 217.4 L371.2 218.1 L371.2 215.1 L371.6 214.2 L371.6 216.9 L372.1 216.9 L372.1 214.7 L372.6 214.7 L372.6 217.6 L373.0 218.7 L373.0 214.9 L373.5 214.8 L373.5 217.5 L374.0 218.0 L374.0 214.3 L374.5 214.0 L374.5 216.9 L374.9 217.1 L374.9 215.2 L375.4 216.3 L375.4 216.9 L375.9 217.6 L375.9 214.3 L376.4 214.2 L376.4 217.2 L376.8 217.9 L376.8 214.8 L377.3 214.7 L377.3 218.6 L377.8 218.6 L377.8 215.4 L378.3 214.5 L378.3 217.0 L378.7 217.4 L378.7 214.5 L379.2 214.8 L379.2 218.1 L379.7 217.7 L379.7 215.0 L380.2 214.9 L380.2 218.2 L380.6 217.4 L380.6 214.2 L381.1 214.7 L381.1 218.0 L381.6 217.2 L381.6 214.6 L382.0 214.6 L382.0 216.6 L382.5 217.0 L382.5 215.5 L383.0 214.1 L383.0 217.3 L383.5 217.9 L383.5 215.4 L383.9 214.1 L383.9 217.9 L384.4 217.9 L384.4 215.5 L384.9 215.4 L384.9 218.2 L385.4 217.6 L385.4 214.5 L385.8 215.3 L385.8 217.0 L386.3 216.1 L386.3 213.0 L386.8 211.9 L386.8 214.5 L387.3 213.8 L387.3 211.9 L387.7 211.6 L387.7 214.2 L388.2 213.5 L388.2 211.8 L388.7 211.8 L388.7 215.2 L389.1 214.4 L389.1 211.8 L389.6 212.3 L389.6 214.3 L390.1 215.2 L390.1 211.7 L390.6 212.0 L390.6 214.9 L391.0 215.3 L391.0 211.3 L391.5 212.2 L391.5 215.5 L392.0 214.2 L392.0 210.9 L392.5 212.0 L392.5 214.3 L392.9 214.1 L392.9 211.7 L393.4 212.2 L393.4 214.8 L393.9 214.0 L393.9 211.5 L394.4 211.7 L394.4 214.9 L394.8 214.9 L394.8 211.9 L395.3 211.2 L395.3 214.9 L395.8 214.1 L395.8 212.0 L396.3 211.6 L396.3 214.7 L396.7 215.1 L396.7 212.3 L397.2 212.6 L397.2 214.4 L397.7 214.5 L397.7 212.1 L398.1 209.8 L398.1 214.1 L398.6 215.1 L398.6 211.1 L399.1 212.4 L399.1 214.3 L399.6 214.6 L399.6 211.0 L400.0 213.2 L400.0 214.5 L400.5 214.5 L400.5 212.8 L401.0 211.9 L401.0 215.1 L401.5 215.7 L401.5 212.1 L401.9 211.6 L401.9 215.3 L402.4 213.7 L402.4 211.7 L402.9 211.8 L402.9 214.1 L403.4 214.4 L403.4 211.6 L403.8 212.0 L403.8 214.4 L404.3 215.4 L404.3 211.7 L404.8 212.5 L404.8 214.9 L405.2 214.6 L405.2 212.0 L405.7 212.1 L405.7 214.2 L406.2 213.8 L406.2 210.3 L406.7 211.7 L406.7 214.7 L407.1 214.3 L407.1 211.6 L407.6 211.7 L407.6 215.4 L408.1 214.2 L408.1 212.1 L408.6 211.5 L408.6 215.5 L409.0 215.0 L409.0 212.0 L409.5 211.6 L409.5 215.3 L410.0 214.1 L410.0 211.3 L410.5 211.1 L410.5 215.3 L410.9 214.8 L410.9 211.6 L411.4 212.6 L411.4 215.9 L411.9 215.5 L411.9 211.9 L412.4 211.6 L412.4 215.0 L412.8 215.0 L412.8 211.2 L413.3 211.2 L413.3 214.4 L413.8 215.0 L413.8 212.0 L414.2 211.9 L414.2 214.9 L414.7 215.0 L414.7 211.5 L415.2 211.6 L415.2 215.4 L415.7 215.4 L415.7 211.7 L416.1 211.8 L416.1 214.3 L416.6 214.8 L416.6 211.5 L417.1 211.5 L417.1 214.2 L417.6 215.0 L417.6 211.9 L418.0 212.3 L418.0 214.5 L418.5 214.5 L418.5 211.5 L419.0 211.5 L419.0 214.4 L419.5 214.4 L419.5 211.1 L419.9 211.2 L419.9 213.7 L420.4 215.0 L420.4 211.1 L420.9 211.5 L420.9 214.4 L421.3 214.2 L421.3 210.5 L421.8 212.2 L421.8 214.4 L422.3 214.3 L422.3 212.0 L422.8 211.9 L422.8 215.2 L423.2 216.4 L423.2 213.7 L423.7 215.0 L423.7 217.6 L424.2 218.1 L424.2 214.3 L424.7 214.3 L424.7 217.0 L425.1 217.8 L425.1 215.2 L425.6 215.2 L425.6 217.3 L426.1 217.1 L426.1 213.4 L426.6 215.4 L426.6 218.2 L427.0 219.1 L427.0 215.1 L427.5 214.8 L427.5 220.5 L428.0 218.3 L428.0 214.4 L428.4 213.7 L428.4 218.6 L428.9 218.4 L428.9 215.4 L429.4 214.1 L429.4 217.5 L429.9 217.6 L429.9 214.2 L430.3 215.1 L430.3 216.8 L430.8 217.4 L430.8 214.3 L431.3 214.9 L431.3 218.1 L431.8 217.6 L431.8 214.7 L432.2 215.2 L432.2 219.2 L432.7 218.3 L432.7 215.1 L433.2 216.0 L433.2 218.5 L433.7 219.1 L433.7 213.5 L434.1 215.5 L434.1 217.4 L434.6 217.5 L434.6 215.5 L435.1 214.0 L435.1 217.7 L435.6 217.9 L435.6 215.5 L436.0 215.3 L436.0 218.5 L436.5 218.5 L436.5 214.6 L437.0 215.0 L437.0 217.1 L437.4 218.1 L437.4 215.5 L437.9 215.0 L437.9 217.6 L438.4 216.7 L438.4 215.1 L438.9 213.6 L438.9 218.1 L439.3 218.1 L439.3 215.5 L439.8 214.9 L439.8 217.2 L440.3 217.7 L440.3 215.1 L440.8 215.1 L440.8 218.6 L441.2 217.5 L441.2 215.3 L441.7 215.0 L441.7 217.6 L442.2 217.0 L442.2 215.2 L442.7 214.5 L442.7 218.4 L443.1 217.4 L443.1 214.5 L443.6 215.7 L443.6 217.7 L444.1 217.5 L444.1 215.2 L444.5 214.7 L444.5 218.0 L445.0 217.5 L445.0 215.5 L445.5 215.4 L445.5 218.1 L446.0 217.5 L446.0 214.9 L446.4 214.4 L446.4 218.0 L446.9 218.5 L446.9 215.2 L447.4 215.2 L447.4 217.5 L447.9 218.2 L447.9 215.4 L448.3 215.2 L448.3 217.2 L448.8 217.7 L448.8 215.1 L449.3 215.6 L449.3 218.4 L449.8 217.5 L449.8 213.2 L450.2 214.8 L450.2 217.4 L450.7 219.0 L450.7 215.4 L451.2 215.6 L451.2 217.7 L451.7 218.2 L451.7 214.9 L452.1 214.4 L452.1 218.0 L452.6 218.3 L452.6 215.9 L453.1 214.4 L453.1 217.9 L453.5 218.2 L453.5 214.6 L454.0 215.2 L454.0 217.5 L454.5 218.0 L454.5 214.3 L455.0 215.1 L455.0 217.2 L455.4 218.1 L455.4 215.0 L455.9 214.2 L455.9 217.6 L456.4 218.0 L456.4 215.3 L456.9 214.6 L456.9 219.6 L457.3 217.2 L457.3 214.4 L457.8 215.3 L457.8 217.5 L458.3 217.7 L458.3 215.8 L458.8 215.4 L458.8 218.1 L459.2 218.0 L459.2 215.3 L459.7 214.5 L459.7 218.1 L460.2 217.6 L460.2 215.7 L460.6 215.8 L460.6 218.2 L461.1 217.7 L461.1 214.9 L461.6 216.4 L461.6 217.9 L462.1 218.7 L462.1 214.6 L462.5 215.5 L462.5 217.9 L463.0 218.5 L463.0 215.3 L463.5 214.6 L463.5 218.4 L464.0 219.3 L464.0 214.4 L464.4 214.7 L464.4 218.4 L464.9 218.5 L464.9 215.2 L465.4 215.2 L465.4 218.4 L465.9 217.0 L465.9 215.3 L466.3 214.8 L466.3 217.6 L466.8 217.1 L466.8 215.0 L467.3 215.1 L467.3 217.5 L467.7 217.4 L467.7 213.6 L468.2 215.3 L468.2 217.9 L468.7 217.6 L468.7 215.4 L469.2 214.8 L469.2 218.9 L469.6 217.3 L469.6 214.5 L470.1 216.0 L470.1 219.4 L470.6 217.7 L470.6 215.7 L471.1 214.8 L471.1 217.6 L471.5 218.3 L471.5 215.8 L472.0 215.0 L472.0 217.1 L472.5 217.9 L472.5 215.2 L473.0 215.9 L473.0 218.9 L473.4 217.4 L473.4 215.8 L473.9 215.1 L473.9 218.5 L474.4 217.9 L474.4 215.9 L474.9 214.9 L474.9 217.5 L475.3 218.2 L475.3 215.3 L475.8 215.0 L475.8 218.2 L476.3 217.4 L476.3 214.7 L476.7 214.6 L476.7 217.1 L477.2 217.2 L477.2 214.6 L477.7 215.3 L477.7 217.8 L478.2 217.7 L478.2 214.6 L478.6 214.6 L478.6 218.2 L479.1 217.6 L479.1 214.6 L479.6 214.6 L479.6 217.4 L480.1 218.0 L480.1 214.8 L480.5 213.7 L480.5 217.7 L481.0 218.3 L481.0 214.4 L481.5 215.1 L481.5 218.3 L482.0 217.5 L482.0 215.5 L482.4 213.8 L482.4 217.6 L482.9 217.8 L482.9 215.0 L483.4 214.3 L483.4 217.7 L483.8 219.1 L483.8 215.4 L484.3 215.2 L484.3 217.6 L484.8 218.1 L484.8 214.9 L485.3 214.8 L485.3 218.1 L485.7 217.4 L485.7 214.8 L486.2 215.6 L486.2 217.5 L486.7 217.2 L486.7 215.0 L487.2 215.6 L487.2 218.1 L487.6 218.6 L487.6 215.9 L488.1 215.3 L488.1 217.5 L488.6 218.4 L488.6 214.2 L489.1 215.7 L489.1 218.0 L489.5 217.7 L489.5 215.1 L490.0 215.8 L490.0 218.1 L490.5 218.2 L490.5 214.9 L491.0 215.0 L491.0 217.2 L491.4 218.9 L491.4 215.1 L491.9 215.9 L491.9 218.0 L492.4 217.2 L492.4 214.7 L492.8 215.3 L492.8 217.8 L493.3 218.4 L493.3 215.0 L493.8 215.7 L493.8 218.6 L494.3 218.6 L494.3 215.8 L494.7 214.6 L494.7 218.1 L495.2 218.1 L495.2 215.5 L495.7 215.3 L495.7 218.8 L496.2 219.0 L496.2 215.9 L496.6 215.2 L496.6 217.9 L497.1 217.7 L497.1 215.5 L497.6 215.4 L497.6 218.2 L498.1 217.5 L498.1 214.0 L498.5 215.5 L498.5 218.2 L499.0 217.4 L499.0 214.5 L499.5 214.7 L499.5 218.0 L499.9 217.9 L499.9 215.0 L500.4 215.3 L500.4 217.5 L500.9 218.5 L500.9 216.3 L501.4 214.7 L501.4 217.9 L501.8 218.4 L501.8 215.6 L502.3 215.1 L502.3 218.5 L502.8 220.6 L502.8 215.0 L503.3 215.6 L503.3 218.8 L503.7 218.2 L503.7 215.3 L504.2 214.3 L504.2 218.1 L504.7 218.0 L504.7 215.4 L505.2 215.9 L505.2 217.6 L505.6 218.0 L505.6 215.6 L506.1 215.7 L506.1 217.2 L506.6 218.8 L506.6 215.7 L507.1 214.5 L507.1 217.6 L507.5 217.6 L507.5 214.9 L508.0 215.7 L508.0 218.0 L508.5 217.2 L508.5 215.8 L508.9 215.2 L508.9 218.0 L509.4 218.6 L509.4 214.9 L509.9 215.4 L509.9 217.5 L510.4 218.2 L510.4 214.8 L510.8 215.4 L510.8 217.7 L511.3 219.1 L511.3 215.4 L511.8 215.2 L511.8 218.8 L512.3 217.6 L512.3 214.5 L512.7 215.4 L512.7 220.8 L513.2 217.2 L513.2 215.1 L513.7 215.1 L513.7 219.6 L514.2 217.9 L514.2 215.7 L514.6 215.8 L514.6 217.7 L515.1 218.8 L515.1 215.7 L515.6 215.2 L515.6 218.0 L516.0 217.9 L516.0 215.1 L516.5 214.8 L516.5 217.6 L517.0 218.0 L517.0 215.4 L517.5 213.7 L517.5 216.5 L517.9 214.6 L517.9 213.1 L518.4 212.0 L518.4 214.3 L518.9 219.1 L518.9 211.0 L519.4 211.8 L519.4 215.2 L519.8 214.4 L519.8 212.0 L520.3 212.4 L520.3 214.9 L520.8 214.7 L520.8 212.0 L521.3 211.8 L521.3 214.1 L521.7 215.3 L521.7 212.7 L522.2 212.8 L522.2 214.5 L522.7 215.9 L522.7 212.1 L523.1 212.2 L523.1 214.8 L523.6 215.4 L523.6 212.2 L524.1 213.2 L524.1 215.4 L524.6 216.3 L524.6 212.6 L525.0 211.9 L525.0 215.3 L525.5 214.3 L525.5 212.1 L526.0 213.0 L526.0 216.0 L526.5 217.9 L526.5 213.3 L526.9 212.2 L526.9 215.1 L527.4 214.3 L527.4 211.6 L527.9 212.4 L527.9 216.5 L528.4 215.3 L528.4 212.9 L528.8 211.9 L528.8 215.0 L529.3 215.4 L529.3 212.4 L529.8 212.8 L529.8 214.9 L530.3 216.4 L530.3 212.4 L530.7 212.6 L530.7 214.7 L531.2 215.0 L531.2 212.4 L531.7 213.2 L531.7 214.6 L532.1 214.8 L532.1 213.0 L532.6 212.3 L532.6 214.6 L533.1 215.2 L533.1 212.9 L533.6 213.2 L533.6 215.2 L534.0 214.9 L534.0 212.8 L534.0 212.1 L534.0 212.1" stroke="#0000ff" stroke-width="1.0"/>
<path d="M60.8 12.3 L60.8 15.8 L60.9 19.0 L60.9 22.1 L61.0 25.2 L61.0 28.0 L61.1 30.0 L61.1 31.5 L61.2 32.8 L61.2 33.9 L61.3 34.9 L61.3 35.8 L61.4 36.6 L61.4 37.4 L61.5 38.3 L61.5 39.1 L61.6 39.9 L61.6 40.8 L61.7 41.6 L61.7 42.4 L61.7 43.2 L61.8 44.0 L61.8 44.7 L61.9 45.5 L61.9 46.2 L62.0 46.9 L62.0 47.6 L62.1 48.3 L62.1 48.9 L62.2 49.5 L62.2 50.2 L62.3 50.7 L62.3 51.3 L62.4 51.9 L62.4 52.4 L62.5 53.0 L62.5 53.5 L62.6 54.0 L62.6 54.6 L62.6 55.1 L62.7 55.6 L62.7 55.8 L62.8 56.3 L62.8 56.8 L62.9 57.2 L62.9 57.7 L63.0 58.2 L63.0 58.7 L63.1 59.1 L63.1 59.6 L63.2 60.1 L63.2 60.5 L63.3 61.0 L63.3 61.4 L63.4 61.9 L63.4 62.3 L63.5 62.7 L63.5 63.2 L63.5 63.6 L63.6 64.0 L63.6 64.4 L63.7 64.9 L63.7 65.3 L63.8 65.7 L63.8 66.1 L63.9 66.5 L63.9 66.9 L64.0 67.3 L64.0 67.7 L64.1 68.1 L64.1 68.5 L64.2 68.9 L64.2 69.3 L64.3 69.7 L64.3 70.1 L64.4 70.5 L64.4 70.9 L64.4 71.3 L64.5 71.7 L64.5 72.1 L64.6 72.5 L64.6 72.8 L64.7 73.2 L64.7 73.6 L64.8 74.0 L64.8 74.4 L64.9 74.7 L64.9 75.1 L65.0 75.5 L65.0 75.9 L65.1 76.3 L65.1 76.6 L65.2 77.0 L65.2 77.4 L65.3 77.8 L65.3 78.1 L65.3 78.5 L65.4 78.9 L65.4 79.3 L65.5 79.6 L65.5 80.0 L65.6 80.4 L65.6 80.7 L65.7 81.1 L65.7 81.5 L65.8 81.9 L65.8 82.2 L65.9 82.6 L65.9 83.0 L66.0 83.3 L66.0 83.7 L66.1 84.1 L66.1 84.5 L66.2 84.8 L66.2 85.2 L66.2 85.6 L66.3 85.9 L66.3 86.3 L66.4 86.7 L66.4 87.0 L66.5 87.4 L66.5 87.8 L66.6 88.1 L66.6 88.5 L66.7 88.9 L66.7 89.2 L66.8 89.6 L66.8 90.0 L66.9 90.3 L66.9 90.7 L67.0 91.1 L67.0 91.4 L67.1 91.8 L67.1 92.1 L67.1 92.5 L67.2 92.9 L67.2 93.2 L67.3 93.6 L67.3 94.0 L67.4 94.3 L67.4 94.7 L67.5 95.1 L67.5 95.4 L67.6 95.8 L67.6 96.2 L67.7 96.5 L67.7 96.9 L67.8 97.3 L67.8 97.6 L67.9 98.0 L67.9 98.4 L67.9 98.7 L68.0 99.1 L68.0 99.5 L68.1 99.8 L68.1 100.2 L68.2 100.6 L68.2 100.9 L68.3 101.3 L68.3 101.7 L68.4 102.0 L68.4 102.4 L68.5 102.8 L68.5 103.1 L68.6 103.5 L68.6 103.9 L68.7 104.2 L68.7 104.6 L68.8 105.0 L68.8 105.3 L68.8 105.7 L68.9 106.1 L68.9 106.4 L69.0 106.8 L69.0 107.2 L69.1 107.5 L69.1 107.9 L69.2 108.3 L69.2 108.6 L69.3 109.0 L69.3 109.4 L69.4 109.7 L69.4 110.1 L69.5 110.5 L69.5 110.8 L69.6 111.2 L69.6 111.6 L69.7 111.9 L69.7 112.3 L69.7 112.7 L69.8 113.0 L69.8 113.4 L69.9 113.7 L69.9 114.1 L70.0 114.5 L70.0 114.8 L70.1 115.2 L70.1 115.5 L70.2 115.9 L70.2 116.2 L70.3 116.6 L70.3 116.9 L70.4 117.2 L70.4 117.6 L70.5 117.9 L70.5 118.2 L70.6 118.6 L70.6 118.9 L70.6 119.2 L70.7 119.5 L70.7 119.8 L70.8 120.1 L70.8 120.4 L70.9 120.7 L70.9 121.0 L71.0 121.3 L71.0 121.6 L71.1 121.9 L71.1 122.2 L71.2 122.4 L71.2 122.7 L71.3 123.0 L71.3 123.3 L71.4 123.5 L71.4 123.8 L71.5 124.0 L71.5 124.3 L71.5 124.6 L71.6 124.8 L71.6 125.1 L71.7 125.3 L71.7 125.5 L71.8 125.8 L71.8 126.0 L71.9 126.3 L71.9 126.5 L72.0 126.7 L72.0 127.0 L72.1 127.2 L72.1 127.4 L72.2 127.7 L72.2 127.9 L72.3 128.1 L72.3 128.4 L72.4 128.6 L72.4 128.8 L72.4 129.1 L72.5 129.3 L72.5 129.5 L72.6 129.8 L72.6 130.0 L72.7 130.2 L72.7 130.5 L72.8 130.7 L72.8 130.9 L72.9 131.1 L72.9 131.4 L73.0 131.6 L73.0 131.8 L73.1 132.0 L73.1 132.3 L73.2 132.5 L73.2 132.7 L73.3 133.0 L73.3 133.2 L73.3 133.4 L73.4 133.6 L73.4 133.9 L73.5 134.1 L73.5 134.3 L73.6 134.5 L73.6 134.8 L73.7 135.0 L73.7 135.2 L73.8 135.4 L73.8 135.7 L73.9 135.9 L73.9 136.1 L74.0 136.3 L74.0 136.5 L74.1 136.8 L74.1 137.0 L74.2 137.2 L74.2 137.5 L74.2 137.7 L74.3 137.9 L74.3 138.2 L74.4 138.4 L74.4 138.6 L74.5 138.9 L74.5 139.1 L74.6 139.3 L74.6 139.6 L74.7 139.8 L74.7 140.1 L74.8 140.4 L74.8 140.6 L74.9 140.9 L74.9 141.2 L75.0 141.4 L75.0 141.7 L75.1 142.0 L75.1 142.3 L75.1 142.6 L75.2 142.9 L75.2 143.2 L75.3 143.5 L75.3 143.8 L75.4 144.1 L75.4 144.4 L75.5 144.7 L75.5 145.1 L75.6 145.4 L75.6 145.7 L75.7 146.1 L75.7 146.4 L75.8 146.8 L75.8 147.1 L75.9 147.5 L75.9 147.9 L76.0 148.2 L76.0 148.6 L76.0 149.0 L76.1 149.4 L76.1 149.8 L76.2 150.1 L76.2 150.5 L76.3 150.9 L76.3 151.3 L76.4 151.7 L76.4 152.1 L76.5 152.5 L76.5 153.0 L76.6 153.4 L76.6 153.8 L76.7 154.2 L76.7 154.6 L76.8 155.0 L76.8 155.4 L76.9 155.8 L76.9 156.3 L76.9 156.7 L77.0 157.1 L77.0 157.5 L77.1 157.9 L77.1 158.4 L77.2 158.8 L77.2 159.2 L77.3 159.6 L77.3 160.0 L77.4 160.5 L77.4 160.9 L77.5 161.3 L77.5 161.7 L77.6 162.2 L77.6 162.6 L77.7 163.0 L77.7 163.5 L77.8 163.9 L77.8 164.3 L77.8 164.7 L77.9 165.2 L77.9 165.6 L78.0 166.0 L78.0 166.5 L78.1 166.9 L78.1 167.4 L78.2 167.8 L78.2 168.2 L78.3 168.7 L78.3 169.1 L78.4 169.5 L78.4 170.0 L78.5 170.4 L78.5 170.9 L78.6 171.3 L78.6 171.8 L78.7 172.2 L78.7 172.6 L78.7 172.9 L78.8 173.4 L78.8 173.8 L78.9 174.4 L78.9 174.8 L79.0 175.3 L79.0 175.9 L79.1 176.5 L79.1 176.8 L79.2 177.1 L79.2 177.2 L79.3 177.6 L79.3 178.3 L79.4 178.9 L79.4 179.6 L79.5 179.5 L79.5 179.8 L79.6 180.0 L79.6 180.5 L79.6 181.1 L79.7 182.0 L79.7 182.3 L79.8 182.1 L79.8 182.8 L79.9 182.9 L79.9 183.2 L80.0 182.4 L80.0 183.3 L80.1 183.9 L80.1 185.1 L80.2 184.2 L80.2 184.4 L80.3 183.5 L80.3 185.0 L80.4 185.9 L80.4 196.0 L80.5 194.5 L80.5 191.5 L80.5 191.2 L80.6 187.0 L80.6 188.3 L80.7 187.3 L80.7 193.6 L80.8 194.7 L80.8 192.2 L80.9 191.5 L80.9 192.1 L81.0 193.3 L81.0 194.0 L81.1 197.0 L81.1 195.7 L81.2 190.5 L81.2 190.4 L81.3 190.2 L81.3 194.8 L81.3 193.8 L81.4 190.0 L81.4 190.3 L81.5 182.3 L81.5 187.6 L81.6 184.0 L81.6 189.6 L81.7 190.9 L81.7 190.1 L81.8 189.7 L81.8 184.0 L81.9 185.5 L81.9 189.2 L82.0 190.8 L82.0 191.8 L82.1 186.4 L82.1 187.5 L82.2 187.3 L82.2 196.1 L82.2 190.4 L82.3 193.2 L82.3 194.3 L82.4 194.6 L82.4 188.7 L82.5 188.6 L82.5 191.2 L82.6 196.2 L82.6 196.2 L82.7 190.2 L82.7 190.6 L82.8 190.2 L82.8 189.8 L82.9 186.5 L82.9 185.2 L83.0 189.6 L83.0 190.8 L83.1 197.4 L83.1 189.6 L83.1 186.6 L83.2 181.2 L83.2 186.0 L83.3 186.1 L83.3 185.2 L83.4 179.5 L83.4 184.4 L83.5 186.6 L83.5 197.1 L83.6 196.4 L83.6 190.7 L83.7 184.8 L83.7 184.3 L83.8 188.3 L83.8 192.7 L83.9 185.2 L83.9 190.1 L84.0 187.5 L84.0 195.0 L84.0 184.0 L84.1 188.0 L84.1 187.4 L84.2 195.3 L84.2 194.0 L84.3 188.4 L84.3 180.9 L84.4 180.0 L84.4 185.9 L84.5 194.1 L84.5 194.6 L84.6 192.0 L84.6 186.6 L84.7 185.3 L84.7 188.4 L84.8 187.4 L84.8 188.7 L84.9 182.2 L84.9 174.7 L84.9 175.7 L85.0 181.4 L85.0 185.1 L85.1 187.1 L85.1 187.6 L85.2 187.7 L85.2 189.0 L85.3 184.5 L85.3 185.7 L85.4 181.9 L85.4 184.0 L85.5 184.3 L85.5 187.7 L85.6 189.3 L85.6 187.5 L85.7 184.9 L85.7 183.4 L85.8 186.6 L85.8 186.1 L85.8 190.7 L85.9 188.6 L85.9 189.4 L86.0 191.3 L86.0 189.7 L86.1 188.9 L86.1 181.2 L86.2 184.0 L86.2 186.5 L86.3 189.1 L86.3 189.0 L86.4 187.8 L86.4 183.4 L86.5 188.1 L86.5 184.8 L86.6 185.7 L86.6 180.5 L86.7 182.3 L86.7 179.9 L86.7 183.7 L86.8 180.2 L86.8 180.9 L86.9 175.8 L86.9 175.9 L87.0 177.7 L87.0 179.1 L87.1 175.3 L87.1 172.9 L87.2 170.7 L87.2 177.1 L87.3 175.3 L87.3 174.9 L87.4 166.9 L87.4 169.0 L87.5 177.8 L87.5 179.8 L87.6 179.5 L87.6 184.2 L87.6 186.4 L87.7 190.6 L87.7 187.9 L87.8 191.8 L87.8 184.8 L87.9 182.3 L87.9 180.4 L88.0 179.9 L88.0 174.5 L88.1 177.0 L88.1 182.5 L88.2 192.2 L88.2 194.1 L88.3 191.0 L88.3 185.2 L88.4 183.9 L88.4 182.1 L88.5 185.2 L88.5 185.1 L88.5 186.0 L88.6 181.6 L88.6 179.5 L88.7 178.1 L88.7 181.2 L88.8 184.2 L88.8 186.6 L88.9 191.2 L88.9 189.8 L89.0 188.9 L89.0 181.2 L89.1 188.9 L89.1 190.5 L89.2 191.9 L89.2 190.2 L89.3 196.1 L89.3 194.7 L89.4 190.8 L89.4 181.3 L89.4 182.6 L89.5 185.3 L89.5 183.0 L89.6 190.2 L89.6 191.0 L89.7 191.8 L89.7 181.1 L89.8 175.0 L89.8 174.3 L89.9 175.7 L89.9 178.4 L90.0 180.0 L90.0 182.5 L90.1 182.0 L90.1 183.9 L90.2 175.6 L90.2 177.4 L90.3 179.2 L90.3 183.6 L90.3 179.0 L90.4 180.6 L90.4 175.5 L90.5 182.3 L90.5 183.4 L90.6 186.5 L90.6 183.1 L90.7 180.2 L90.7 182.9 L90.8 189.7 L90.8 189.4 L90.9 187.4 L90.9 190.1 L91.0 187.4 L91.0 184.2 L91.1 177.4 L91.1 183.6 L91.2 182.5 L91.2 185.2 L91.2 179.5 L91.3 186.0 L91.3 186.9 L91.4 189.6 L91.4 189.1 L91.5 185.0 L91.5 183.4 L91.6 185.1 L91.6 186.9 L91.7 188.6 L91.7 185.3 L91.8 187.5 L91.8 185.8 L91.9 187.0 L91.9 180.5 L92.0 172.7 L92.0 176.6 L92.1 183.4 L92.1 184.7 L92.1 185.5 L92.2 189.2 L92.2 193.1 L92.3 193.6 L92.3 193.5 L92.4 196.5 L92.4 202.1 L92.5 197.7 L92.5 196.7 L92.6 195.5 L92.6 195.5 L92.7 194.3 L92.7 194.2 L92.8 193.5 L92.8 196.1 L92.9 198.0 L92.9 200.3 L93.0 197.8 L93.0 197.4 L93.0 199.5 L93.1 200.1 L93.1 202.2 L93.2 198.2 L93.2 200.5 L93.3 200.3 L93.3 201.2 L93.4 198.2 L93.4 197.1 L93.5 197.4 L93.5 198.6 L93.6 197.7 L93.6 197.7 L93.7 199.9 L93.7 200.7 L93.8 200.6 L93.8 199.4 L93.9 200.5 L93.9 200.6 L93.9 200.5 L94.0 200.7 L94.0 201.0 L94.1 202.5 L94.1 202.0 L94.2 201.2 L94.2 201.0 L94.3 201.9 L94.3 202.1 L94.4 200.1 L94.4 202.3 L94.5 201.5 L94.5 201.8 L94.6 202.9 L94.6 203.7 L94.7 202.7 L94.7 203.1 L94.7 201.2 L94.8 203.4 L94.8 202.8 L94.9 201.6 L94.9 202.6 L95.0 202.0 L95.0 201.6 L95.1 204.6 L95.1 203.2 L95.2 203.9 L95.2 201.3 L95.3 203.1 L95.3 202.4 L95.4 201.1 L95.4 203.5 L95.5 203.0 L95.5 202.7 L95.6 203.5 L95.6 201.8 L95.6 202.3 L95.7 202.1 L95.7 203.3 L95.8 203.7 L95.8 204.5 L95.9 203.8 L95.9 205.3 L96.0 203.1 L96.0 202.6 L96.1 203.5 L96.1 204.1 L96.2 204.5 L96.2 203.4 L96.3 203.3 L96.3 201.6 L96.4 204.7 L96.4 203.3 L96.5 203.0 L96.5 203.7 L96.5 204.1 L96.6 205.1 L96.6 204.6 L96.7 203.1 L96.7 202.3 L96.8 204.9 L96.8 203.5 L96.9 203.5 L96.9 203.0 L97.0 203.9 L97.0 204.1 L97.1 203.2 L97.1 204.1 L97.2 204.2 L97.2 206.3 L97.3 206.6 L97.3 205.3 L97.4 206.1 L97.4 203.8 L97.4 203.9 L97.5 204.8 L97.5 204.7 L97.6 204.8 L97.6 204.9 L97.7 204.3 L97.7 204.2 L97.8 205.2 L97.8 205.6 L97.9 205.3 L97.9 203.9 L98.0 205.3 L98.0 203.2 L98.1 205.1 L98.1 203.3 L98.2 203.9 L98.2 205.8 L98.3 204.5 L98.3 204.5 L98.3 205.2 L98.4 202.8 L98.4 205.0 L98.5 204.8 L98.5 205.8 L98.6 203.3 L98.6 204.3 L98.7 204.8 L98.7 206.3 L98.8 204.9 L98.8 206.0 L98.9 204.9 L98.9 204.3 L99.0 206.3 L99.0 205.2 L99.1 204.4 L99.1 205.3 L99.2 205.9 L99.2 206.7 L99.2 206.3 L99.3 207.0 L99.3 204.4 L99.4 205.5 L99.4 207.0 L99.5 205.6 L99.5 207.1 L99.6 209.8 L99.6 204.3 L99.7 204.4 L99.7 207.4 L99.8 206.6 L99.8 205.5 L99.9 206.2 L99.9 206.8 L100.0 206.4 L100.0 206.1 L100.1 206.7 L100.1 205.7 L100.1 206.2 L100.2 206.8 L100.2 205.9 L100.3 207.8 L100.3 204.4 L100.4 208.0 L100.4 206.1 L100.5 209.2 L100.5 205.6 L100.6 205.8 L100.6 204.7 L100.7 207.1 L100.7 206.2 L100.8 205.8 L100.8 206.8 L100.9 206.9 L100.9 204.8 L101.0 207.1 L101.0 206.8 L101.0 206.6 L101.1 206.6 L101.1 206.2 L101.2 206.6 L101.2 206.0 L101.3 206.3 L101.3 205.9 L101.4 204.9 L101.4 207.4 L101.5 204.6 L101.5 207.0 L101.6 205.8 L101.6 206.4 L101.7 206.9 L101.7 208.8 L101.8 204.8 L101.8 207.5 L101.9 207.5 L101.9 205.5 L101.9 206.6 L102.0 204.6 L102.0 204.8 L102.1 205.9 L102.1 206.5 L102.2 205.9 L102.2 208.3 L102.3 206.6 L102.3 206.7 L102.4 207.4 L102.4 206.6 L102.5 208.4 L102.5 205.2 L102.6 205.5 L102.6 209.0 L102.7 206.8 L102.7 205.3 L102.8 206.6 L102.8 208.2 L102.8 208.2 L102.9 206.1 L102.9 205.0 L103.0 210.5 L103.0 206.1 L103.1 207.7 L103.1 207.5 L103.2 206.9 L103.2 207.3 L103.3 208.0 L103.3 204.9 L103.4 207.5 L103.4 207.5 L103.5 206.3 L103.5 207.3 L103.6 207.6 L103.6 206.3 L103.7 208.5 L103.7 207.7 L103.7 206.2 L103.8 206.7 L103.8 207.6 L103.9 207.4 L103.9 209.4 L104.0 211.8 L104.0 207.1 L104.1 206.5 L104.1 207.3 L104.2 207.9 L104.2 208.5 L104.3 207.6 L104.3 207.4 L104.4 206.3 L104.4 207.6 L104.5 208.1 L104.5 207.7 L104.6 208.1 L104.6 209.1 L104.6 210.1 L104.7 209.4 L104.7 209.0 L104.8 207.1 L104.8 207.8 L104.9 207.5 L104.9 206.4 L105.0 208.9 L105.0 206.4 L105.1 207.3 L105.1 208.5 L105.2 206.1 L105.2 209.4 L105.3 209.0 L105.3 208.0 L105.4 207.4 L105.4 208.0 L105.5 210.2 L105.5 208.2 L105.5 207.9 L105.6 205.0 L105.6 206.4 L105.7 207.8 L105.7 209.1 L105.8 207.8 L105.8 209.2 L105.9 207.7 L105.9 207.5 L106.0 208.4 L106.0 207.7 L106.1 207.7 L106.1 208.6 L106.2 206.3 L106.2 207.4 L106.3 208.4 L106.3 208.9 L106.4 207.9 L106.4 207.4 L106.4 207.1 L106.5 206.5 L106.5 207.4 L106.6 209.4 L106.6 205.9 L106.7 206.9 L106.7 207.2 L106.8 206.7 L106.8 209.8 L106.9 208.6 L106.9 208.4 L107.0 206.9 L107.0 209.5 L107.1 208.6 L107.1 206.4 L107.2 207.5 L107.2 208.7 L107.3 206.2 L107.3 209.7 L107.3 207.8 L107.4 208.6 L107.4 207.8 L107.5 208.7 L107.5 209.3 L107.6 208.1 L107.6 209.9 L107.7 207.8 L107.7 208.8 L107.8 207.4 L107.8 208.9 L107.9 209.2 L107.9 208.0 L108.0 207.1 L108.0 210.8 L108.1 208.4 L108.1 207.8 L108.1 210.1 L108.2 209.5 L108.2 207.8 L108.3 209.5 L108.3 209.3 L108.4 206.6 L108.4 209.6 L108.5 209.5 L108.5 211.1 L108.6 209.8 L108.6 209.9 L108.7 206.7 L108.7 207.2 L108.8 210.0 L108.8 206.4 L108.9 207.7 L108.9 208.8 L109.0 207.7 L109.0 208.2 L109.0 209.5 L109.1 210.6 L109.1 209.6 L109.2 208.6 L109.2 209.0 L109.3 209.1 L109.3 207.5 L109.4 209.8 L109.4 207.6 L109.5 209.2 L109.5 208.5 L109.6 209.9 L109.6 208.7 L109.7 209.5 L109.7 210.6 L109.8 208.7 L109.8 208.7 L109.9 207.8 L109.9 209.8 L109.9 209.8 L110.0 209.4 L110.0 211.5 L110.1 209.9 L110.1 207.3 L110.2 207.0 L110.2 207.9 L110.3 208.4 L110.3 208.1 L110.4 208.2 L110.4 210.7 L110.5 209.7 L110.5 207.4 L110.6 207.4 L110.6 208.5 L110.7 209.1 L110.7 209.2 L110.8 209.4 L110.8 209.8 L110.8 210.9 L110.9 208.6 L110.9 209.3 L111.0 209.0 L111.0 206.9 L111.1 208.1 L111.1 209.6 L111.2 208.1 L111.2 210.1 L111.3 207.6 L111.3 208.5 L111.4 208.7 L111.4 208.2 L111.5 207.2 L111.5 209.3 L111.6 209.9 L111.6 206.5 L111.7 208.8 L111.7 207.2 L111.7 209.6 L111.8 208.4 L111.8 209.6 L111.9 207.3 L111.9 209.2 L112.0 209.6 L112.0 207.1 L112.1 208.5 L112.1 211.1 L112.2 209.1 L112.2 209.9 L112.3 211.0 L112.3 209.5 L112.4 209.4 L112.4 208.9 L112.5 209.8 L112.5 211.0 L112.6 209.5 L112.6 209.1 L112.6 209.2 L112.7 208.2 L112.7 208.4 L112.8 209.4 L112.8 208.3 L112.9 209.5" stroke="#000000" stroke-width="1.25" stroke-dasharray="3 2.7"/>
<path d="M113.1 207.4 L113.1 211.4 L113.6 212.1 L113.6 207.1 L114.0 207.5 L114.0 210.9 L114.5 210.8 L114.5 205.4 L115.0 208.4 L115.0 212.1 L115.5 210.5 L115.5 207.8 L115.9 208.0 L115.9 209.3 L116.4 210.9 L116.4 206.0 L116.9 207.6 L116.9 210.7 L117.4 212.6 L117.4 207.9 L117.8 208.1 L117.8 211.1 L118.3 210.2 L118.3 206.6 L118.8 207.0 L118.8 210.6 L119.3 209.5 L119.3 208.1 L119.7 207.6 L119.7 211.5 L120.2 211.1 L120.2 208.3 L120.7 207.6 L120.7 211.2 L121.1 211.4 L121.1 207.3 L121.6 207.2 L121.6 211.2 L122.1 211.8 L122.1 207.6 L122.6 207.2 L122.6 211.7 L123.0 211.0 L123.0 207.2 L123.5 208.7 L123.5 211.2 L124.0 211.3 L124.0 209.2 L124.5 208.6 L124.5 211.7 L124.9 211.9 L124.9 207.4 L125.4 207.4 L125.4 212.5 L125.9 211.1 L125.9 207.8 L126.4 208.5 L126.4 211.2 L126.8 210.6 L126.8 208.4 L127.3 209.2 L127.3 211.6 L127.8 210.9 L127.8 208.4 L128.3 208.3 L128.3 211.1 L128.7 212.5 L128.7 208.3 L129.2 208.0 L129.2 212.1 L129.7 211.9 L129.7 207.6 L130.1 209.0 L130.1 211.3 L130.6 211.6 L130.6 208.5 L131.1 208.4 L131.1 210.8 L131.6 212.2 L131.6 209.4 L132.0 208.9 L132.0 211.3 L132.5 211.4 L132.5 207.0 L133.0 207.1 L133.0 211.2 L133.5 214.2 L133.5 208.8 L133.9 207.9 L133.9 214.9 L134.4 212.5 L134.4 207.9 L134.9 209.8 L134.9 212.2 L135.4 212.2 L135.4 209.4 L135.8 207.2 L135.8 211.8 L136.3 212.7 L136.3 208.2 L136.8 209.4 L136.8 212.3 L137.2 211.3 L137.2 209.5 L137.7 207.5 L137.7 212.0 L138.2 211.6 L138.2 208.6 L138.7 208.3 L138.7 212.4 L139.1 213.0 L139.1 208.1 L139.6 209.5 L139.6 213.1 L140.1 212.1 L140.1 207.9 L140.6 208.2 L140.6 212.9 L141.0 212.3 L141.0 209.3 L141.5 208.5 L141.5 211.6 L142.0 211.7 L142.0 208.5 L142.5 207.7 L142.5 210.9 L142.9 211.3 L142.9 209.2 L143.4 208.2 L143.4 212.0 L143.9 213.2 L143.9 208.4 L144.3 208.4 L144.3 213.1 L144.8 213.6 L144.8 209.2 L145.3 208.3 L145.3 213.5 L145.8 212.9 L145.8 209.2 L146.2 208.7 L146.2 212.4 L146.7 211.6 L146.7 208.6 L147.2 208.0 L147.2 212.4 L147.7 212.0 L147.7 209.1 L148.1 209.4 L148.1 212.4 L148.6 212.7 L148.6 207.7 L149.1 208.1 L149.1 212.4 L149.6 213.1 L149.6 209.2 L150.0 207.8 L150.0 212.3 L150.5 212.5 L150.5 209.2 L151.0 209.4 L151.0 212.9 L151.5 213.2 L151.5 207.8 L151.9 209.3 L151.9 212.7 L152.4 213.0 L152.4 208.1 L152.9 208.4 L152.9 211.2 L153.3 213.0 L153.3 208.2 L153.8 208.3 L153.8 214.2 L154.3 212.4 L154.3 209.9 L154.8 208.1 L154.8 212.2 L155.2 214.2 L155.2 207.3 L155.7 207.5 L155.7 213.3 L156.2 212.4 L156.2 209.1 L156.7 209.1 L156.7 211.8 L157.1 212.6 L157.1 209.2 L157.6 208.1 L157.6 214.5 L158.1 213.2 L158.1 208.4 L158.6 210.1 L158.6 212.3 L159.0 212.5 L159.0 208.8 L159.5 209.0 L159.5 213.2 L160.0 212.1 L160.0 208.4 L160.4 209.5 L160.4 211.7 L160.9 212.6 L160.9 208.9 L161.4 207.8 L161.4 212.3 L161.9 212.2 L161.9 209.1 L162.3 209.6 L162.3 212.6 L162.8 213.8 L162.8 209.5 L163.3 209.3 L163.3 211.8 L163.8 212.0 L163.8 208.7 L164.2 207.9 L164.2 214.1 L164.7 212.2 L164.7 209.4 L165.2 208.5 L165.2 211.8 L165.7 212.1 L165.7 209.1 L166.1 209.6 L166.1 212.4 L166.6 213.3 L166.6 208.7 L167.1 208.3 L167.1 213.1 L167.6 211.9 L167.6 208.3 L168.0 208.5 L168.0 213.0 L168.5 212.1 L168.5 209.1 L169.0 209.7 L169.0 213.0 L169.4 212.4 L169.4 209.4 L169.9 208.5 L169.9 212.1 L170.4 212.2 L170.4 209.7 L170.9 209.3 L170.9 213.5 L171.3 211.9 L171.3 208.6 L171.8 208.6 L171.8 212.8 L172.3 211.7 L172.3 209.2 L172.8 209.7 L172.8 213.1 L173.2 213.0 L173.2 208.2 L173.7 208.4 L173.7 212.4 L174.2 212.7 L174.2 209.6 L174.7 209.0 L174.7 212.3 L175.1 213.2 L175.1 209.6 L175.6 209.4 L175.6 212.3 L176.1 212.5 L176.1 209.3 L176.5 209.3 L176.5 212.8 L177.0 213.8 L177.0 208.6 L177.5 209.3 L177.5 211.8 L178.0 211.7 L178.0 208.8 L178.4 208.9 L178.4 212.4 L178.9 213.5 L178.9 210.5 L179.4 210.0 L179.4 212.7 L179.9 212.0 L179.9 207.6 L180.3 207.6 L180.3 213.5 L180.8 213.0 L180.8 209.7 L181.3 208.7 L181.3 212.2 L181.8 211.6 L181.8 209.3 L182.2 209.0 L182.2 211.8 L182.7 212.8 L182.7 209.7 L183.2 210.0 L183.2 213.3 L183.6 213.1 L183.6 209.1 L184.1 208.8 L184.1 212.2 L184.6 213.1 L184.6 208.2 L185.1 208.6 L185.1 212.2 L185.5 212.9 L185.5 209.4 L186.0 208.9 L186.0 212.2 L186.5 212.2 L186.5 209.1 L187.0 209.1 L187.0 212.5 L187.4 212.6 L187.4 209.7 L187.9 209.9 L187.9 212.5 L188.4 212.4 L188.4 210.0 L188.9 208.8 L188.9 213.7 L189.3 214.5 L189.3 208.9 L189.8 209.1 L189.8 212.6 L190.3 212.1 L190.3 209.8 L190.8 210.1 L190.8 212.6 L191.2 211.9 L191.2 209.0 L191.7 208.2 L191.7 212.6 L192.2 211.4 L192.2 209.8 L192.6 208.8 L192.6 212.6 L193.1 213.0 L193.1 209.7 L193.6 209.3 L193.6 214.3 L194.1 212.9 L194.1 208.7 L194.5 208.9 L194.5 212.8 L195.0 212.5 L195.0 210.0 L195.5 208.9 L195.5 213.4 L196.0 212.9 L196.0 209.1 L196.4 208.1 L196.4 212.0 L196.9 213.6 L196.9 209.4 L197.4 209.8 L197.4 213.9 L197.9 213.3 L197.9 210.3 L198.3 209.8 L198.3 212.2 L198.8 213.4 L198.8 210.0 L199.3 209.7 L199.3 212.2 L199.7 213.9 L199.7 210.6 L200.2 209.0 L200.2 211.8 L200.7 213.5 L200.7 208.2 L201.2 210.7 L201.2 214.0 L201.6 215.5 L201.6 209.6 L202.1 209.8 L202.1 212.8 L202.6 213.2 L202.6 209.9 L203.1 209.5 L203.1 212.6 L203.5 213.5 L203.5 209.8 L204.0 210.5 L204.0 213.2 L204.5 215.0 L204.5 210.0 L205.0 209.3 L205.0 212.3 L205.4 212.5 L205.4 208.2 L205.9 210.1 L205.9 213.0 L206.4 211.9 L206.4 209.3 L206.9 209.8 L206.9 212.0 L207.3 212.9 L207.3 208.8 L207.8 209.7 L207.8 212.6 L208.3 212.2 L208.3 208.9 L208.7 210.4 L208.7 213.7 L209.2 214.1 L209.2 210.7 L209.7 209.9 L209.7 212.9 L210.2 212.9 L210.2 209.1 L210.6 210.4 L210.6 212.7 L211.1 213.7 L211.1 209.7 L211.6 209.0 L211.6 214.4 L212.1 214.6 L212.1 210.2 L212.5 209.3 L212.5 213.0 L213.0 213.1 L213.0 210.5 L213.5 209.8 L213.5 213.0 L214.0 212.6 L214.0 209.8 L214.4 209.9 L214.4 213.8 L214.9 214.2 L214.9 208.1 L215.4 209.4 L215.4 212.8 L215.8 212.7 L215.8 210.3 L216.3 210.6 L216.3 212.3 L216.8 212.4 L216.8 209.4 L217.3 210.9 L217.3 212.5 L217.7 215.0 L217.7 210.1 L218.2 211.3 L218.2 213.1 L218.7 215.0 L218.7 209.6 L219.2 209.0 L219.2 212.6 L219.6 212.8 L219.6 208.8 L220.1 209.9 L220.1 213.4 L220.6 212.8 L220.6 209.1 L221.1 209.7 L221.1 212.7 L221.5 213.0 L221.5 210.1 L222.0 210.1 L222.0 214.4 L222.5 215.2 L222.5 210.5 L223.0 209.9 L223.0 214.0 L223.4 213.6 L223.4 210.1 L223.9 209.4 L223.9 213.8 L224.4 212.8 L224.4 210.0 L224.8 209.4 L224.8 213.4 L225.3 213.2 L225.3 209.9 L225.8 208.6 L225.8 213.1 L226.3 213.3 L226.3 210.2 L226.7 210.7 L226.7 213.8 L227.2 212.5 L227.2 210.5 L227.7 210.5 L227.7 213.6 L228.2 213.1 L228.2 209.7 L228.6 209.4 L228.6 213.1 L229.1 214.0 L229.1 210.9 L229.6 210.3 L229.6 213.5 L230.1 214.6 L230.1 210.7 L230.5 210.2 L230.5 211.7 L231.0 214.8 L231.0 209.6 L231.5 209.2 L231.5 213.1 L231.9 212.2 L231.9 209.6 L232.4 210.5 L232.4 212.2 L232.9 212.3 L232.9 210.4 L233.4 209.5 L233.4 213.4 L233.8 213.6 L233.8 210.0 L234.3 209.6 L234.3 212.3 L234.8 213.4 L234.8 209.6 L235.3 210.5 L235.3 212.7 L235.7 213.5 L235.7 209.6 L236.2 209.2 L236.2 213.7 L236.7 214.6 L236.7 210.5 L237.2 210.3 L237.2 212.6 L237.6 213.8 L237.6 209.0 L238.1 209.9 L238.1 212.9 L238.6 213.4 L238.6 209.7 L239.0 210.0 L239.0 213.1 L239.5 213.9 L239.5 210.3 L240.0 210.0 L240.0 213.3 L240.5 212.9 L240.5 209.9 L240.9 210.4 L240.9 215.6 L241.4 213.3 L241.4 211.4 L241.9 210.2 L241.9 213.1 L242.4 214.4 L242.4 210.3 L242.8 210.0 L242.8 212.8 L243.3 212.7 L243.3 210.4 L243.8 209.2 L243.8 213.3 L244.3 212.8 L244.3 210.7 L244.7 210.4 L244.7 213.3 L245.2 212.0 L245.2 209.9 L245.7 209.7 L245.7 214.0 L246.2 212.5 L246.2 208.5 L246.6 210.4 L246.6 213.7 L247.1 213.1 L247.1 210.5 L247.6 210.0 L247.6 214.8 L248.0 213.1 L248.0 209.2 L248.5 209.2 L248.5 213.9 L249.0 213.6 L249.0 210.6 L249.5 209.4 L249.5 214.0 L249.9 212.5 L249.9 210.4 L250.4 210.5 L250.4 213.8 L250.9 212.6 L250.9 210.0 L251.4 210.1 L251.4 213.3 L251.8 214.8 L251.8 210.7 L252.3 209.6 L252.3 213.4 L252.8 214.1 L252.8 210.8 L253.3 209.4 L253.3 213.0 L253.7 213.7 L253.7 208.9 L254.2 211.2 L254.2 213.1 L254.7 213.1 L254.7 210.5 L255.1 210.8 L255.1 212.9 L255.6 212.7 L255.6 210.0 L256.1 210.9 L256.1 214.0 L256.6 214.8 L256.6 208.9 L257.0 208.7 L257.0 213.7 L257.5 213.3 L257.5 210.7 L258.0 209.2 L258.0 213.3 L258.5 213.3 L258.5 210.0 L258.9 210.4 L258.9 213.2 L259.4 213.2 L259.4 210.6 L259.9 211.1 L259.9 213.8 L260.4 212.5 L260.4 209.6 L260.8 209.9 L260.8 215.4 L261.3 214.0 L261.3 211.0 L261.8 209.1 L261.8 212.5 L262.3 212.8 L262.3 209.8 L262.7 209.0 L262.7 213.4 L263.2 213.7 L263.2 210.1 L263.7 210.7 L263.7 213.8 L264.1 213.1 L264.1 210.4 L264.6 210.4 L264.6 214.3 L265.1 213.3 L265.1 210.3 L265.6 209.4 L265.6 215.7 L266.0 212.5 L266.0 210.6 L266.5 211.0 L266.5 213.9 L267.0 213.1 L267.0 209.7 L267.5 209.9 L267.5 213.2 L267.9 213.0 L267.9 210.4 L268.4 209.9 L268.4 212.9 L268.9 212.9 L268.9 210.4 L269.4 210.2 L269.4 214.4 L269.8 213.5 L269.8 209.6 L270.3 210.6 L270.3 213.9 L270.8 213.1 L270.8 209.6 L271.2 209.8 L271.2 214.2 L271.7 213.6 L271.7 211.0 L272.2 210.3 L272.2 216.3 L272.7 213.7 L272.7 209.4 L273.1 209.4 L273.1 213.3 L273.6 213.2 L273.6 209.1 L274.1 211.0 L274.1 214.1 L274.6 213.2 L274.6 209.7 L275.0 210.1 L275.0 215.3 L275.5 213.2 L275.5 211.2 L276.0 211.0 L276.0 213.4 L276.5 215.0 L276.5 211.1 L276.9 210.4 L276.9 214.4 L277.4 214.1 L277.4 210.6 L277.9 209.4 L277.9 213.8 L278.3 215.1 L278.3 209.4 L278.8 210.9 L278.8 213.0 L279.3 213.7 L279.3 210.8 L279.8 209.7 L279.8 214.9 L280.2 213.6 L280.2 211.1 L280.7 210.1 L280.7 214.3 L281.2 213.2 L281.2 210.3 L281.7 210.8 L281.7 215.1 L282.1 214.1 L282.1 210.2 L282.6 210.3 L282.6 213.5 L283.1 213.3 L283.1 210.5 L283.6 209.7 L283.6 215.3 L284.0 213.5 L284.0 209.7 L284.5 210.2 L284.5 214.3 L285.0 213.0 L285.0 210.2 L285.5 211.3 L285.5 213.6 L285.9 213.0 L285.9 210.4 L286.4 211.3 L286.4 212.9 L286.9 213.1 L286.9 210.0 L287.3 210.1 L287.3 213.6 L287.8 213.3 L287.8 210.0 L288.3 209.7 L288.3 215.3 L288.8 213.9 L288.8 209.3 L289.2 211.7 L289.2 213.4 L289.7 213.2 L289.7 209.9 L290.2 208.4 L290.2 214.2 L290.7 215.3 L290.7 210.5 L291.1 210.0 L291.1 214.0 L291.6 213.1 L291.6 209.6 L292.1 210.1 L292.1 214.0 L292.6 213.8 L292.6 210.7 L293.0 209.4 L293.0 214.0 L293.5 214.5 L293.5 209.9 L294.0 209.8 L294.0 212.5 L294.4 213.2 L294.4 209.8 L294.9 210.0 L294.9 214.0 L295.4 213.6 L295.4 210.1 L295.9 208.6 L295.9 215.0 L296.3 214.3 L296.3 210.2 L296.8 209.6 L296.8 213.4 L297.3 215.2 L297.3 210.7 L297.8 211.3 L297.8 215.4 L298.2 213.0 L298.2 211.0 L298.7 210.7 L298.7 213.3 L299.2 213.3 L299.2 209.5 L299.7 210.5 L299.7 213.4 L300.1 212.6 L300.1 210.2 L300.6 210.3 L300.6 212.9 L301.1 214.6 L301.1 210.9 L301.6 210.8 L301.6 215.2 L302.0 212.9 L302.0 210.6 L302.5 210.1 L302.5 213.1 L303.0 213.9 L303.0 210.1 L303.4 211.1 L303.4 214.2 L303.9 214.4 L303.9 210.6 L304.4 210.5 L304.4 214.1 L304.9 213.5 L304.9 209.4 L305.3 210.4 L305.3 213.7 L305.8 214.8 L305.8 209.2 L306.3 209.2 L306.3 214.1 L306.8 214.1 L306.8 210.6 L307.2 209.8 L307.2 214.7 L307.7 213.6 L307.7 209.4 L308.2 210.1 L308.2 213.4 L308.7 213.5 L308.7 210.2 L309.1 210.3 L309.1 214.7 L309.6 213.4 L309.6 211.7 L310.1 211.1 L310.1 214.7 L310.5 214.2 L310.5 209.0 L311.0 211.3 L311.0 213.9 L311.5 214.1 L311.5 209.5 L312.0 209.9 L312.0 214.4 L312.4 213.1 L312.4 209.1 L312.9 209.3 L312.9 213.3 L313.4 213.0 L313.4 210.5 L313.9 210.4 L313.9 213.7 L314.3 212.9 L314.3 209.2 L314.8 210.1 L314.8 213.5 L315.3 213.2 L315.3 211.0 L315.8 209.8 L315.8 213.1 L316.2 214.2 L316.2 210.7 L316.7 211.3 L316.7 214.8 L317.2 213.4 L317.2 210.5 L317.7 211.0 L317.7 213.3 L318.1 215.1 L318.1 210.8 L318.6 210.5 L318.6 213.7 L319.1 214.7 L319.1 210.3 L319.5 210.6 L319.5 213.4 L320.0 214.6 L320.0 209.3 L320.5 210.9 L320.5 214.1 L321.0 214.4 L321.0 209.9 L321.4 208.8 L321.4 213.8 L321.9 213.1 L321.9 210.3 L322.4 210.9 L322.4 213.5 L322.9 213.9 L322.9 210.5 L323.3 210.7 L323.3 214.1 L323.8 213.4 L323.8 210.0 L324.3 210.9 L324.3 213.0 L324.8 214.4 L324.8 208.8 L325.2 210.5 L325.2 213.6 L325.7 213.5 L325.7 211.9 L326.2 210.7 L326.2 212.5 L326.6 212.6 L326.6 210.0 L327.1 209.8 L327.1 212.6 L327.6 214.2 L327.6 209.4 L328.1 210.9 L328.1 214.0 L328.5 213.2 L328.5 210.4 L329.0 210.6 L329.0 215.5 L329.5 213.7 L329.5 210.6 L330.0 210.2 L330.0 213.6 L330.4 212.5 L330.4 211.1 L330.9 209.3 L330.9 216.1 L331.4 213.8 L331.4 210.9 L331.9 209.8 L331.9 213.5 L332.3 213.5 L332.3 210.9 L332.8 208.6 L332.8 214.2 L333.3 214.9 L333.3 210.7 L333.7 209.1 L333.7 213.1 L334.2 214.0 L334.2 210.8 L334.7 210.3 L334.7 215.9 L335.2 213.0 L335.2 210.9 L335.6 211.0 L335.6 213.5 L336.1 214.0 L336.1 209.6 L336.6 209.8 L336.6 215.0 L337.1 213.1 L337.1 210.7 L337.5 208.5 L337.5 214.9 L338.0 213.5 L338.0 210.8 L338.5 211.2 L338.5 214.1 L339.0 214.5 L339.0 210.4 L339.4 211.5 L339.4 214.4 L339.9 215.0 L339.9 210.9 L340.4 211.5 L340.4 214.2 L340.9 214.5 L340.9 209.9 L341.3 209.8 L341.3 214.5 L341.8 215.1 L341.8 211.2 L342.3 210.0 L342.3 215.0 L342.7 214.7 L342.7 210.5 L343.2 211.0 L343.2 213.4 L343.7 214.0 L343.7 211.1 L344.2 210.7 L344.2 213.8 L344.6 213.9 L344.6 210.8 L345.1 209.9 L345.1 213.8 L345.6 214.9 L345.6 210.5 L346.1 211.1 L346.1 214.6 L346.5 214.8 L346.5 209.3 L347.0 210.8 L347.0 214.3 L347.5 213.7 L347.5 210.5 L348.0 211.3 L348.0 214.8 L348.4 213.4 L348.4 210.8 L348.9 210.1 L348.9 214.2 L349.4 214.6 L349.4 210.7 L349.8 211.4 L349.8 213.6 L350.3 213.4 L350.3 210.6 L350.8 209.6 L350.8 213.7 L351.3 213.3 L351.3 210.2 L351.7 210.1 L351.7 213.0 L352.2 214.3 L352.2 211.2 L352.7 210.0 L352.7 213.5 L353.2 215.6 L353.2 209.7 L353.6 211.4 L353.6 214.8 L354.1 214.3 L354.1 210.8 L354.6 211.8 L354.6 213.7 L355.1 214.1 L355.1 210.9 L355.5 210.9 L355.5 214.7 L356.0 213.9 L356.0 211.4 L356.5 209.8 L356.5 213.5 L357.0 213.5 L357.0 210.2 L357.4 210.3 L357.4 216.3 L357.9 215.0 L357.9 210.4 L358.4 210.5 L358.4 213.2 L358.8 213.9 L358.8 210.7 L359.3 210.3 L359.3 215.1 L359.8 214.3 L359.8 209.1 L360.3 210.8 L360.3 213.8 L360.7 214.5 L360.7 209.5 L361.2 210.8 L361.2 214.3 L361.7 214.2 L361.7 209.7 L362.2 210.1 L362.2 212.7 L362.6 213.6 L362.6 211.1 L363.1 210.3 L363.1 216.2 L363.6 213.5 L363.6 211.2 L364.1 210.7 L364.1 213.4 L364.5 214.2 L364.5 211.2 L365.0 210.8 L365.0 213.9 L365.5 214.7 L365.5 210.0 L365.9 210.8 L365.9 212.9 L366.4 213.7 L366.4 210.7 L366.9 208.1 L366.9 213.1 L367.4 214.5 L367.4 210.6 L367.8 210.3 L367.8 214.4 L368.3 214.8 L368.3 211.7 L368.8 210.5 L368.8 213.6 L369.3 214.7 L369.3 210.6 L369.7 211.5 L369.7 213.6 L370.2 214.3 L370.2 210.9 L370.7 210.5 L370.7 214.3 L371.2 213.8 L371.2 209.8 L371.6 211.0 L371.6 213.5 L372.1 214.3 L372.1 211.1 L372.6 211.0 L372.6 214.1 L373.0 214.3 L373.0 211.4 L373.5 210.1 L373.5 213.8 L374.0 213.9 L374.0 210.5 L374.5 210.8 L374.5 214.4 L374.9 213.2 L374.9 210.9 L375.4 209.8 L375.4 214.1 L375.9 214.1 L375.9 210.4 L376.4 208.5 L376.4 214.0 L376.8 215.4 L376.8 211.1 L377.3 210.4 L377.3 213.5 L377.8 214.2 L377.8 210.3 L378.3 210.1 L378.3 214.6 L378.7 214.3 L378.7 210.7 L379.2 210.2 L379.2 214.8 L379.7 215.5 L379.7 210.9 L380.2 210.8 L380.2 213.9 L380.6 213.5 L380.6 210.6 L381.1 210.8 L381.1 213.8 L381.6 213.9 L381.6 210.2 L382.0 209.8 L382.0 213.2 L382.5 214.7 L382.5 210.9 L383.0 210.9 L383.0 213.8 L383.5 214.8 L383.5 210.7 L383.9 211.1 L383.9 213.1 L384.4 214.4 L384.4 210.5 L384.9 209.7 L384.9 214.7 L385.4 213.8 L385.4 210.4 L385.8 210.0 L385.8 212.1 L386.3 213.7 L386.3 211.1 L386.8 210.1 L386.8 214.8 L387.3 214.2 L387.3 210.5 L387.7 210.5 L387.7 213.1 L388.2 214.2 L388.2 210.3 L388.7 211.0 L388.7 214.0 L389.1 215.6 L389.1 210.4 L389.6 209.9 L389.6 213.6 L390.1 213.7 L390.1 210.7 L390.6 210.7 L390.6 214.1 L391.0 213.8 L391.0 209.9 L391.5 210.8 L391.5 214.4 L392.0 213.9 L392.0 211.2 L392.5 210.7 L392.5 214.2 L392.9 214.5 L392.9 211.0 L393.4 210.5 L393.4 215.2 L393.9 213.4 L393.9 210.7 L394.4 210.7 L394.4 214.7 L394.8 213.7 L394.8 212.2 L395.3 211.4 L395.3 214.5 L395.8 214.4 L395.8 211.6 L396.3 211.2 L396.3 213.3 L396.7 213.3 L396.7 210.3 L397.2 210.9 L397.2 213.4 L397.7 214.3 L397.7 210.8 L398.1 211.2 L398.1 213.4 L398.6 213.9 L398.6 210.9 L399.1 209.3 L399.1 213.7 L399.6 215.4 L399.6 211.5 L400.0 211.0 L400.0 213.6 L400.5 213.1 L400.5 211.0 L401.0 210.3 L401.0 213.6 L401.5 214.3 L401.5 211.0 L401.9 211.0 L401.9 215.1 L402.4 212.9 L402.4 210.3 L402.9 210.1 L402.9 213.6 L403.4 215.8 L403.4 210.6 L403.8 210.6 L403.8 214.3 L404.3 213.4 L404.3 210.4 L404.8 211.8 L404.8 214.1 L405.2 213.4 L405.2 211.4 L405.7 210.0 L405.7 213.3 L406.2 213.9 L406.2 211.0 L406.7 209.7 L406.7 214.6 L407.1 212.9 L407.1 211.5 L407.6 210.3 L407.6 214.0 L408.1 213.6 L408.1 210.6 L408.6 210.0 L408.6 214.8 L409.0 213.2 L409.0 210.9 L409.5 210.0 L409.5 213.9 L410.0 213.5 L410.0 210.7 L410.5 210.6 L410.5 216.1 L410.9 213.6 L410.9 211.4 L411.4 211.5 L411.4 214.0 L411.9 213.8 L411.9 210.9 L412.4 210.6 L412.4 213.1 L412.8 214.4 L412.8 212.3 L413.3 210.1 L413.3 214.9 L413.8 214.0 L413.8 210.8 L414.2 209.8 L414.2 213.3 L414.7 215.4 L414.7 209.5 L415.2 208.9 L415.2 215.3 L415.7 214.6 L415.7 210.4 L416.1 210.5 L416.1 213.3 L416.6 216.0 L416.6 211.0 L417.1 210.8 L417.1 213.8 L417.6 214.1 L417.6 211.2 L418.0 210.2 L418.0 215.4 L418.5 213.0 L418.5 210.4 L419.0 212.1 L419.0 214.1 L419.5 214.7 L419.5 210.7 L419.9 210.4 L419.9 214.2 L420.4 214.6 L420.4 211.2 L420.9 210.9 L420.9 215.8 L421.3 213.5 L421.3 210.8 L421.8 210.5 L421.8 213.9 L422.3 215.1 L422.3 211.1 L422.8 211.7 L422.8 213.6 L423.2 215.2 L423.2 210.4 L423.7 210.7 L423.7 213.9 L424.2 214.5 L424.2 211.0 L424.7 210.7 L424.7 214.2 L425.1 213.9 L425.1 210.5 L425.6 210.8 L425.6 215.1 L426.1 212.7 L426.1 210.2 L426.6 210.7 L426.6 214.3 L427.0 215.0 L427.0 210.8 L427.5 210.5 L427.5 213.7 L428.0 214.6 L428.0 210.5 L428.4 210.2 L428.4 214.4 L428.9 214.8 L428.9 210.5 L429.4 211.8 L429.4 214.9 L429.9 214.4 L429.9 210.9 L430.3 209.7 L430.3 213.6 L430.8 213.9 L430.8 209.7 L431.3 211.5 L431.3 213.9 L431.8 214.4 L431.8 210.9 L432.2 209.6 L432.2 214.5 L432.7 214.9 L432.7 210.6 L433.2 211.3 L433.2 214.8 L433.7 214.0 L433.7 211.8 L434.1 210.3 L434.1 214.7 L434.6 214.3 L434.6 210.8 L435.1 211.1 L435.1 213.2 L435.6 213.9 L435.6 210.0 L436.0 211.4 L436.0 214.5 L436.5 214.0 L436.5 210.6 L437.0 209.8 L437.0 214.6 L437.4 213.9 L437.4 208.7 L437.9 211.5 L437.9 213.5 L438.4 213.4 L438.4 211.1 L438.9 210.6 L438.9 214.6 L439.3 213.9 L439.3 211.2 L439.8 210.9 L439.8 213.9 L440.3 213.7 L440.3 211.1 L440.8 209.2 L440.8 213.2 L441.2 213.6 L441.2 210.5 L441.7 209.9 L441.7 214.2 L442.2 213.8 L442.2 210.0 L442.7 209.7 L442.7 215.4 L443.1 214.6 L443.1 210.7 L443.6 210.2 L443.6 215.0 L444.1 213.8 L444.1 211.2 L444.5 210.3 L444.5 213.8 L445.0 215.3 L445.0 211.3 L445.5 210.5 L445.5 213.5 L446.0 214.0 L446.0 210.6 L446.4 212.0 L446.4 213.7 L446.9 213.9 L446.9 210.4 L447.4 210.8 L447.4 214.0 L447.9 215.1 L447.9 211.2 L448.3 209.7 L448.3 215.7 L448.8 214.7 L448.8 211.5 L449.3 210.9 L449.3 214.8 L449.8 214.3 L449.8 211.1 L450.2 211.0 L450.2 213.2 L450.7 213.0 L450.7 210.6 L451.2 210.6 L451.2 215.1 L451.7 216.5 L451.7 211.4 L452.1 211.0 L452.1 213.7 L452.6 214.4 L452.6 211.1 L453.1 211.8 L453.1 214.6 L453.5 214.4 L453.5 211.0 L454.0 210.6 L454.0 215.4 L454.5 214.2 L454.5 210.9 L455.0 210.8 L455.0 214.5 L455.4 213.8 L455.4 211.4 L455.9 210.8 L455.9 213.5 L456.4 214.6 L456.4 210.4 L456.9 211.7 L456.9 215.0 L457.3 214.7 L457.3 211.1 L457.8 210.5 L457.8 214.5 L458.3 214.8 L458.3 210.5 L458.8 210.7 L458.8 214.9 L459.2 213.3 L459.2 210.7 L459.7 211.1 L459.7 214.8 L460.2 213.8 L460.2 209.9 L460.6 210.6 L460.6 213.3 L461.1 214.0 L461.1 210.4 L461.6 210.4 L461.6 213.9 L462.1 213.2 L462.1 210.4 L462.5 211.5 L462.5 215.1 L463.0 214.3 L463.0 211.6 L463.5 211.2 L463.5 213.6 L464.0 213.3 L464.0 211.2 L464.4 210.7 L464.4 214.8 L464.9 214.5 L464.9 209.4 L465.4 211.2 L465.4 213.8 L465.9 214.4 L465.9 209.5 L466.3 209.4 L466.3 216.1 L466.8 214.4 L466.8 210.8 L467.3 211.5 L467.3 213.6 L467.7 213.0 L467.7 210.3 L468.2 211.7 L468.2 214.8 L468.7 214.3 L468.7 211.7 L469.2 211.1 L469.2 215.4 L469.6 214.7 L469.6 211.4 L470.1 210.5 L470.1 215.2 L470.6 214.5 L470.6 210.4 L471.1 210.7 L471.1 214.2 L471.5 214.2 L471.5 210.6 L472.0 211.4 L472.0 213.8 L472.5 214.1 L472.5 210.8 L473.0 210.5 L473.0 213.3 L473.4 213.6 L473.4 210.8 L473.9 211.5 L473.9 213.9 L474.4 214.6 L474.4 211.3 L474.9 210.6 L474.9 214.4 L475.3 213.8 L475.3 211.1 L475.8 210.2 L475.8 215.2 L476.3 214.6 L476.3 212.3 L476.7 210.8 L476.7 214.0 L477.2 213.0 L477.2 211.0 L477.7 210.3 L477.7 215.5 L478.2 214.3 L478.2 210.1 L478.6 211.1 L478.6 214.3 L479.1 215.0 L479.1 210.5 L479.6 211.9 L479.6 213.8 L480.1 214.2 L480.1 210.2 L480.5 210.7 L480.5 212.9 L481.0 212.8 L481.0 209.5 L481.5 211.8 L481.5 213.6 L482.0 213.7 L482.0 210.6 L482.4 211.9 L482.4 214.4 L482.9 213.9 L482.9 209.0 L483.4 211.9 L483.4 214.3 L483.8 214.0 L483.8 210.4 L484.3 211.4 L484.3 214.4 L484.8 214.2 L484.8 210.7 L485.3 211.1 L485.3 214.1 L485.7 213.6 L485.7 210.8 L486.2 211.5 L486.2 215.4 L486.7 214.2 L486.7 211.5 L487.2 211.3 L487.2 213.9 L487.6 216.0 L487.6 211.5 L488.1 211.2 L488.1 213.5 L488.6 215.0 L488.6 210.6 L489.1 210.9 L489.1 214.0 L489.5 215.4 L489.5 210.6 L490.0 210.5 L490.0 215.0 L490.5 214.3 L490.5 211.9 L491.0 210.7 L491.0 215.6 L491.4 214.8 L491.4 209.9 L491.9 211.3 L491.9 214.5 L492.4 213.8 L492.4 210.6 L492.8 210.9 L492.8 214.7 L493.3 214.3 L493.3 210.5 L493.8 210.4 L493.8 213.5 L494.3 215.2 L494.3 209.0 L494.7 210.1 L494.7 214.9 L495.2 214.0 L495.2 210.6 L495.7 211.4 L495.7 214.7 L496.2 215.3 L496.2 210.6 L496.6 210.9 L496.6 214.8 L497.1 213.9 L497.1 211.7 L497.6 209.4 L497.6 213.6 L498.1 214.5 L498.1 211.5 L498.5 209.9 L498.5 213.7 L499.0 215.2 L499.0 209.1 L499.5 211.2 L499.5 214.0 L499.9 214.0 L499.9 211.3 L500.4 210.7 L500.4 214.7 L500.9 214.7 L500.9 211.3 L501.4 211.4 L501.4 215.4 L501.8 214.2 L501.8 209.4 L502.3 211.6 L502.3 215.0 L502.8 214.0 L502.8 210.6 L503.3 209.8 L503.3 213.8 L503.7 214.6 L503.7 210.6 L504.2 211.7 L504.2 213.7 L504.7 213.8 L504.7 210.2 L505.2 210.3 L505.2 213.8 L505.6 213.7 L505.6 210.0 L506.1 210.8 L506.1 214.5 L506.6 213.5 L506.6 210.8 L507.1 209.2 L507.1 213.9 L507.5 214.7 L507.5 211.2 L508.0 211.1 L508.0 214.2 L508.5 214.2 L508.5 211.1 L508.9 211.3 L508.9 213.5 L509.4 214.9 L509.4 210.8 L509.9 210.9 L509.9 213.2 L510.4 213.2 L510.4 210.3 L510.8 210.8 L510.8 214.4 L511.3 214.1 L511.3 209.3 L511.8 211.0 L511.8 214.4 L512.3 214.3 L512.3 210.2 L512.7 211.8 L512.7 214.7 L513.2 214.0 L513.2 210.6 L513.7 210.7 L513.7 213.8 L514.2 213.1 L514.2 210.2 L514.6 210.6 L514.6 214.4 L515.1 215.3 L515.1 210.2 L515.6 210.5 L515.6 215.2 L516.0 213.6 L516.0 209.2 L516.5 209.6 L516.5 214.0 L517.0 214.0 L517.0 212.4 L517.5 212.0 L517.5 215.5 L517.9 214.2 L517.9 211.8 L518.4 212.2 L518.4 214.2 L518.9 214.3 L518.9 211.6 L519.4 211.2 L519.4 214.3 L519.8 213.9 L519.8 211.6 L520.3 209.4 L520.3 214.5 L520.8 214.0 L520.8 211.2 L521.3 211.2 L521.3 213.4 L521.7 216.8 L521.7 210.8 L522.2 211.3 L522.2 215.5 L522.7 213.3 L522.7 210.8 L523.1 210.2 L523.1 214.8 L523.6 212.9 L523.6 209.7 L524.1 210.5 L524.1 214.4 L524.6 213.3 L524.6 210.7 L525.0 210.9 L525.0 214.4 L525.5 215.4 L525.5 211.9 L526.0 211.9 L526.0 213.7 L526.5 214.4 L526.5 209.9 L526.9 210.8 L526.9 215.0 L527.4 213.6 L527.4 210.8 L527.9 211.3 L527.9 214.6 L528.4 214.4 L528.4 210.6 L528.8 210.6 L528.8 215.7 L529.3 215.8 L529.3 211.4 L529.8 211.1 L529.8 215.8 L530.3 214.6 L530.3 211.3 L530.7 211.1 L530.7 214.3 L531.2 214.4 L531.2 210.5 L531.7 211.1 L531.7 215.6 L532.1 214.5 L532.1 209.8 L532.6 211.8 L532.6 213.9 L533.1 213.5 L533.1 211.2 L533.6 211.1 L533.6 215.1 L534.0 215.7 L534.0 211.2 L534.0 211.8 L534.0 211.8" stroke="#000000" stroke-width="1.0"/>
<path d="M517.7 202.2 V203.7 M517.7 206.3 V210" stroke="#000" stroke-width="1.0"/>
</g>
<path d="M60.80 8.9 H108.50 V250.4 H60.80 Z" fill="none" stroke="#c9677b" stroke-width="1.1"/>
<path d="M108.6 126.3 L143.5 127.5" stroke="#111" stroke-width="1.1" fill="none"/>
<path d="M146.6 127.6 L142.4 125.7 L142.3 129.4 Z" fill="#111"/>
<rect x="147.4" y="51.1" width="252.9" height="149.3" fill="#fff"/>
<g fill="none" stroke-width="1.25" stroke-linejoin="round">
<path d="M172.4 77.5 L172.6 78.8 L172.8 80.1 L173.1 81.2 L173.3 82.3 L173.5 83.2 L173.7 83.8 L174.0 84.2 L174.2 84.6 L174.4 84.9 L174.6 85.1 L174.9 85.4 L175.1 85.6 L175.3 85.8 L175.5 86.0 L175.7 86.2 L176.0 86.4 L176.2 86.6 L176.4 86.9 L176.6 87.1 L176.9 87.3 L177.1 87.5 L177.3 87.7 L177.5 87.9 L177.7 88.1 L178.0 88.3 L178.2 88.5 L178.4 88.7 L178.6 88.8 L178.9 89.0 L179.1 89.1 L179.3 89.2 L179.5 89.3 L179.8 89.4 L180.0 89.5 L180.2 89.6 L180.4 89.7 L180.6 89.7 L180.9 89.8 L181.1 89.9 L181.3 90.0 L181.5 89.9 L181.8 90.0 L182.0 90.1 L182.2 90.2 L182.4 90.3 L182.7 90.3 L182.9 90.4 L183.1 90.5 L183.3 90.5 L183.5 90.6 L183.8 90.7 L184.0 90.7 L184.2 90.8 L184.4 90.9 L184.7 90.9 L184.9 91.0 L185.1 91.1 L185.3 91.2 L185.6 91.2 L185.8 91.3 L186.0 91.4 L186.2 91.4 L186.4 91.5 L186.7 91.6 L186.9 91.6 L187.1 91.7 L187.3 91.8 L187.6 91.9 L187.8 91.9 L188.0 92.0 L188.2 92.1 L188.4 92.2 L188.7 92.2 L188.9 92.3 L189.1 92.4 L189.3 92.4 L189.6 92.5 L189.8 92.6 L190.0 92.7 L190.2 92.7 L190.5 92.8 L190.7 92.9 L190.9 92.9 L191.1 93.0 L191.3 93.1 L191.6 93.1 L191.8 93.2 L192.0 93.3 L192.2 93.3 L192.5 93.4 L192.7 93.5 L192.9 93.5 L193.1 93.6 L193.4 93.7 L193.6 93.7 L193.8 93.8 L194.0 93.8 L194.2 93.9 L194.5 93.9 L194.7 94.0 L194.9 94.1 L195.1 94.1 L195.4 94.2 L195.6 94.2 L195.8 94.3 L196.0 94.3 L196.3 94.4 L196.5 94.4 L196.7 94.5 L196.9 94.5 L197.1 94.6 L197.4 94.6 L197.6 94.7 L197.8 94.7 L198.0 94.7 L198.3 94.8 L198.5 94.8 L198.7 94.9 L198.9 94.9 L199.1 95.0 L199.4 95.0 L199.6 95.0 L199.8 95.1 L200.0 95.1 L200.3 95.2 L200.5 95.2 L200.7 95.3 L200.9 95.3 L201.2 95.3 L201.4 95.4 L201.6 95.4 L201.8 95.4 L202.0 95.5 L202.3 95.5 L202.5 95.6 L202.7 95.6 L202.9 95.6 L203.2 95.7 L203.4 95.7 L203.6 95.7 L203.8 95.8 L204.1 95.8 L204.3 95.9 L204.5 95.9 L204.7 95.9 L204.9 96.0 L205.2 96.0 L205.4 96.0 L205.6 96.1 L205.8 96.1 L206.1 96.1 L206.3 96.2 L206.5 96.2 L206.7 96.2 L206.9 96.2 L207.2 96.3 L207.4 96.3 L207.6 96.3 L207.8 96.4 L208.1 96.4 L208.3 96.4 L208.5 96.5 L208.7 96.5 L209.0 96.5 L209.2 96.5 L209.4 96.6 L209.6 96.6 L209.8 96.6 L210.1 96.7 L210.3 96.7 L210.5 96.7 L210.7 96.7 L211.0 96.8 L211.2 96.8 L211.4 96.8 L211.6 96.8 L211.9 96.9 L212.1 96.9 L212.3 96.9 L212.5 96.9 L212.7 97.0 L213.0 97.0 L213.2 97.0 L213.4 97.0 L213.6 97.0 L213.9 97.1 L214.1 97.1 L214.3 97.1 L214.5 97.1 L214.8 97.1 L215.0 97.2 L215.2 97.2 L215.4 97.2 L215.6 97.2 L215.9 97.3 L216.1 97.3 L216.3 97.3 L216.5 97.3 L216.8 97.3 L217.0 97.4 L217.2 97.4 L217.4 97.4 L217.6 97.4 L217.9 97.4 L218.1 97.5 L218.3 97.5 L218.5 97.5 L218.8 97.5 L219.0 97.5 L219.2 97.6 L219.4 97.6 L219.7 97.6 L219.9 97.6 L220.1 97.6 L220.3 97.7 L220.5 97.7 L220.8 97.7 L221.0 97.7 L221.2 97.7 L221.4 97.8 L221.7 97.8 L221.9 97.8 L222.1 97.8 L222.3 97.9 L222.6 97.9 L222.8 97.9 L223.0 97.9 L223.2 97.9 L223.4 98.0 L223.7 98.0 L223.9 98.0 L224.1 98.0 L224.3 98.1 L224.6 98.1 L224.8 98.1 L225.0 98.1 L225.2 98.2 L225.5 98.2 L225.7 98.2 L225.9 98.2 L226.1 98.3 L226.3 98.3 L226.6 98.3 L226.8 98.3 L227.0 98.4 L227.2 98.4 L227.5 98.4 L227.7 98.4 L227.9 98.5 L228.1 98.5 L228.3 98.5 L228.6 98.6 L228.8 98.6 L229.0 98.6 L229.2 98.6 L229.5 98.7 L229.7 98.7 L229.9 98.7 L230.1 98.8 L230.4 98.8 L230.6 98.8 L230.8 98.8 L231.0 98.9 L231.2 98.9 L231.5 98.9 L231.7 99.0 L231.9 99.0 L232.1 99.0 L232.4 99.0 L232.6 99.1 L232.8 99.1 L233.0 99.1 L233.3 99.2 L233.5 99.2 L233.7 99.2 L233.9 99.3 L234.1 99.3 L234.4 99.3 L234.6 99.4 L234.8 99.4 L235.0 99.4 L235.3 99.4 L235.5 99.5 L235.7 99.5 L235.9 99.5 L236.1 99.6 L236.4 99.6 L236.6 99.6 L236.8 99.7 L237.0 99.7 L237.3 99.7 L237.5 99.8 L237.7 99.8 L237.9 99.8 L238.2 99.9 L238.4 99.9 L238.6 100.0 L238.8 100.0 L239.0 100.0 L239.3 100.1 L239.5 100.1 L239.7 100.1 L239.9 100.2 L240.2 100.2 L240.4 100.2 L240.6 100.3 L240.8 100.3 L241.1 100.4 L241.3 100.4 L241.5 100.4 L241.7 100.5 L241.9 100.5 L242.2 100.6 L242.4 100.6 L242.6 100.6 L242.8 100.7 L243.1 100.7 L243.3 100.8 L243.5 100.8 L243.7 100.8 L244.0 100.9 L244.2 100.9 L244.4 101.0 L244.6 101.0 L244.8 101.1 L245.1 101.1 L245.3 101.2 L245.5 101.2 L245.7 101.2 L246.0 101.3 L246.2 101.3 L246.4 101.4 L246.6 101.4 L246.8 101.5 L247.1 101.5 L247.3 101.6 L247.5 101.6 L247.7 101.7 L248.0 101.7 L248.2 101.8 L248.4 101.8 L248.6 101.9 L248.9 102.0 L249.1 102.0 L249.3 102.1 L249.5 102.1 L249.7 102.2 L250.0 102.2 L250.2 102.3 L250.4 102.4 L250.6 102.4 L250.9 102.5 L251.1 102.5 L251.3 102.6 L251.5 102.7 L251.8 102.7 L252.0 102.8 L252.2 102.8 L252.4 102.9 L252.6 103.0 L252.9 103.0 L253.1 103.1 L253.3 103.2 L253.5 103.2 L253.8 103.3 L254.0 103.4 L254.2 103.4 L254.4 103.5 L254.7 103.6 L254.9 103.6 L255.1 103.7 L255.3 103.8 L255.5 103.9 L255.8 103.9 L256.0 104.0 L256.2 104.1 L256.4 104.2 L256.7 104.2 L256.9 104.3 L257.1 104.4 L257.3 104.5 L257.5 104.5 L257.8 104.6 L258.0 104.7 L258.2 104.8 L258.4 104.8 L258.7 104.9 L258.9 105.0 L259.1 105.1 L259.3 105.2 L259.6 105.3 L259.8 105.3 L260.0 105.4 L260.2 105.5 L260.4 105.6 L260.7 105.7 L260.9 105.8 L261.1 105.9 L261.3 106.0 L261.6 106.1 L261.8 106.2 L262.0 106.3 L262.2 106.4 L262.5 106.5 L262.7 106.6 L262.9 106.7 L263.1 106.8 L263.3 106.9 L263.6 107.0 L263.8 107.1 L264.0 107.2 L264.2 107.3 L264.5 107.4 L264.7 107.5 L264.9 107.6 L265.1 107.7 L265.3 107.8 L265.6 107.9 L265.8 108.1 L266.0 108.2 L266.2 108.3 L266.5 108.4 L266.7 108.5 L266.9 108.6 L267.1 108.7 L267.4 108.8 L267.6 109.0 L267.8 109.1 L268.0 109.2 L268.2 109.3 L268.5 109.4 L268.7 109.5 L268.9 109.6 L269.1 109.8 L269.4 109.9 L269.6 110.0 L269.8 110.1 L270.0 110.2 L270.3 110.3 L270.5 110.4 L270.7 110.6 L270.9 110.7 L271.1 110.8 L271.4 110.9 L271.6 111.0 L271.8 111.1 L272.0 111.2 L272.3 111.3 L272.5 111.5 L272.7 111.6 L272.9 111.7 L273.2 111.8 L273.4 111.9 L273.6 112.0 L273.8 112.1 L274.0 112.3 L274.3 112.4 L274.5 112.5 L274.7 112.6 L274.9 112.7 L275.2 112.9 L275.4 113.0 L275.6 113.1 L275.8 113.2 L276.0 113.4 L276.3 113.5 L276.5 113.6 L276.7 113.7 L276.9 113.9 L277.2 114.0 L277.4 114.1 L277.6 114.3 L277.8 114.4 L278.1 114.5 L278.3 114.7 L278.5 114.8 L278.7 115.0 L278.9 115.1 L279.2 115.3 L279.4 115.4 L279.6 115.6 L279.8 115.7 L280.1 115.9 L280.3 116.0 L280.5 116.2 L280.7 116.4 L281.0 116.5 L281.2 116.7 L281.4 116.9 L281.6 117.0 L281.8 117.2 L282.1 117.4 L282.3 117.6 L282.5 117.8 L282.7 118.0 L283.0 118.2 L283.2 118.4 L283.4 118.6 L283.6 118.8 L283.9 119.0 L284.1 119.2 L284.3 119.4 L284.5 119.6 L284.7 119.8 L285.0 120.0 L285.2 120.3 L285.4 120.5 L285.6 120.7 L285.9 120.9 L286.1 121.2 L286.3 121.4 L286.5 121.7 L286.7 121.9 L287.0 122.2 L287.2 122.4 L287.4 122.7 L287.6 123.0 L287.9 123.2 L288.1 123.5 L288.3 123.8 L288.5 124.1 L288.8 124.4 L289.0 124.7 L289.2 125.0 L289.4 125.3 L289.6 125.6 L289.9 125.9 L290.1 126.2 L290.3 126.6 L290.5 126.9 L290.8 127.2 L291.0 127.6 L291.2 127.9 L291.4 128.3 L291.7 128.7 L291.9 129.1 L292.1 129.4 L292.3 129.8 L292.5 130.2 L292.8 130.6 L293.0 131.0 L293.2 131.4 L293.4 131.8 L293.7 132.3 L293.9 132.7 L294.1 133.2 L294.3 133.7 L294.5 134.0 L294.8 134.6 L295.0 135.3 L295.2 136.1 L295.4 136.6 L295.7 137.3 L295.9 138.0 L296.1 138.8 L296.3 139.5 L296.6 140.2 L296.8 141.1 L297.0 142.1 L297.2 143.0 L297.4 143.9 L297.7 144.7 L297.9 145.8 L298.1 146.5 L298.3 147.6 L298.6 148.0 L298.8 148.7 L299.0 149.3 L299.2 150.3 L299.5 151.1 L299.7 152.1 L299.9 152.9 L300.1 153.7 L300.3 153.9 L300.6 154.3 L300.8 155.0 L301.0 156.7 L301.2 156.3 L301.5 156.7 L301.7 160.3 L301.9 161.8 L302.1 160.9 L302.4 157.7 L302.6 156.4 L302.8 154.7 L303.0 158.4 L303.2 159.5 L303.5 162.1 L303.7 158.5 L303.9 159.7 L304.1 160.0 L304.4 161.5 L304.6 159.1 L304.8 155.9 L305.0 158.3 L305.2 157.4 L305.5 160.1 L305.7 157.7 L305.9 158.8 L306.1 158.4 L306.4 158.3 L306.6 157.5 L306.8 155.9 L307.0 158.7 L307.3 159.5 L307.5 162.4 L307.7 161.5 L307.9 160.4 L308.1 158.3 L308.4 157.1 L308.6 158.8 L308.8 156.8 L309.0 157.2 L309.3 157.3 L309.5 161.4 L309.7 163.1 L309.9 162.1 L310.2 161.0 L310.4 156.5 L310.6 155.8 L310.8 154.0 L311.0 159.9 L311.3 162.1 L311.5 161.8 L311.7 157.3 L311.9 156.4 L312.2 157.8 L312.4 159.0 L312.6 156.9 L312.8 154.7 L313.0 156.7 L313.3 156.0 L313.5 159.0 L313.7 157.7 L313.9 156.2 L314.2 157.1 L314.4 157.6 L314.6 161.6 L314.8 161.0 L315.1 156.6 L315.3 155.7 L315.5 153.6 L315.7 153.9 L315.9 152.4 L316.2 156.9 L316.4 159.1 L316.6 159.7 L316.8 157.3 L317.1 154.2 L317.3 155.9 L317.5 157.2 L317.7 156.6 L318.0 156.3 L318.2 157.5 L318.4 159.3 L318.6 159.7 L318.8 162.5 L319.1 162.5 L319.3 163.8 L319.5 158.9 L319.7 159.1 L320.0 159.4 L320.2 160.1 L320.4 161.0 L320.6 159.6 L320.9 161.1 L321.1 161.7 L321.3 164.4 L321.5 163.5 L321.7 163.0 L322.0 161.5 L322.2 162.5 L322.4 163.3 L322.6 162.9 L322.9 164.3 L323.1 162.7 L323.3 163.5 L323.5 161.6 L323.7 161.7 L324.0 162.6 L324.2 164.1 L324.4 165.3 L324.6 165.5 L324.9 166.0 L325.1 166.8 L325.3 167.2 L325.5 167.0 L325.8 165.3 L326.0 165.5 L326.2 164.8 L326.4 164.7 L326.6 165.0 L326.9 165.2 L327.1 165.5 L327.3 165.3 L327.5 165.4 L327.8 165.7 L328.0 165.4 L328.2 165.7 L328.4 164.9 L328.7 165.1 L328.9 165.9 L329.1 165.9 L329.3 165.6 L329.5 165.8 L329.8 165.7 L330.0 165.3 L330.2 165.6 L330.4 166.4 L330.7 165.9 L330.9 165.6 L331.1 165.8 L331.3 165.7 L331.6 165.7 L331.8 165.7 L332.0 165.9 L332.2 166.5 L332.4 166.4 L332.7 166.3 L332.9 166.0 L333.1 166.4 L333.3 166.1 L333.6 167.0 L333.8 166.6 L334.0 166.2 L334.2 166.0 L334.4 166.5 L334.7 166.1 L334.9 166.6 L335.1 165.8 L335.3 166.2 L335.6 166.5 L335.8 166.4 L336.0 166.6 L336.2 166.4 L336.5 166.1 L336.7 166.2 L336.9 166.8 L337.1 166.8 L337.3 166.0 L337.6 165.9 L337.8 166.8 L338.0 166.5 L338.2 166.6 L338.5 166.2 L338.7 166.9 L338.9 166.9 L339.1 166.4 L339.4 166.7 L339.6 166.5 L339.8 167.1 L340.0 165.4 L340.2 167.2 L340.5 166.6 L340.7 165.9 L340.9 166.5 L341.1 167.5 L341.4 166.0 L341.6 167.5 L341.8 167.3 L342.0 166.7 L342.2 166.6 L342.5 167.6 L342.7 166.5 L342.9 166.6 L343.1 166.8 L343.4 167.2 L343.6 166.6 L343.8 167.3 L344.0 166.7 L344.3 167.3 L344.5 167.0 L344.7 166.9 L344.9 166.9 L345.1 166.6 L345.4 167.6 L345.6 166.3 L345.8 167.6 L346.0 167.4 L346.3 166.9 L346.5 167.3 L346.7 166.8 L346.9 167.1 L347.2 167.5 L347.4 167.3 L347.6 167.7 L347.8 167.2 L348.0 167.6 L348.3 167.0 L348.5 167.3 L348.7 167.0 L348.9 167.8 L349.2 166.5 L349.4 167.3 L349.6 166.6 L349.8 166.7 L350.1 167.4 L350.3 166.7 L350.5 167.1 L350.7 167.4 L350.9 168.1 L351.2 167.6 L351.4 167.4 L351.6 167.4 L351.8 167.2 L352.1 167.4 L352.3 167.1 L352.5 167.7 L352.7 167.5 L352.9 167.3 L353.2 168.0 L353.4 167.2 L353.6 167.3 L353.8 167.5 L354.1 167.4 L354.3 167.8 L354.5 167.4 L354.7 167.3 L355.0 168.1 L355.2 166.9 L355.4 167.7 L355.6 167.6 L355.8 167.2 L356.1 167.0 L356.3 167.6 L356.5 167.2 L356.7 167.3 L357.0 168.2 L357.2 167.9 L357.4 167.7 L357.6 167.7 L357.9 167.8 L358.1 168.4 L358.3 167.7 L358.5 167.2 L358.7 167.6 L359.0 167.7 L359.2 167.6 L359.4 168.1 L359.6 167.8 L359.9 167.5 L360.1 167.2 L360.3 167.9 L360.5 167.5 L360.8 167.7 L361.0 167.3 L361.2 168.3 L361.4 167.4 L361.6 167.6 L361.9 168.1 L362.1 168.1 L362.3 167.9 L362.5 168.3 L362.8 167.4 L363.0 167.8 L363.2 167.5 L363.4 167.8 L363.6 167.9 L363.9 168.3 L364.1 168.6 L364.3 167.7 L364.5 167.8 L364.8 168.2 L365.0 167.7 L365.2 167.7 L365.4 167.8 L365.7 167.7 L365.9 168.5 L366.1 168.0 L366.3 168.2 L366.5 168.0 L366.8 168.7 L367.0 168.1 L367.2 167.8 L367.4 168.8 L367.7 167.7 L367.9 168.2 L368.1 168.8 L368.3 168.5 L368.6 168.0 L368.8 167.7 L369.0 167.9 L369.2 168.9 L369.4 168.3 L369.7 168.5 L369.9 167.8 L370.1 168.3 L370.3 168.6 L370.6 167.8 L370.8 168.9 L371.0 168.6 L371.2 168.2 L371.4 168.5 L371.7 168.5 L371.9 167.7 L372.1 167.9 L372.3 168.0 L372.6 168.4 L372.8 168.8 L373.0 168.3 L373.2 168.6 L373.5 168.2 L373.7 168.2 L373.9 168.8 L374.1 169.6 L374.3 167.9 L374.6 168.4 L374.8 168.4 L375.0 167.9 L375.2 168.5 L375.5 168.4 L375.7 168.7 L375.9 169.0 L376.1 167.9 L376.4 168.5 L376.6 168.4 L376.8 168.4 L377.0 168.3 L377.2 167.5 L377.5 168.2 L377.7 168.6 L377.9 169.2 L378.1 168.6 L378.4 169.0 L378.6 168.1 L378.8 168.5 L379.0 168.1 L379.3 168.0 L379.5 168.5 L379.7 168.7 L379.9 168.5 L380.1 168.9 L380.4 168.5 L380.6 168.0 L380.8 169.3 L381.0 168.5 L381.3 168.8 L381.5 168.7 L381.7 169.5 L381.9 168.4 L382.1 168.4 L382.4 168.1 L382.6 168.7 L382.8 168.6 L383.0 168.7 L383.3 168.9 L383.5 168.8 L383.7 168.7 L383.9 168.0 L384.2 168.6 L384.4 169.0 L384.6 168.9 L384.8 167.9 L385.0 168.8 L385.3 168.3 L385.5 168.1 L385.7 168.1 L385.9 168.9 L386.2 168.6 L386.4 168.2 L386.6 169.6 L386.8 169.0 L387.1 168.9 L387.3 168.9 L387.5 168.4 L387.7 168.9 L387.9 168.9 L388.2 169.2 L388.4 168.9 L388.6 168.3 L388.8 169.1 L389.1 168.4 L389.3 168.1 L389.5 168.1 L389.7 168.4 L390.0 168.5 L390.2 169.3 L390.4 168.3 L390.6 168.4 L390.8 168.3 L391.1 168.5 L391.3 169.2 L391.5 168.8 L391.7 169.4 L392.0 168.3 L392.2 168.8 L392.4 168.7 L392.6 168.7 L392.8 168.4 L393.1 168.4 L393.3 169.1 L393.5 169.5 L393.7 169.3 L394.0 168.1 L394.2 168.7 L394.4 168.7 L394.6 169.2 L394.9 168.7 L395.1 168.6 L395.3 168.8" stroke="#ff0000"/>
<path d="M172.4 77.5 L172.6 78.8 L172.8 80.1 L173.1 81.3 L173.3 82.6 L173.5 83.6 L173.7 84.3 L174.0 84.6 L174.2 84.9 L174.4 85.2 L174.6 85.4 L174.9 85.5 L175.1 85.7 L175.3 85.8 L175.5 86.0 L175.7 86.2 L176.0 86.4 L176.2 86.5 L176.4 86.7 L176.6 86.9 L176.9 87.1 L177.1 87.3 L177.3 87.4 L177.5 87.6 L177.7 87.8 L178.0 88.0 L178.2 88.1 L178.4 88.3 L178.6 88.5 L178.9 88.6 L179.1 88.8 L179.3 89.0 L179.5 89.1 L179.8 89.3 L180.0 89.4 L180.2 89.6 L180.4 89.8 L180.6 89.9 L180.9 90.1 L181.1 90.2 L181.3 90.4 L181.5 90.5 L181.8 90.7 L182.0 90.9 L182.2 91.0 L182.4 91.2 L182.7 91.3 L182.9 91.5 L183.1 91.7 L183.3 91.8 L183.5 92.0 L183.8 92.2 L184.0 92.3 L184.2 92.5 L184.4 92.6 L184.7 92.8 L184.9 93.0 L185.1 93.1 L185.3 93.3 L185.6 93.5 L185.8 93.6 L186.0 93.8 L186.2 94.0 L186.4 94.2 L186.7 94.3 L186.9 94.5 L187.1 94.7 L187.3 94.8 L187.6 95.0 L187.8 95.2 L188.0 95.4 L188.2 95.5 L188.4 95.7 L188.7 95.9 L188.9 96.0 L189.1 96.2 L189.3 96.4 L189.6 96.6 L189.8 96.7 L190.0 96.9 L190.2 97.1 L190.5 97.3 L190.7 97.4 L190.9 97.6 L191.1 97.8 L191.3 97.9 L191.6 98.1 L191.8 98.3 L192.0 98.5 L192.2 98.6 L192.5 98.8 L192.7 99.0 L192.9 99.1 L193.1 99.3 L193.4 99.5 L193.6 99.6 L193.8 99.8 L194.0 100.0 L194.2 100.1 L194.5 100.3 L194.7 100.5 L194.9 100.6 L195.1 100.8 L195.4 101.0 L195.6 101.1 L195.8 101.3 L196.0 101.4 L196.3 101.6 L196.5 101.8 L196.7 101.9 L196.9 102.1 L197.1 102.3 L197.4 102.4 L197.6 102.6 L197.8 102.7 L198.0 102.9 L198.3 103.1 L198.5 103.2 L198.7 103.4 L198.9 103.5 L199.1 103.7 L199.4 103.9 L199.6 104.0 L199.8 104.2 L200.0 104.3 L200.3 104.5 L200.5 104.6 L200.7 104.8 L200.9 105.0 L201.2 105.1 L201.4 105.3 L201.6 105.4 L201.8 105.6 L202.0 105.7 L202.3 105.9 L202.5 106.0 L202.7 106.2 L202.9 106.3 L203.2 106.5 L203.4 106.6 L203.6 106.8 L203.8 106.9 L204.1 107.1 L204.3 107.2 L204.5 107.4 L204.7 107.5 L204.9 107.7 L205.2 107.8 L205.4 108.0 L205.6 108.1 L205.8 108.2 L206.1 108.4 L206.3 108.5 L206.5 108.6 L206.7 108.8 L206.9 108.9 L207.2 109.1 L207.4 109.2 L207.6 109.3 L207.8 109.4 L208.1 109.6 L208.3 109.7 L208.5 109.8 L208.7 110.0 L209.0 110.1 L209.2 110.2 L209.4 110.3 L209.6 110.4 L209.8 110.6 L210.1 110.7 L210.3 110.8 L210.5 110.9 L210.7 111.0 L211.0 111.1 L211.2 111.2 L211.4 111.4 L211.6 111.5 L211.9 111.6 L212.1 111.7 L212.3 111.8 L212.5 111.9 L212.7 112.0 L213.0 112.1 L213.2 112.2 L213.4 112.3 L213.6 112.4 L213.9 112.5 L214.1 112.6 L214.3 112.7 L214.5 112.8 L214.8 112.9 L215.0 113.0 L215.2 113.1 L215.4 113.2 L215.6 113.3 L215.9 113.4 L216.1 113.5 L216.3 113.6 L216.5 113.7 L216.8 113.8 L217.0 113.9 L217.2 114.0 L217.4 114.1 L217.6 114.2 L217.9 114.3 L218.1 114.4 L218.3 114.5 L218.5 114.6 L218.8 114.7 L219.0 114.8 L219.2 114.9 L219.4 115.0 L219.7 115.1 L219.9 115.2 L220.1 115.2 L220.3 115.3 L220.5 115.4 L220.8 115.5 L221.0 115.6 L221.2 115.7 L221.4 115.8 L221.7 115.9 L221.9 116.0 L222.1 116.1 L222.3 116.2 L222.6 116.3 L222.8 116.4 L223.0 116.5 L223.2 116.6 L223.4 116.7 L223.7 116.8 L223.9 116.9 L224.1 117.0 L224.3 117.1 L224.6 117.2 L224.8 117.3 L225.0 117.3 L225.2 117.4 L225.5 117.5 L225.7 117.6 L225.9 117.7 L226.1 117.8 L226.3 117.9 L226.6 118.0 L226.8 118.1 L227.0 118.2 L227.2 118.3 L227.5 118.4 L227.7 118.5 L227.9 118.6 L228.1 118.7 L228.3 118.8 L228.6 118.9 L228.8 119.0 L229.0 119.1 L229.2 119.2 L229.5 119.3 L229.7 119.4 L229.9 119.5 L230.1 119.6 L230.4 119.7 L230.6 119.8 L230.8 119.9 L231.0 120.0 L231.2 120.1 L231.5 120.2 L231.7 120.3 L231.9 120.4 L232.1 120.5 L232.4 120.6 L232.6 120.7 L232.8 120.8 L233.0 120.9 L233.3 121.0 L233.5 121.1 L233.7 121.2 L233.9 121.3 L234.1 121.4 L234.4 121.5 L234.6 121.6 L234.8 121.7 L235.0 121.8 L235.3 121.9 L235.5 122.0 L235.7 122.1 L235.9 122.2 L236.1 122.3 L236.4 122.4 L236.6 122.6 L236.8 122.7 L237.0 122.8 L237.3 122.9 L237.5 123.0 L237.7 123.1 L237.9 123.2 L238.2 123.3 L238.4 123.4 L238.6 123.5 L238.8 123.7 L239.0 123.8 L239.3 123.9 L239.5 124.0 L239.7 124.1 L239.9 124.2 L240.2 124.3 L240.4 124.5 L240.6 124.6 L240.8 124.7 L241.1 124.8 L241.3 124.9 L241.5 125.1 L241.7 125.2 L241.9 125.3 L242.2 125.4 L242.4 125.5 L242.6 125.7 L242.8 125.8 L243.1 125.9 L243.3 126.0 L243.5 126.2 L243.7 126.3 L244.0 126.4 L244.2 126.5 L244.4 126.7 L244.6 126.8 L244.8 126.9 L245.1 127.0 L245.3 127.2 L245.5 127.3 L245.7 127.4 L246.0 127.6 L246.2 127.7 L246.4 127.8 L246.6 128.0 L246.8 128.1 L247.1 128.3 L247.3 128.4 L247.5 128.5 L247.7 128.7 L248.0 128.8 L248.2 129.0 L248.4 129.1 L248.6 129.3 L248.9 129.4 L249.1 129.6 L249.3 129.7 L249.5 129.9 L249.7 130.0 L250.0 130.2 L250.2 130.4 L250.4 130.5 L250.6 130.7 L250.9 130.8 L251.1 131.0 L251.3 131.2 L251.5 131.3 L251.8 131.5 L252.0 131.7 L252.2 131.9 L252.4 132.0 L252.6 132.2 L252.9 132.4 L253.1 132.6 L253.3 132.8 L253.5 133.0 L253.8 133.1 L254.0 133.3 L254.2 133.5 L254.4 133.7 L254.7 133.9 L254.9 134.1 L255.1 134.3 L255.3 134.5 L255.5 134.7 L255.8 134.9 L256.0 135.1 L256.2 135.3 L256.4 135.5 L256.7 135.7 L256.9 135.9 L257.1 136.1 L257.3 136.4 L257.5 136.6 L257.8 136.8 L258.0 137.0 L258.2 137.2 L258.4 137.4 L258.7 137.6 L258.9 137.8 L259.1 138.1 L259.3 138.3 L259.6 138.5 L259.8 138.7 L260.0 139.0 L260.2 139.2 L260.4 139.4 L260.7 139.6 L260.9 139.9 L261.1 140.1 L261.3 140.3 L261.6 140.6 L261.8 140.8 L262.0 141.0 L262.2 141.3 L262.5 141.5 L262.7 141.7 L262.9 142.0 L263.1 142.2 L263.3 142.5 L263.6 142.7 L263.8 142.9 L264.0 143.2 L264.2 143.4 L264.5 143.7 L264.7 143.9 L264.9 144.2 L265.1 144.4 L265.3 144.7 L265.6 144.9 L265.8 145.2 L266.0 145.4 L266.2 145.7 L266.5 145.9 L266.7 146.2 L266.9 146.5 L267.1 146.7 L267.4 147.0 L267.6 147.2 L267.8 147.5 L268.0 147.7 L268.2 147.9 L268.5 148.1 L268.7 148.4 L268.9 148.7 L269.1 149.0 L269.4 149.2 L269.6 149.5 L269.8 149.9 L270.0 150.2 L270.3 150.3 L270.5 150.4 L270.7 150.8 L270.9 151.3 L271.1 151.6 L271.4 151.7 L271.6 151.6 L271.8 151.9 L272.0 152.4 L272.3 152.9 L272.5 153.1 L272.7 153.1 L272.9 153.4 L273.2 153.6 L273.4 154.0 L273.6 154.0 L273.8 154.1 L274.0 154.4 L274.3 154.4 L274.5 154.3 L274.7 154.1 L274.9 154.3 L275.2 154.5 L275.4 156.6 L275.6 156.9 L275.8 160.1 L276.0 160.5 L276.3 160.0 L276.5 158.6 L276.7 157.2 L276.9 158.1 L277.2 159.1 L277.4 158.6 L277.6 159.9 L277.8 157.7 L278.1 160.7 L278.3 161.1 L278.5 160.6 L278.7 160.1 L278.9 159.0 L279.2 160.4 L279.4 159.2 L279.6 156.5 L279.8 156.1 L280.1 156.1 L280.3 158.7 L280.5 155.9 L280.7 156.3 L281.0 156.5 L281.2 160.2 L281.4 157.9 L281.6 156.6 L281.8 153.2 L282.1 156.4 L282.3 154.8 L282.5 158.5 L282.7 156.7 L283.0 158.0 L283.2 156.0 L283.4 156.7 L283.6 156.0 L283.9 158.2 L284.1 158.4 L284.3 158.4 L284.5 156.7 L284.7 155.8 L285.0 154.0 L285.2 155.9 L285.4 158.0 L285.6 158.8 L285.9 156.9 L286.1 156.4 L286.3 155.5 L286.5 156.5 L286.7 151.8 L287.0 156.6 L287.2 157.0 L287.4 158.9 L287.6 155.6 L287.9 152.2 L288.1 153.8 L288.3 155.6 L288.5 157.0 L288.8 155.2 L289.0 155.1 L289.2 156.3 L289.4 159.5 L289.6 157.7 L289.9 159.0 L290.1 155.4 L290.3 156.6 L290.5 155.2 L290.8 156.4 L291.0 155.2 L291.2 155.0 L291.4 156.0 L291.7 156.6 L291.9 157.1 L292.1 157.3 L292.3 156.7 L292.5 155.5 L292.8 152.7 L293.0 153.6 L293.2 158.6 L293.4 160.2 L293.7 158.4 L293.9 154.1 L294.1 154.9 L294.3 156.2 L294.5 157.0 L294.8 155.8 L295.0 152.9 L295.2 151.1 L295.4 153.0 L295.7 156.9 L295.9 156.0 L296.1 153.5 L296.3 149.5 L296.6 150.5 L296.8 151.7 L297.0 154.4 L297.2 152.8 L297.4 150.2 L297.7 150.5 L297.9 152.8 L298.1 155.6 L298.3 154.0 L298.6 154.8 L298.8 154.0 L299.0 154.5 L299.2 153.3 L299.5 153.5 L299.7 156.2 L299.9 157.5 L300.1 157.1 L300.3 156.4 L300.6 156.4 L300.8 159.8 L301.0 161.3 L301.2 158.8 L301.5 159.6 L301.7 156.8 L301.9 156.7 L302.1 156.3 L302.4 154.0 L302.6 154.9 L302.8 154.8 L303.0 155.9 L303.2 156.6 L303.5 159.0 L303.7 159.5 L303.9 159.8 L304.1 159.3 L304.4 161.7 L304.6 159.2 L304.8 154.9 L305.0 153.9 L305.2 154.7 L305.5 156.8 L305.7 155.7 L305.9 156.0 L306.1 156.2 L306.4 157.0 L306.6 157.6 L306.8 157.9 L307.0 159.7 L307.3 160.1 L307.5 159.4 L307.7 158.3 L307.9 156.8 L308.1 157.3 L308.4 157.3 L308.6 158.5 L308.8 157.6 L309.0 155.8 L309.3 156.0 L309.5 158.0 L309.7 158.4 L309.9 157.1 L310.2 154.5 L310.4 158.9 L310.6 161.4 L310.8 161.2 L311.0 158.2 L311.3 157.1 L311.5 156.5 L311.7 157.7 L311.9 158.1 L312.2 159.1 L312.4 158.5 L312.6 158.9 L312.8 159.4 L313.0 159.8 L313.3 159.1 L313.5 157.1 L313.7 158.1 L313.9 158.5 L314.2 160.8 L314.4 159.4 L314.6 157.6 L314.8 155.2 L315.1 152.7 L315.3 149.8 L315.5 153.9 L315.7 156.9 L315.9 157.5 L316.2 154.7 L316.4 153.5 L316.6 157.3 L316.8 157.6 L317.1 156.4 L317.3 155.8 L317.5 156.4 L317.7 158.2 L318.0 158.5 L318.2 157.1 L318.4 156.4 L318.6 156.0 L318.8 157.8 L319.1 158.0 L319.3 158.6 L319.5 160.2 L319.7 160.7 L320.0 162.8 L320.2 161.6 L320.4 162.9 L320.6 159.4 L320.9 158.8 L321.1 158.8 L321.3 160.9 L321.5 161.2 L321.7 162.0 L322.0 160.4 L322.2 160.2 L322.4 158.9 L322.6 160.4 L322.9 161.5 L323.1 163.0 L323.3 163.7 L323.5 165.5 L323.7 164.9 L324.0 163.2 L324.2 163.5 L324.4 163.6 L324.6 162.9 L324.9 162.3 L325.1 163.6 L325.3 164.1 L325.5 164.9 L325.8 165.8 L326.0 164.7 L326.2 165.0 L326.4 164.0 L326.6 164.9 L326.9 164.9 L327.1 164.9 L327.3 165.4 L327.5 164.9 L327.8 165.5 L328.0 165.0 L328.2 165.2 L328.4 165.8 L328.7 164.8 L328.9 165.3 L329.1 165.4 L329.3 165.5 L329.5 165.5 L329.8 165.3 L330.0 165.1 L330.2 165.5 L330.4 165.6 L330.7 165.8 L330.9 166.1 L331.1 165.6 L331.3 166.3 L331.6 165.5 L331.8 165.5 L332.0 166.3 L332.2 165.9 L332.4 166.5 L332.7 166.3 L332.9 166.8 L333.1 165.5 L333.3 166.2 L333.6 166.6 L333.8 166.0 L334.0 166.5 L334.2 166.7 L334.4 166.2 L334.7 165.9 L334.9 166.0 L335.1 166.3 L335.3 166.6 L335.6 166.6 L335.8 166.6 L336.0 166.3 L336.2 166.6 L336.5 166.8 L336.7 166.2 L336.9 166.7 L337.1 167.0 L337.3 166.4 L337.6 166.5 L337.8 167.1 L338.0 166.6 L338.2 166.1 L338.5 166.2 L338.7 166.7 L338.9 166.4 L339.1 167.1 L339.4 166.0 L339.6 165.7 L339.8 166.1 L340.0 166.2 L340.2 165.8 L340.5 166.8 L340.7 166.5 L340.9 166.6 L341.1 166.9 L341.4 166.3 L341.6 166.2 L341.8 166.4 L342.0 166.9 L342.2 166.5 L342.5 166.0 L342.7 167.1 L342.9 166.9 L343.1 167.1 L343.4 166.2 L343.6 167.1 L343.8 166.7 L344.0 167.4 L344.3 167.6 L344.5 166.8 L344.7 167.1 L344.9 167.3 L345.1 167.3 L345.4 166.5 L345.6 166.5 L345.8 165.8 L346.0 166.7 L346.3 166.8 L346.5 167.7 L346.7 167.3 L346.9 167.4 L347.2 167.3 L347.4 167.8 L347.6 167.4 L347.8 167.0 L348.0 167.2 L348.3 167.3 L348.5 167.4 L348.7 166.7 L348.9 167.1 L349.2 168.0 L349.4 166.8 L349.6 166.9 L349.8 166.8 L350.1 167.4 L350.3 167.2 L350.5 167.4 L350.7 166.7 L350.9 166.8 L351.2 166.7 L351.4 167.2 L351.6 167.2 L351.8 167.1 L352.1 168.0 L352.3 167.1 L352.5 167.5 L352.7 167.3 L352.9 167.8 L353.2 167.4 L353.4 166.9 L353.6 167.3 L353.8 168.0 L354.1 167.7 L354.3 167.2 L354.5 167.3 L354.7 167.5 L355.0 167.7 L355.2 167.3 L355.4 167.6 L355.6 167.6 L355.8 167.4 L356.1 167.6 L356.3 167.8 L356.5 168.0 L356.7 167.3 L357.0 167.9 L357.2 167.3 L357.4 168.0 L357.6 167.5 L357.9 167.7 L358.1 168.1 L358.3 168.4 L358.5 167.5 L358.7 168.0 L359.0 167.1 L359.2 167.4 L359.4 167.2 L359.6 167.8 L359.9 167.6 L360.1 168.2 L360.3 166.7 L360.5 167.6 L360.8 167.5 L361.0 168.1 L361.2 167.5 L361.4 168.3 L361.6 167.6 L361.9 167.6 L362.1 167.4 L362.3 168.1 L362.5 167.3 L362.8 168.5 L363.0 167.5 L363.2 167.6 L363.4 167.8 L363.6 167.3 L363.9 167.7 L364.1 168.7 L364.3 167.6 L364.5 167.6 L364.8 167.9 L365.0 167.9 L365.2 169.1 L365.4 167.7 L365.7 167.7 L365.9 168.3 L366.1 167.9 L366.3 168.0 L366.5 168.5 L366.8 168.1 L367.0 168.3 L367.2 168.3 L367.4 167.9 L367.7 168.9 L367.9 167.6 L368.1 168.1 L368.3 168.0 L368.6 168.7 L368.8 168.2 L369.0 168.1 L369.2 167.8 L369.4 168.0 L369.7 167.8 L369.9 168.5 L370.1 168.0 L370.3 168.4 L370.6 168.5 L370.8 167.7 L371.0 168.1 L371.2 167.1 L371.4 168.1 L371.7 168.1 L371.9 168.2 L372.1 168.3 L372.3 168.4 L372.6 167.7 L372.8 168.5 L373.0 168.3 L373.2 168.0 L373.5 167.7 L373.7 167.7 L373.9 169.1 L374.1 168.2 L374.3 168.3 L374.6 168.8 L374.8 168.3 L375.0 168.9 L375.2 168.8 L375.5 168.6 L375.7 167.8 L375.9 169.0 L376.1 167.9 L376.4 169.6 L376.6 168.8 L376.8 168.5 L377.0 168.3 L377.2 168.4 L377.5 168.7 L377.7 168.6 L377.9 168.9 L378.1 168.7 L378.4 168.8 L378.6 167.9 L378.8 168.5 L379.0 167.9 L379.3 168.6 L379.5 168.6 L379.7 168.2 L379.9 168.7 L380.1 168.7 L380.4 168.5 L380.6 168.5 L380.8 168.8 L381.0 169.2 L381.3 168.0 L381.5 168.6 L381.7 168.5 L381.9 168.3 L382.1 168.4 L382.4 169.6 L382.6 168.8 L382.8 168.6 L383.0 168.2 L383.3 168.1 L383.5 168.3 L383.7 169.1 L383.9 168.5 L384.2 168.1 L384.4 168.6 L384.6 169.2 L384.8 168.4 L385.0 168.0 L385.3 169.3 L385.5 168.9 L385.7 168.7 L385.9 168.7 L386.2 168.4 L386.4 168.5 L386.6 169.1 L386.8 168.7 L387.1 168.8 L387.3 168.9 L387.5 168.9 L387.7 168.8 L387.9 168.9 L388.2 169.2 L388.4 168.6 L388.6 168.6 L388.8 168.5 L389.1 168.8 L389.3 169.0 L389.5 168.6 L389.7 168.7 L390.0 168.9 L390.2 168.3 L390.4 168.4 L390.6 169.4 L390.8 168.9 L391.1 168.9 L391.3 168.3 L391.5 169.2 L391.7 168.9 L392.0 168.8 L392.2 168.1 L392.4 169.4 L392.6 169.3 L392.8 169.3 L393.1 169.5 L393.3 169.4 L393.5 169.1 L393.7 169.2 L394.0 168.9 L394.2 169.1 L394.4 169.5 L394.6 168.9 L394.9 168.7 L395.1 169.3 L395.3 168.4" stroke="#00e000" stroke-dasharray="4.4 3"/>
<path d="M172.4 77.5 L172.6 78.9 L172.8 80.1 L173.1 81.1 L173.3 82.1 L173.5 82.9 L173.7 83.4 L174.0 83.6 L174.2 83.8 L174.4 83.9 L174.6 84.0 L174.9 84.1 L175.1 84.2 L175.3 84.3 L175.5 84.4 L175.7 84.5 L176.0 84.6 L176.2 84.7 L176.4 84.8 L176.6 84.9 L176.9 84.9 L177.1 85.0 L177.3 85.1 L177.5 85.2 L177.7 85.3 L178.0 85.3 L178.2 85.4 L178.4 85.5 L178.6 85.6 L178.9 85.6 L179.1 85.7 L179.3 85.8 L179.5 85.8 L179.8 85.9 L180.0 86.0 L180.2 86.0 L180.4 86.1 L180.6 86.2 L180.9 86.2 L181.1 86.3 L181.3 86.4 L181.5 86.4 L181.8 86.5 L182.0 86.5 L182.2 86.6 L182.4 86.7 L182.7 86.8 L182.9 86.8 L183.1 86.9 L183.3 87.0 L183.5 87.0 L183.8 87.1 L184.0 87.2 L184.2 87.2 L184.4 87.3 L184.7 87.4 L184.9 87.4 L185.1 87.5 L185.3 87.6 L185.6 87.7 L185.8 87.7 L186.0 87.8 L186.2 87.9 L186.4 88.0 L186.7 88.0 L186.9 88.1 L187.1 88.2 L187.3 88.3 L187.6 88.3 L187.8 88.4 L188.0 88.5 L188.2 88.6 L188.4 88.7 L188.7 88.7 L188.9 88.8 L189.1 88.9 L189.3 89.0 L189.6 89.1 L189.8 89.1 L190.0 89.2 L190.2 89.3 L190.5 89.4 L190.7 89.4 L190.9 89.5 L191.1 89.6 L191.3 89.7 L191.6 89.8 L191.8 89.8 L192.0 89.9 L192.2 90.0 L192.5 90.1 L192.7 90.2 L192.9 90.2 L193.1 90.3 L193.4 90.4 L193.6 90.5 L193.8 90.6 L194.0 90.7 L194.2 90.7 L194.5 90.8 L194.7 90.9 L194.9 91.0 L195.1 91.1 L195.4 91.1 L195.6 91.2 L195.8 91.3 L196.0 91.4 L196.3 91.5 L196.5 91.5 L196.7 91.6 L196.9 91.7 L197.1 91.8 L197.4 91.9 L197.6 92.0 L197.8 92.0 L198.0 92.1 L198.3 92.2 L198.5 92.3 L198.7 92.4 L198.9 92.5 L199.1 92.5 L199.4 92.6 L199.6 92.7 L199.8 92.8 L200.0 92.9 L200.3 93.0 L200.5 93.1 L200.7 93.1 L200.9 93.2 L201.2 93.3 L201.4 93.4 L201.6 93.5 L201.8 93.6 L202.0 93.6 L202.3 93.7 L202.5 93.8 L202.7 93.9 L202.9 94.0 L203.2 94.1 L203.4 94.1 L203.6 94.2 L203.8 94.3 L204.1 94.4 L204.3 94.5 L204.5 94.5 L204.7 94.6 L204.9 94.7 L205.2 94.8 L205.4 94.8 L205.6 94.9 L205.8 95.0 L206.1 95.1 L206.3 95.1 L206.5 95.2 L206.7 95.3 L206.9 95.4 L207.2 95.4 L207.4 95.5 L207.6 95.6 L207.8 95.6 L208.1 95.7 L208.3 95.8 L208.5 95.8 L208.7 95.9 L209.0 96.0 L209.2 96.0 L209.4 96.1 L209.6 96.1 L209.8 96.2 L210.1 96.3 L210.3 96.3 L210.5 96.4 L210.7 96.4 L211.0 96.5 L211.2 96.5 L211.4 96.6 L211.6 96.7 L211.9 96.7 L212.1 96.8 L212.3 96.8 L212.5 96.9 L212.7 96.9 L213.0 97.0 L213.2 97.0 L213.4 97.1 L213.6 97.1 L213.9 97.2 L214.1 97.2 L214.3 97.3 L214.5 97.3 L214.8 97.4 L215.0 97.4 L215.2 97.5 L215.4 97.5 L215.6 97.6 L215.9 97.6 L216.1 97.7 L216.3 97.7 L216.5 97.7 L216.8 97.8 L217.0 97.8 L217.2 97.9 L217.4 97.9 L217.6 98.0 L217.9 98.0 L218.1 98.1 L218.3 98.1 L218.5 98.2 L218.8 98.2 L219.0 98.2 L219.2 98.3 L219.4 98.3 L219.7 98.4 L219.9 98.4 L220.1 98.5 L220.3 98.5 L220.5 98.6 L220.8 98.6 L221.0 98.6 L221.2 98.7 L221.4 98.7 L221.7 98.8 L221.9 98.8 L222.1 98.9 L222.3 98.9 L222.6 99.0 L222.8 99.0 L223.0 99.1 L223.2 99.1 L223.4 99.2 L223.7 99.2 L223.9 99.3 L224.1 99.3 L224.3 99.3 L224.6 99.4 L224.8 99.4 L225.0 99.5 L225.2 99.5 L225.5 99.6 L225.7 99.6 L225.9 99.7 L226.1 99.7 L226.3 99.8 L226.6 99.8 L226.8 99.9 L227.0 99.9 L227.2 100.0 L227.5 100.0 L227.7 100.1 L227.9 100.1 L228.1 100.2 L228.3 100.2 L228.6 100.3 L228.8 100.3 L229.0 100.4 L229.2 100.4 L229.5 100.5 L229.7 100.5 L229.9 100.6 L230.1 100.6 L230.4 100.7 L230.6 100.7 L230.8 100.8 L231.0 100.8 L231.2 100.9 L231.5 100.9 L231.7 101.0 L231.9 101.0 L232.1 101.1 L232.4 101.1 L232.6 101.2 L232.8 101.2 L233.0 101.3 L233.3 101.3 L233.5 101.4 L233.7 101.4 L233.9 101.5 L234.1 101.5 L234.4 101.6 L234.6 101.6 L234.8 101.7 L235.0 101.7 L235.3 101.8 L235.5 101.8 L235.7 101.9 L235.9 102.0 L236.1 102.0 L236.4 102.1 L236.6 102.1 L236.8 102.2 L237.0 102.2 L237.3 102.3 L237.5 102.3 L237.7 102.4 L237.9 102.4 L238.2 102.5 L238.4 102.5 L238.6 102.6 L238.8 102.7 L239.0 102.7 L239.3 102.8 L239.5 102.8 L239.7 102.9 L239.9 102.9 L240.2 103.0 L240.4 103.1 L240.6 103.1 L240.8 103.2 L241.1 103.2 L241.3 103.3 L241.5 103.3 L241.7 103.4 L241.9 103.5 L242.2 103.5 L242.4 103.6 L242.6 103.6 L242.8 103.7 L243.1 103.8 L243.3 103.8 L243.5 103.9 L243.7 104.0 L244.0 104.0 L244.2 104.1 L244.4 104.2 L244.6 104.2 L244.8 104.3 L245.1 104.3 L245.3 104.4 L245.5 104.5 L245.7 104.5 L246.0 104.6 L246.2 104.7 L246.4 104.8 L246.6 104.8 L246.8 104.9 L247.1 105.0 L247.3 105.0 L247.5 105.1 L247.7 105.2 L248.0 105.3 L248.2 105.3 L248.4 105.4 L248.6 105.5 L248.9 105.6 L249.1 105.6 L249.3 105.7 L249.5 105.8 L249.7 105.9 L250.0 105.9 L250.2 106.0 L250.4 106.1 L250.6 106.2 L250.9 106.3 L251.1 106.3 L251.3 106.4 L251.5 106.5 L251.8 106.6 L252.0 106.7 L252.2 106.7 L252.4 106.8 L252.6 106.9 L252.9 107.0 L253.1 107.1 L253.3 107.2 L253.5 107.3 L253.8 107.3 L254.0 107.4 L254.2 107.5 L254.4 107.6 L254.7 107.7 L254.9 107.8 L255.1 107.9 L255.3 108.0 L255.5 108.1 L255.8 108.2 L256.0 108.3 L256.2 108.3 L256.4 108.4 L256.7 108.5 L256.9 108.6 L257.1 108.7 L257.3 108.8 L257.5 108.9 L257.8 109.0 L258.0 109.1 L258.2 109.2 L258.4 109.3 L258.7 109.4 L258.9 109.5 L259.1 109.6 L259.3 109.7 L259.6 109.8 L259.8 109.9 L260.0 110.0 L260.2 110.2 L260.4 110.3 L260.7 110.4 L260.9 110.5 L261.1 110.6 L261.3 110.7 L261.6 110.8 L261.8 110.9 L262.0 111.1 L262.2 111.2 L262.5 111.3 L262.7 111.4 L262.9 111.5 L263.1 111.7 L263.3 111.8 L263.6 111.9 L263.8 112.0 L264.0 112.2 L264.2 112.3 L264.5 112.4 L264.7 112.5 L264.9 112.7 L265.1 112.8 L265.3 112.9 L265.6 113.1 L265.8 113.2 L266.0 113.3 L266.2 113.5 L266.5 113.6 L266.7 113.7 L266.9 113.9 L267.1 114.0 L267.4 114.1 L267.6 114.3 L267.8 114.4 L268.0 114.6 L268.2 114.7 L268.5 114.8 L268.7 115.0 L268.9 115.1 L269.1 115.3 L269.4 115.4 L269.6 115.5 L269.8 115.7 L270.0 115.8 L270.3 116.0 L270.5 116.1 L270.7 116.2 L270.9 116.4 L271.1 116.5 L271.4 116.7 L271.6 116.8 L271.8 117.0 L272.0 117.1 L272.3 117.3 L272.5 117.4 L272.7 117.6 L272.9 117.7 L273.2 117.9 L273.4 118.0 L273.6 118.2 L273.8 118.3 L274.0 118.5 L274.3 118.6 L274.5 118.8 L274.7 118.9 L274.9 119.1 L275.2 119.2 L275.4 119.4 L275.6 119.5 L275.8 119.7 L276.0 119.8 L276.3 120.0 L276.5 120.2 L276.7 120.3 L276.9 120.5 L277.2 120.6 L277.4 120.8 L277.6 121.0 L277.8 121.1 L278.1 121.3 L278.3 121.5 L278.5 121.6 L278.7 121.8 L278.9 122.0 L279.2 122.1 L279.4 122.3 L279.6 122.5 L279.8 122.6 L280.1 122.8 L280.3 123.0 L280.5 123.1 L280.7 123.3 L281.0 123.5 L281.2 123.7 L281.4 123.8 L281.6 124.0 L281.8 124.2 L282.1 124.4 L282.3 124.6 L282.5 124.7 L282.7 124.9 L283.0 125.1 L283.2 125.3 L283.4 125.5 L283.6 125.6 L283.9 125.8 L284.1 126.0 L284.3 126.2 L284.5 126.4 L284.7 126.6 L285.0 126.8 L285.2 127.0 L285.4 127.1 L285.6 127.3 L285.9 127.5 L286.1 127.7 L286.3 127.9 L286.5 128.1 L286.7 128.3 L287.0 128.5 L287.2 128.7 L287.4 128.9 L287.6 129.2 L287.9 129.4 L288.1 129.6 L288.3 129.8 L288.5 130.0 L288.8 130.2 L289.0 130.4 L289.2 130.7 L289.4 130.9 L289.6 131.1 L289.9 131.3 L290.1 131.5 L290.3 131.8 L290.5 132.0 L290.8 132.2 L291.0 132.5 L291.2 132.7 L291.4 132.9 L291.7 133.2 L291.9 133.4 L292.1 133.7 L292.3 133.9 L292.5 134.2 L292.8 134.5 L293.0 134.7 L293.2 135.0 L293.4 135.3 L293.7 135.6 L293.9 135.9 L294.1 136.3 L294.3 136.7 L294.5 137.1 L294.8 137.6 L295.0 138.0 L295.2 138.5 L295.4 139.0 L295.7 139.6 L295.9 140.1 L296.1 140.7 L296.3 141.3 L296.6 141.9 L296.8 142.6 L297.0 143.2 L297.2 143.9 L297.4 144.6 L297.7 145.2 L297.9 145.9 L298.1 146.6 L298.3 147.3 L298.6 148.1 L298.8 148.8 L299.0 149.5 L299.2 150.2 L299.5 151.0 L299.7 151.7 L299.9 152.5 L300.1 153.2 L300.3 154.0 L300.6 154.6 L300.8 155.4 L301.0 156.1 L301.2 156.9 L301.5 157.5 L301.7 158.2 L301.9 158.7 L302.1 159.4 L302.4 159.8 L302.6 160.6 L302.8 160.8 L303.0 161.4 L303.2 161.6 L303.5 162.1 L303.7 162.7 L303.9 162.9 L304.1 163.0 L304.4 163.0 L304.6 163.5 L304.8 164.2 L305.0 164.7 L305.2 165.2 L305.5 165.8 L305.7 165.8 L305.9 166.0 L306.1 162.4 L306.4 164.2 L306.6 161.9 L306.8 164.0 L307.0 160.1 L307.3 161.2 L307.5 161.4 L307.7 161.6 L307.9 159.6 L308.1 160.8 L308.4 162.2 L308.6 163.5 L308.8 160.3 L309.0 162.3 L309.3 159.6 L309.5 161.8 L309.7 158.5 L309.9 160.8 L310.2 160.8 L310.4 163.8 L310.6 164.1 L310.8 162.2 L311.0 160.3 L311.3 162.1 L311.5 164.5 L311.7 166.2 L311.9 163.2 L312.2 161.2 L312.4 157.9 L312.6 162.5 L312.8 164.6 L313.0 166.5 L313.3 162.0 L313.5 163.5 L313.7 162.0 L313.9 162.8 L314.2 162.0 L314.4 163.1 L314.6 161.7 L314.8 159.8 L315.1 159.5 L315.3 163.0 L315.5 165.7 L315.7 163.5 L315.9 162.6 L316.2 159.3 L316.4 163.6 L316.6 162.1 L316.8 162.0 L317.1 162.2 L317.3 165.5 L317.5 166.7 L317.7 165.4 L318.0 164.5 L318.2 165.1 L318.4 163.7 L318.6 163.4 L318.8 162.4 L319.1 163.0 L319.3 161.2 L319.5 161.1 L319.7 164.2 L320.0 164.2 L320.2 164.6 L320.4 163.7 L320.6 162.7 L320.9 163.7 L321.1 163.5 L321.3 163.8 L321.5 163.1 L321.7 164.5 L322.0 166.0 L322.2 167.7 L322.4 167.8 L322.6 168.0 L322.9 167.8 L323.1 169.7 L323.3 170.5 L323.5 170.3 L323.7 168.3 L324.0 167.4 L324.2 167.5 L324.4 166.9 L324.6 166.9 L324.9 167.5 L325.1 167.2 L325.3 169.0 L325.5 169.0 L325.8 168.7 L326.0 168.1 L326.2 168.8 L326.4 168.1 L326.6 167.8 L326.9 167.3 L327.1 168.1 L327.3 167.8 L327.5 168.0 L327.8 168.4 L328.0 168.5 L328.2 169.2 L328.4 169.0 L328.7 170.0 L328.9 169.1 L329.1 169.3 L329.3 168.9 L329.5 169.1 L329.8 169.3 L330.0 170.2 L330.2 169.6 L330.4 168.8 L330.7 168.9 L330.9 169.2 L331.1 168.8 L331.3 169.0 L331.6 169.4 L331.8 170.0 L332.0 169.7 L332.2 169.2 L332.4 169.3 L332.7 169.2 L332.9 169.1 L333.1 169.4 L333.3 169.7 L333.6 169.9 L333.8 169.7 L334.0 169.3 L334.2 169.6 L334.4 169.7 L334.7 169.4 L334.9 170.0 L335.1 169.6 L335.3 169.5 L335.6 169.7 L335.8 169.9 L336.0 170.4 L336.2 170.2 L336.5 169.2 L336.7 169.7 L336.9 168.9 L337.1 170.3 L337.3 170.6 L337.6 169.8 L337.8 171.1 L338.0 169.8 L338.2 169.4 L338.5 169.6 L338.7 169.0 L338.9 169.1 L339.1 169.9 L339.4 171.3 L339.6 170.7 L339.8 169.7 L340.0 170.2 L340.2 171.1 L340.5 170.5 L340.7 170.1 L340.9 168.8 L341.1 170.1 L341.4 169.6 L341.6 170.1 L341.8 170.1 L342.0 168.9 L342.2 169.8 L342.5 169.9 L342.7 170.0 L342.9 169.0 L343.1 169.7 L343.4 169.8 L343.6 170.2 L343.8 170.0 L344.0 170.3 L344.3 169.4 L344.5 170.4 L344.7 170.2 L344.9 170.0 L345.1 170.1 L345.4 170.2 L345.6 170.2 L345.8 170.8 L346.0 170.4 L346.3 169.5 L346.5 170.2 L346.7 169.6 L346.9 170.0 L347.2 170.0 L347.4 170.6 L347.6 169.9 L347.8 170.9 L348.0 170.0 L348.3 170.4 L348.5 171.0 L348.7 169.1 L348.9 170.2 L349.2 170.6 L349.4 170.8 L349.6 170.2 L349.8 170.1 L350.1 169.7 L350.3 170.5 L350.5 169.5 L350.7 170.1 L350.9 169.7 L351.2 170.1 L351.4 170.3 L351.6 170.7 L351.8 170.2 L352.1 170.9 L352.3 170.5 L352.5 170.9 L352.7 170.3 L352.9 171.1 L353.2 170.0 L353.4 170.3 L353.6 170.8 L353.8 170.0 L354.1 170.7 L354.3 170.5 L354.5 170.0 L354.7 169.8 L355.0 170.1 L355.2 170.0 L355.4 170.7 L355.6 170.3 L355.8 170.2 L356.1 170.3 L356.3 170.7 L356.5 170.3 L356.7 170.3 L357.0 170.9 L357.2 170.3 L357.4 170.3 L357.6 169.9 L357.9 170.6 L358.1 170.8 L358.3 170.4 L358.5 170.5 L358.7 170.8 L359.0 170.6 L359.2 170.7 L359.4 170.1 L359.6 169.9 L359.9 170.3 L360.1 169.6 L360.3 170.7 L360.5 169.5 L360.8 170.3 L361.0 170.5 L361.2 169.9 L361.4 170.4 L361.6 170.2 L361.9 170.7 L362.1 170.4 L362.3 170.4 L362.5 169.3 L362.8 170.0 L363.0 170.3 L363.2 170.8 L363.4 170.7 L363.6 170.6 L363.9 170.6 L364.1 170.7 L364.3 170.4 L364.5 171.0 L364.8 171.0 L365.0 170.7 L365.2 170.4 L365.4 170.0 L365.7 170.3 L365.9 171.2 L366.1 170.3 L366.3 170.3 L366.5 170.6 L366.8 171.5 L367.0 170.7 L367.2 170.8 L367.4 171.0 L367.7 169.3 L367.9 171.3 L368.1 170.7 L368.3 170.6 L368.6 170.1 L368.8 170.4 L369.0 170.2 L369.2 170.9 L369.4 170.6 L369.7 171.4 L369.9 170.0 L370.1 170.8 L370.3 170.4 L370.6 170.4 L370.8 171.2 L371.0 170.4 L371.2 171.0 L371.4 171.0 L371.7 170.4 L371.9 170.6 L372.1 170.4 L372.3 170.6 L372.6 170.4 L372.8 170.2 L373.0 170.4 L373.2 171.2 L373.5 170.8 L373.7 170.6 L373.9 171.1 L374.1 170.5 L374.3 171.1 L374.6 170.7 L374.8 171.6 L375.0 169.7 L375.2 170.2 L375.5 170.8 L375.7 170.3 L375.9 171.2 L376.1 170.2 L376.4 168.3 L376.6 170.6 L376.8 170.2 L377.0 171.1 L377.2 170.1 L377.5 171.0 L377.7 171.0 L377.9 170.0 L378.1 170.9 L378.4 170.8 L378.6 170.5 L378.8 171.3 L379.0 171.6 L379.3 171.1 L379.5 170.7 L379.7 170.3 L379.9 171.2 L380.1 170.2 L380.4 170.5 L380.6 170.6 L380.8 170.9 L381.0 171.0 L381.3 170.6 L381.5 171.0 L381.7 170.3 L381.9 170.6 L382.1 170.4 L382.4 170.8 L382.6 170.9 L382.8 171.2 L383.0 170.4 L383.3 170.8 L383.5 171.2 L383.7 170.8 L383.9 171.1 L384.2 170.1 L384.4 170.7 L384.6 171.1 L384.8 170.8 L385.0 170.5 L385.3 171.3 L385.5 170.6 L385.7 171.0 L385.9 170.4 L386.2 171.0 L386.4 172.4 L386.6 170.8 L386.8 169.8 L387.1 171.0 L387.3 170.8 L387.5 170.7 L387.7 171.1 L387.9 171.7 L388.2 170.9 L388.4 170.9 L388.6 170.7 L388.8 170.7 L389.1 170.3 L389.3 169.7 L389.5 170.9 L389.7 170.7 L390.0 170.7 L390.2 170.8 L390.4 170.4 L390.6 170.8 L390.8 170.3 L391.1 170.5 L391.3 170.7 L391.5 171.4 L391.7 170.4 L392.0 171.2 L392.2 170.3 L392.4 170.1 L392.6 170.7 L392.8 171.0 L393.1 170.8 L393.3 171.7 L393.5 170.7 L393.7 170.4 L394.0 170.5 L394.2 171.1 L394.4 171.0 L394.6 170.3 L394.9 171.8 L395.1 170.5 L395.3 170.5" stroke="#0000ff"/>
<path d="M172.4 77.5 L172.6 79.1 L172.8 80.5 L173.1 82.0 L173.3 83.5 L173.5 84.8 L173.7 85.7 L174.0 86.4 L174.2 87.0 L174.4 87.5 L174.6 88.0 L174.9 88.4 L175.1 88.8 L175.3 89.2 L175.5 89.5 L175.7 89.9 L176.0 90.3 L176.2 90.7 L176.4 91.1 L176.6 91.5 L176.9 91.8 L177.1 92.2 L177.3 92.6 L177.5 92.9 L177.7 93.2 L178.0 93.6 L178.2 93.9 L178.4 94.2 L178.6 94.5 L178.9 94.8 L179.1 95.1 L179.3 95.4 L179.5 95.6 L179.8 95.9 L180.0 96.1 L180.2 96.4 L180.4 96.7 L180.6 96.9 L180.9 97.1 L181.1 97.4 L181.3 97.6 L181.5 97.7 L181.8 97.9 L182.0 98.2 L182.2 98.4 L182.4 98.6 L182.7 98.8 L182.9 99.1 L183.1 99.3 L183.3 99.5 L183.5 99.7 L183.8 99.9 L184.0 100.1 L184.2 100.3 L184.4 100.5 L184.7 100.7 L184.9 100.9 L185.1 101.1 L185.3 101.3 L185.6 101.5 L185.8 101.7 L186.0 101.9 L186.2 102.1 L186.4 102.3 L186.7 102.5 L186.9 102.7 L187.1 102.9 L187.3 103.1 L187.6 103.3 L187.8 103.5 L188.0 103.7 L188.2 103.8 L188.4 104.0 L188.7 104.2 L188.9 104.4 L189.1 104.6 L189.3 104.8 L189.6 104.9 L189.8 105.1 L190.0 105.3 L190.2 105.5 L190.5 105.7 L190.7 105.8 L190.9 106.0 L191.1 106.2 L191.3 106.4 L191.6 106.5 L191.8 106.7 L192.0 106.9 L192.2 107.1 L192.5 107.2 L192.7 107.4 L192.9 107.6 L193.1 107.8 L193.4 107.9 L193.6 108.1 L193.8 108.3 L194.0 108.5 L194.2 108.6 L194.5 108.8 L194.7 109.0 L194.9 109.2 L195.1 109.3 L195.4 109.5 L195.6 109.7 L195.8 109.9 L196.0 110.0 L196.3 110.2 L196.5 110.4 L196.7 110.5 L196.9 110.7 L197.1 110.9 L197.4 111.1 L197.6 111.2 L197.8 111.4 L198.0 111.6 L198.3 111.8 L198.5 111.9 L198.7 112.1 L198.9 112.3 L199.1 112.4 L199.4 112.6 L199.6 112.8 L199.8 113.0 L200.0 113.1 L200.3 113.3 L200.5 113.5 L200.7 113.6 L200.9 113.8 L201.2 114.0 L201.4 114.1 L201.6 114.3 L201.8 114.5 L202.0 114.7 L202.3 114.8 L202.5 115.0 L202.7 115.2 L202.9 115.3 L203.2 115.5 L203.4 115.7 L203.6 115.8 L203.8 116.0 L204.1 116.2 L204.3 116.4 L204.5 116.5 L204.7 116.7 L204.9 116.9 L205.2 117.0 L205.4 117.2 L205.6 117.4 L205.8 117.5 L206.1 117.7 L206.3 117.9 L206.5 118.1 L206.7 118.2 L206.9 118.4 L207.2 118.6 L207.4 118.7 L207.6 118.9 L207.8 119.1 L208.1 119.3 L208.3 119.4 L208.5 119.6 L208.7 119.8 L209.0 119.9 L209.2 120.1 L209.4 120.3 L209.6 120.5 L209.8 120.6 L210.1 120.8 L210.3 121.0 L210.5 121.1 L210.7 121.3 L211.0 121.5 L211.2 121.6 L211.4 121.8 L211.6 122.0 L211.9 122.2 L212.1 122.3 L212.3 122.5 L212.5 122.7 L212.7 122.8 L213.0 123.0 L213.2 123.2 L213.4 123.4 L213.6 123.5 L213.9 123.7 L214.1 123.9 L214.3 124.0 L214.5 124.2 L214.8 124.4 L215.0 124.5 L215.2 124.7 L215.4 124.9 L215.6 125.0 L215.9 125.2 L216.1 125.4 L216.3 125.5 L216.5 125.7 L216.8 125.9 L217.0 126.0 L217.2 126.2 L217.4 126.3 L217.6 126.5 L217.9 126.7 L218.1 126.8 L218.3 127.0 L218.5 127.1 L218.8 127.3 L219.0 127.4 L219.2 127.5 L219.4 127.7 L219.7 127.8 L219.9 128.0 L220.1 128.1 L220.3 128.2 L220.5 128.4 L220.8 128.5 L221.0 128.6 L221.2 128.8 L221.4 128.9 L221.7 129.0 L221.9 129.2 L222.1 129.3 L222.3 129.4 L222.6 129.5 L222.8 129.6 L223.0 129.8 L223.2 129.9 L223.4 130.0 L223.7 130.1 L223.9 130.2 L224.1 130.3 L224.3 130.4 L224.6 130.6 L224.8 130.7 L225.0 130.8 L225.2 130.9 L225.5 131.0 L225.7 131.1 L225.9 131.2 L226.1 131.3 L226.3 131.4 L226.6 131.5 L226.8 131.6 L227.0 131.8 L227.2 131.9 L227.5 132.0 L227.7 132.1 L227.9 132.2 L228.1 132.3 L228.3 132.4 L228.6 132.5 L228.8 132.6 L229.0 132.7 L229.2 132.8 L229.5 132.9 L229.7 133.0 L229.9 133.1 L230.1 133.2 L230.4 133.4 L230.6 133.5 L230.8 133.6 L231.0 133.7 L231.2 133.8 L231.5 133.9 L231.7 134.0 L231.9 134.1 L232.1 134.2 L232.4 134.3 L232.6 134.4 L232.8 134.5 L233.0 134.6 L233.3 134.7 L233.5 134.8 L233.7 134.9 L233.9 135.0 L234.1 135.1 L234.4 135.2 L234.6 135.3 L234.8 135.4 L235.0 135.6 L235.3 135.7 L235.5 135.8 L235.7 135.9 L235.9 136.0 L236.1 136.1 L236.4 136.2 L236.6 136.3 L236.8 136.4 L237.0 136.5 L237.3 136.6 L237.5 136.8 L237.7 136.9 L237.9 137.0 L238.2 137.1 L238.4 137.2 L238.6 137.4 L238.8 137.5 L239.0 137.6 L239.3 137.7 L239.5 137.9 L239.7 138.0 L239.9 138.1 L240.2 138.3 L240.4 138.4 L240.6 138.6 L240.8 138.7 L241.1 138.9 L241.3 139.0 L241.5 139.2 L241.7 139.3 L241.9 139.5 L242.2 139.6 L242.4 139.8 L242.6 139.9 L242.8 140.1 L243.1 140.3 L243.3 140.4 L243.5 140.6 L243.7 140.8 L244.0 141.0 L244.2 141.1 L244.4 141.3 L244.6 141.5 L244.8 141.7 L245.1 141.9 L245.3 142.0 L245.5 142.2 L245.7 142.4 L246.0 142.6 L246.2 142.8 L246.4 143.0 L246.6 143.2 L246.8 143.4 L247.1 143.6 L247.3 143.8 L247.5 143.9 L247.7 144.1 L248.0 144.3 L248.2 144.5 L248.4 144.7 L248.6 144.9 L248.9 145.1 L249.1 145.3 L249.3 145.5 L249.5 145.7 L249.7 145.9 L250.0 146.1 L250.2 146.3 L250.4 146.5 L250.6 146.7 L250.9 146.9 L251.1 147.1 L251.3 147.3 L251.5 147.5 L251.8 147.7 L252.0 147.9 L252.2 148.1 L252.4 148.3 L252.6 148.5 L252.9 148.7 L253.1 148.9 L253.3 149.1 L253.5 149.3 L253.8 149.5 L254.0 149.7 L254.2 149.9 L254.4 150.1 L254.7 150.3 L254.9 150.5 L255.1 150.7 L255.3 150.9 L255.5 151.1 L255.8 151.3 L256.0 151.6 L256.2 151.8 L256.4 152.0 L256.7 152.1 L256.9 152.3 L257.1 152.5 L257.3 152.7 L257.5 153.0 L257.8 153.2 L258.0 153.4 L258.2 153.7 L258.4 154.0 L258.7 154.1 L258.9 154.2 L259.1 154.3 L259.3 154.5 L259.6 154.8 L259.8 155.1 L260.0 155.4 L260.2 155.4 L260.4 155.5 L260.7 155.6 L260.9 155.8 L261.1 156.1 L261.3 156.5 L261.6 156.6 L261.8 156.6 L262.0 156.9 L262.2 157.0 L262.5 157.1 L262.7 156.7 L262.9 157.1 L263.1 157.4 L263.3 158.0 L263.6 157.5 L263.8 157.6 L264.0 157.2 L264.2 157.9 L264.5 158.4 L264.7 163.1 L264.9 162.4 L265.1 161.0 L265.3 160.8 L265.6 158.8 L265.8 159.5 L266.0 159.0 L266.2 161.9 L266.5 162.4 L266.7 161.3 L266.9 160.9 L267.1 161.2 L267.4 161.8 L267.6 162.1 L267.8 163.5 L268.0 162.9 L268.2 160.5 L268.5 160.4 L268.7 160.3 L268.9 162.5 L269.1 162.0 L269.4 160.3 L269.6 160.4 L269.8 156.7 L270.0 159.2 L270.3 157.4 L270.5 160.1 L270.7 160.7 L270.9 160.3 L271.1 160.1 L271.4 157.5 L271.6 158.2 L271.8 159.9 L272.0 160.6 L272.3 161.1 L272.5 158.6 L272.7 159.1 L272.9 159.0 L273.2 163.1 L273.4 160.4 L273.6 161.8 L273.8 162.3 L274.0 162.4 L274.3 159.6 L274.5 159.6 L274.7 160.8 L274.9 163.1 L275.2 163.1 L275.4 160.3 L275.6 160.5 L275.8 160.3 L276.0 160.2 L276.3 158.6 L276.5 158.0 L276.7 160.1 L276.9 160.6 L277.2 163.7 L277.4 160.1 L277.6 158.7 L277.8 156.1 L278.1 158.4 L278.3 158.4 L278.5 158.0 L278.7 155.3 L278.9 157.6 L279.2 158.6 L279.4 163.6 L279.6 163.2 L279.8 160.6 L280.1 157.8 L280.3 157.6 L280.5 159.5 L280.7 161.5 L281.0 158.0 L281.2 160.3 L281.4 159.1 L281.6 162.6 L281.8 157.5 L282.1 159.3 L282.3 159.0 L282.5 162.7 L282.7 162.1 L283.0 159.5 L283.2 156.0 L283.4 155.6 L283.6 158.3 L283.9 162.2 L284.1 162.4 L284.3 161.2 L284.5 158.7 L284.7 158.1 L285.0 159.5 L285.2 159.0 L285.4 159.6 L285.6 156.6 L285.9 153.1 L286.1 153.6 L286.3 156.2 L286.5 158.0 L286.7 158.9 L287.0 159.1 L287.2 159.2 L287.4 159.8 L287.6 157.7 L287.9 158.3 L288.1 156.5 L288.3 157.4 L288.5 157.6 L288.8 159.2 L289.0 159.9 L289.2 159.1 L289.4 157.9 L289.6 157.2 L289.9 158.7 L290.1 158.4 L290.3 160.6 L290.5 159.6 L290.8 160.0 L291.0 160.9 L291.2 160.1 L291.4 159.7 L291.7 156.1 L291.9 157.5 L292.1 158.6 L292.3 159.8 L292.5 159.8 L292.8 159.2 L293.0 157.2 L293.2 159.4 L293.4 157.9 L293.7 158.2 L293.9 155.8 L294.1 156.7 L294.3 155.5 L294.5 157.3 L294.8 155.7 L295.0 156.0 L295.2 153.6 L295.4 153.7 L295.7 154.5 L295.9 155.2 L296.1 153.4 L296.3 152.3 L296.6 151.3 L296.8 154.2 L297.0 153.4 L297.2 153.2 L297.4 149.5 L297.7 150.5 L297.9 154.6 L298.1 155.5 L298.3 155.4 L298.6 157.6 L298.8 158.6 L299.0 160.5 L299.2 159.3 L299.5 161.1 L299.7 157.8 L299.9 156.7 L300.1 155.8 L300.3 155.5 L300.6 153.0 L300.8 154.2 L301.0 156.8 L301.2 161.3 L301.5 162.1 L301.7 160.7 L301.9 158.0 L302.1 157.4 L302.4 156.6 L302.6 158.0 L302.8 158.0 L303.0 158.4 L303.2 156.3 L303.5 155.4 L303.7 154.7 L303.9 156.1 L304.1 157.6 L304.4 158.7 L304.6 160.8 L304.8 160.2 L305.0 159.7 L305.2 156.1 L305.5 159.7 L305.7 160.5 L305.9 161.1 L306.1 160.3 L306.4 163.1 L306.6 162.5 L306.8 160.6 L307.0 156.2 L307.3 156.8 L307.5 158.1 L307.7 157.0 L307.9 160.3 L308.1 160.7 L308.4 161.1 L308.6 156.1 L308.8 153.3 L309.0 152.9 L309.3 153.6 L309.5 154.8 L309.7 155.6 L309.9 156.7 L310.2 156.5 L310.4 157.4 L310.6 153.6 L310.8 154.4 L311.0 155.2 L311.3 157.2 L311.5 155.1 L311.7 155.9 L311.9 153.5 L312.2 156.7 L312.4 157.2 L312.6 158.6 L312.8 157.0 L313.0 155.7 L313.3 157.0 L313.5 160.1 L313.7 160.0 L313.9 159.0 L314.2 160.3 L314.4 159.1 L314.6 157.5 L314.8 154.4 L315.1 157.3 L315.3 156.8 L315.5 158.0 L315.7 155.3 L315.9 158.4 L316.2 158.8 L316.4 160.1 L316.6 159.8 L316.8 157.9 L317.1 157.2 L317.3 158.0 L317.5 158.8 L317.7 159.6 L318.0 158.1 L318.2 159.1 L318.4 158.3 L318.6 158.9 L318.8 155.8 L319.1 152.2 L319.3 154.0 L319.5 157.2 L319.7 157.8 L320.0 158.2 L320.2 159.9 L320.4 161.7 L320.6 161.9 L320.9 161.9 L321.1 163.3 L321.3 165.9 L321.5 163.9 L321.7 163.4 L322.0 162.8 L322.2 162.8 L322.4 162.2 L322.6 162.2 L322.9 161.9 L323.1 163.1 L323.3 164.0 L323.5 165.1 L323.7 163.9 L324.0 163.7 L324.2 164.7 L324.4 165.0 L324.6 165.9 L324.9 164.1 L325.1 165.2 L325.3 165.1 L325.5 165.5 L325.8 164.1 L326.0 163.6 L326.2 163.7 L326.4 164.3 L326.6 163.9 L326.9 163.8 L327.1 164.8 L327.3 165.3 L327.5 165.2 L327.8 164.6 L328.0 165.2 L328.2 165.2 L328.4 165.1 L328.7 165.2 L328.9 165.4 L329.1 166.1 L329.3 165.9 L329.5 165.5 L329.8 165.4 L330.0 165.8 L330.2 165.9 L330.4 164.9 L330.7 166.0 L330.9 165.6 L331.1 165.8 L331.3 166.3 L331.6 166.7 L331.8 166.2 L332.0 166.3 L332.2 165.5 L332.4 166.5 L332.7 166.2 L332.9 165.7 L333.1 166.1 L333.3 165.8 L333.6 165.7 L333.8 167.0 L334.0 166.4 L334.2 166.7 L334.4 165.5 L334.7 166.3 L334.9 166.0 L335.1 165.4 L335.3 166.5 L335.6 166.3 L335.8 166.2 L336.0 166.5 L336.2 165.7 L336.5 166.0 L336.7 165.9 L336.9 166.4 L337.1 166.7 L337.3 167.0 L337.6 166.7 L337.8 167.4 L338.0 166.3 L338.2 166.1 L338.5 166.6 L338.7 166.8 L338.9 167.0 L339.1 166.5 L339.4 166.4 L339.6 165.7 L339.8 167.1 L340.0 166.5 L340.2 166.3 L340.5 166.7 L340.7 166.8 L340.9 167.3 L341.1 167.1 L341.4 166.4 L341.6 166.0 L341.8 167.2 L342.0 166.5 L342.2 166.5 L342.5 166.3 L342.7 166.7 L342.9 166.8 L343.1 166.4 L343.4 166.8 L343.6 166.9 L343.8 167.9 L344.0 168.0 L344.3 167.4 L344.5 167.8 L344.7 166.7 L344.9 166.7 L345.1 167.2 L345.4 167.1 L345.6 167.2 L345.8 167.2 L346.0 166.9 L346.3 166.9 L346.5 167.3 L346.7 167.5 L346.9 167.4 L347.2 166.7 L347.4 167.4 L347.6 166.4 L347.8 167.3 L348.0 166.5 L348.3 166.7 L348.5 167.6 L348.7 167.0 L348.9 167.0 L349.2 167.4 L349.4 166.2 L349.6 167.3 L349.8 167.2 L350.1 167.6 L350.3 166.5 L350.5 166.9 L350.7 167.2 L350.9 167.9 L351.2 167.2 L351.4 167.7 L351.6 167.2 L351.8 166.9 L352.1 167.8 L352.3 167.3 L352.5 167.0 L352.7 167.4 L352.9 167.6 L353.2 168.0 L353.4 167.8 L353.6 168.2 L353.8 167.0 L354.1 167.5 L354.3 168.2 L354.5 167.5 L354.7 168.2 L355.0 169.5 L355.2 166.9 L355.4 167.0 L355.6 168.4 L355.8 168.0 L356.1 167.5 L356.3 167.8 L356.5 168.1 L356.7 167.9 L357.0 167.8 L357.2 168.0 L357.4 167.5 L357.6 167.8 L357.9 168.1 L358.1 167.7 L358.3 168.6 L358.5 166.9 L358.7 168.6 L359.0 167.8 L359.2 169.2 L359.4 167.5 L359.6 167.6 L359.9 167.1 L360.1 168.2 L360.3 167.8 L360.5 167.6 L360.8 168.1 L361.0 168.1 L361.2 167.1 L361.4 168.2 L361.6 168.1 L361.9 168.0 L362.1 168.0 L362.3 167.8 L362.5 168.0 L362.8 167.7 L363.0 167.8 L363.2 167.7 L363.4 167.2 L363.6 168.4 L363.9 167.1 L364.1 168.2 L364.3 167.6 L364.5 167.9 L364.8 168.1 L365.0 169.0 L365.2 167.1 L365.4 168.4 L365.7 168.4 L365.9 167.5 L366.1 168.0 L366.3 167.0 L366.5 167.2 L366.8 167.7 L367.0 167.9 L367.2 167.7 L367.4 168.8 L367.7 168.0 L367.9 168.0 L368.1 168.4 L368.3 168.0 L368.6 168.8 L368.8 167.3 L369.0 167.5 L369.2 169.1 L369.4 168.1 L369.7 167.4 L369.9 168.0 L370.1 168.7 L370.3 168.7 L370.6 167.8 L370.8 167.3 L371.0 169.8 L371.2 167.7 L371.4 168.5 L371.7 168.4 L371.9 168.1 L372.1 168.3 L372.3 168.6 L372.6 167.2 L372.8 168.4 L373.0 168.4 L373.2 167.8 L373.5 168.3 L373.7 168.4 L373.9 167.8 L374.1 168.9 L374.3 168.5 L374.6 167.8 L374.8 168.0 L375.0 168.5 L375.2 168.4 L375.5 169.3 L375.7 170.4 L375.9 168.2 L376.1 167.9 L376.4 168.3 L376.6 168.6 L376.8 168.9 L377.0 168.4 L377.2 168.4 L377.5 167.8 L377.7 168.4 L377.9 168.7 L378.1 168.5 L378.4 168.7 L378.6 169.1 L378.8 169.6 L379.0 169.3 L379.3 169.1 L379.5 168.2 L379.7 168.5 L379.9 168.4 L380.1 167.9 L380.4 169.0 L380.6 167.9 L380.8 168.3 L381.0 168.9 L381.3 167.8 L381.5 169.3 L381.7 169.1 L381.9 168.7 L382.1 168.3 L382.4 168.7 L382.6 169.7 L382.8 168.7 L383.0 168.6 L383.3 167.3 L383.5 167.9 L383.7 168.5 L383.9 169.2 L384.2 168.5 L384.4 169.2 L384.6 168.5 L384.8 168.4 L385.0 168.8 L385.3 168.5 L385.5 168.5 L385.7 168.9 L385.9 167.9 L386.2 168.4 L386.4 168.8 L386.6 169.1 L386.8 168.6 L387.1 168.4 L387.3 168.2 L387.5 167.9 L387.7 168.4 L387.9 169.3 L388.2 167.7 L388.4 168.1 L388.6 168.3 L388.8 168.0 L389.1 169.5 L389.3 168.9 L389.5 168.8 L389.7 168.1 L390.0 169.4 L390.2 168.9 L390.4 167.9 L390.6 168.4 L390.8 169.0 L391.1 167.8 L391.3 169.5 L391.5 168.6 L391.7 168.9 L392.0 168.5 L392.2 168.9 L392.4 169.2 L392.6 168.7 L392.8 169.5 L393.1 168.6 L393.3 169.0 L393.5 168.4 L393.7 169.1 L394.0 169.2 L394.2 168.7 L394.4 168.2 L394.6 169.9 L394.9 168.8 L395.1 168.6 L395.3 169.6" stroke="#000000" stroke-dasharray="4.4 3"/>
</g>
<path d="M172.4 57.1 H395.3" stroke="#858585" stroke-width="1.1" fill="none"/>
<path d="M172.4 188.4 H395.3" stroke="#4a4a4a" stroke-width="1.1" fill="none"/>
<path d="M172.4 56.6 V188.9 M395.3 56.6 V188.9" stroke="#333" stroke-width="1.0" fill="none"/>
<path d="M194.7 188.4 v-2.4 M194.7 57.1 v2.4 M217.0 188.4 v-2.4 M217.0 57.1 v2.4 M239.3 188.4 v-2.4 M239.3 57.1 v2.4 M261.6 188.4 v-2.4 M261.6 57.1 v2.4 M283.9 188.4 v-2.4 M283.9 57.1 v2.4 M306.1 188.4 v-2.4 M306.1 57.1 v2.4 M328.4 188.4 v-2.4 M328.4 57.1 v2.4 M350.7 188.4 v-2.4 M350.7 57.1 v2.4 M373.0 188.4 v-2.4 M373.0 57.1 v2.4 " stroke="#555" stroke-width="0.9" fill="none"/>
<path d="M172.4 57.1 h2.6 M395.3 57.1 h-2.6 M172.4 63.7 h1.7 M395.3 63.7 h-1.7 M172.4 62.0 h1.7 M395.3 62.0 h-1.7 M172.4 60.8 h1.7 M395.3 60.8 h-1.7 M172.4 59.9 h1.7 M395.3 59.9 h-1.7 M172.4 59.2 h1.7 M395.3 59.2 h-1.7 M172.4 58.6 h1.7 M395.3 58.6 h-1.7 M172.4 58.0 h1.7 M395.3 58.0 h-1.7 M172.4 57.5 h1.7 M395.3 57.5 h-1.7 M172.4 73.0 h1.7 M395.3 73.0 h-1.7 M172.4 71.4 h1.7 M395.3 71.4 h-1.7 M172.4 70.2 h1.7 M395.3 70.2 h-1.7 M172.4 69.3 h1.7 M395.3 69.3 h-1.7 M172.4 68.6 h1.7 M395.3 68.6 h-1.7 M172.4 67.9 h1.7 M395.3 67.9 h-1.7 M172.4 67.4 h1.7 M395.3 67.4 h-1.7 M172.4 66.9 h1.7 M395.3 66.9 h-1.7 M172.4 75.9 h2.6 M395.3 75.9 h-2.6 M172.4 82.4 h1.7 M395.3 82.4 h-1.7 M172.4 80.8 h1.7 M395.3 80.8 h-1.7 M172.4 79.6 h1.7 M395.3 79.6 h-1.7 M172.4 78.7 h1.7 M395.3 78.7 h-1.7 M172.4 77.9 h1.7 M395.3 77.9 h-1.7 M172.4 77.3 h1.7 M395.3 77.3 h-1.7 M172.4 76.8 h1.7 M395.3 76.8 h-1.7 M172.4 76.3 h1.7 M395.3 76.3 h-1.7 M172.4 91.8 h1.7 M395.3 91.8 h-1.7 M172.4 90.1 h1.7 M395.3 90.1 h-1.7 M172.4 89.0 h1.7 M395.3 89.0 h-1.7 M172.4 88.1 h1.7 M395.3 88.1 h-1.7 M172.4 87.3 h1.7 M395.3 87.3 h-1.7 M172.4 86.7 h1.7 M395.3 86.7 h-1.7 M172.4 86.1 h1.7 M395.3 86.1 h-1.7 M172.4 85.7 h1.7 M395.3 85.7 h-1.7 M172.4 94.6 h2.6 M395.3 94.6 h-2.6 M172.4 101.2 h1.7 M395.3 101.2 h-1.7 M172.4 99.5 h1.7 M395.3 99.5 h-1.7 M172.4 98.3 h1.7 M395.3 98.3 h-1.7 M172.4 97.4 h1.7 M395.3 97.4 h-1.7 M172.4 96.7 h1.7 M395.3 96.7 h-1.7 M172.4 96.1 h1.7 M395.3 96.1 h-1.7 M172.4 95.5 h1.7 M395.3 95.5 h-1.7 M172.4 95.0 h1.7 M395.3 95.0 h-1.7 M172.4 110.5 h1.7 M395.3 110.5 h-1.7 M172.4 108.9 h1.7 M395.3 108.9 h-1.7 M172.4 107.7 h1.7 M395.3 107.7 h-1.7 M172.4 106.8 h1.7 M395.3 106.8 h-1.7 M172.4 106.1 h1.7 M395.3 106.1 h-1.7 M172.4 105.4 h1.7 M395.3 105.4 h-1.7 M172.4 104.9 h1.7 M395.3 104.9 h-1.7 M172.4 104.4 h1.7 M395.3 104.4 h-1.7 M172.4 113.4 h2.6 M395.3 113.4 h-2.6 M172.4 119.9 h1.7 M395.3 119.9 h-1.7 M172.4 118.3 h1.7 M395.3 118.3 h-1.7 M172.4 117.1 h1.7 M395.3 117.1 h-1.7 M172.4 116.2 h1.7 M395.3 116.2 h-1.7 M172.4 115.5 h1.7 M395.3 115.5 h-1.7 M172.4 114.8 h1.7 M395.3 114.8 h-1.7 M172.4 114.3 h1.7 M395.3 114.3 h-1.7 M172.4 113.8 h1.7 M395.3 113.8 h-1.7 M172.4 129.3 h1.7 M395.3 129.3 h-1.7 M172.4 127.7 h1.7 M395.3 127.7 h-1.7 M172.4 126.5 h1.7 M395.3 126.5 h-1.7 M172.4 125.6 h1.7 M395.3 125.6 h-1.7 M172.4 124.8 h1.7 M395.3 124.8 h-1.7 M172.4 124.2 h1.7 M395.3 124.2 h-1.7 M172.4 123.7 h1.7 M395.3 123.7 h-1.7 M172.4 123.2 h1.7 M395.3 123.2 h-1.7 M172.4 132.1 h2.6 M395.3 132.1 h-2.6 M172.4 138.7 h1.7 M395.3 138.7 h-1.7 M172.4 137.0 h1.7 M395.3 137.0 h-1.7 M172.4 135.9 h1.7 M395.3 135.9 h-1.7 M172.4 135.0 h1.7 M395.3 135.0 h-1.7 M172.4 134.2 h1.7 M395.3 134.2 h-1.7 M172.4 133.6 h1.7 M395.3 133.6 h-1.7 M172.4 133.0 h1.7 M395.3 133.0 h-1.7 M172.4 132.6 h1.7 M395.3 132.6 h-1.7 M172.4 148.1 h1.7 M395.3 148.1 h-1.7 M172.4 146.4 h1.7 M395.3 146.4 h-1.7 M172.4 145.2 h1.7 M395.3 145.2 h-1.7 M172.4 144.3 h1.7 M395.3 144.3 h-1.7 M172.4 143.6 h1.7 M395.3 143.6 h-1.7 M172.4 143.0 h1.7 M395.3 143.0 h-1.7 M172.4 142.4 h1.7 M395.3 142.4 h-1.7 M172.4 141.9 h1.7 M395.3 141.9 h-1.7 M172.4 150.9 h2.6 M395.3 150.9 h-2.6 M172.4 157.4 h1.7 M395.3 157.4 h-1.7 M172.4 155.8 h1.7 M395.3 155.8 h-1.7 M172.4 154.6 h1.7 M395.3 154.6 h-1.7 M172.4 153.7 h1.7 M395.3 153.7 h-1.7 M172.4 153.0 h1.7 M395.3 153.0 h-1.7 M172.4 152.3 h1.7 M395.3 152.3 h-1.7 M172.4 151.8 h1.7 M395.3 151.8 h-1.7 M172.4 151.3 h1.7 M395.3 151.3 h-1.7 M172.4 166.8 h1.7 M395.3 166.8 h-1.7 M172.4 165.2 h1.7 M395.3 165.2 h-1.7 M172.4 164.0 h1.7 M395.3 164.0 h-1.7 M172.4 163.1 h1.7 M395.3 163.1 h-1.7 M172.4 162.3 h1.7 M395.3 162.3 h-1.7 M172.4 161.7 h1.7 M395.3 161.7 h-1.7 M172.4 161.2 h1.7 M395.3 161.2 h-1.7 M172.4 160.7 h1.7 M395.3 160.7 h-1.7 M172.4 169.6 h2.6 M395.3 169.6 h-2.6 M172.4 176.2 h1.7 M395.3 176.2 h-1.7 M172.4 174.5 h1.7 M395.3 174.5 h-1.7 M172.4 173.4 h1.7 M395.3 173.4 h-1.7 M172.4 172.5 h1.7 M395.3 172.5 h-1.7 M172.4 171.7 h1.7 M395.3 171.7 h-1.7 M172.4 171.1 h1.7 M395.3 171.1 h-1.7 M172.4 170.6 h1.7 M395.3 170.6 h-1.7 M172.4 170.1 h1.7 M395.3 170.1 h-1.7 M172.4 185.6 h1.7 M395.3 185.6 h-1.7 M172.4 183.9 h1.7 M395.3 183.9 h-1.7 M172.4 182.8 h1.7 M395.3 182.8 h-1.7 M172.4 181.8 h1.7 M395.3 181.8 h-1.7 M172.4 181.1 h1.7 M395.3 181.1 h-1.7 M172.4 180.5 h1.7 M395.3 180.5 h-1.7 M172.4 179.9 h1.7 M395.3 179.9 h-1.7 M172.4 179.5 h1.7 M395.3 179.5 h-1.7 M172.4 188.4 h2.6 M395.3 188.4 h-2.6 " stroke="#111" stroke-width="0.65" fill="none"/>
<text class="b" transform="translate(56.0 14.1) scale(1.00 1)" text-anchor="end" font-size="9.5" stroke="#111" stroke-width="0.15">10<tspan dy="-3.0" font-size="9.3">0</tspan></text>
<text class="b" transform="translate(58.4 54.9) scale(1.00 1)" text-anchor="end" font-size="9.5" stroke="#111" stroke-width="0.15">10<tspan dy="-3.0" font-size="9.3">−2</tspan></text>
<text class="b" transform="translate(59.2 95.2) scale(1.00 1)" text-anchor="end" font-size="9.5" stroke="#111" stroke-width="0.15">10<tspan dy="-3.0" font-size="9.3">−4</tspan></text>
<text class="b" transform="translate(59.2 135.5) scale(1.00 1)" text-anchor="end" font-size="9.5" stroke="#111" stroke-width="0.15">10<tspan dy="-3.0" font-size="9.3">−6</tspan></text>
<text class="b" transform="translate(59.2 175.7) scale(1.00 1)" text-anchor="end" font-size="9.5" stroke="#111" stroke-width="0.15">10<tspan dy="-3.0" font-size="9.3">−8</tspan></text>
<text class="b" transform="translate(59.2 216.2) scale(1.00 1)" text-anchor="end" font-size="9.5" stroke="#111" stroke-width="0.15">10<tspan dy="-3.0" font-size="9.3">−10</tspan></text>
<text class="b" transform="translate(59.2 256.5) scale(1.00 1)" text-anchor="end" font-size="9.5" stroke="#111" stroke-width="0.15">10<tspan dy="-3.0" font-size="9.3">−12</tspan></text>
<text class="b" x="61.1" y="263.8" text-anchor="middle" font-size="9.6" stroke="#111" stroke-width="0.15">0</text>
<text class="b" x="108.4" y="263.8" text-anchor="middle" font-size="9.6" stroke="#111" stroke-width="0.15">1000</text>
<text class="b" x="155.8" y="263.8" text-anchor="middle" font-size="9.6" stroke="#111" stroke-width="0.15">2000</text>
<text class="b" x="203.1" y="263.8" text-anchor="middle" font-size="9.6" stroke="#111" stroke-width="0.15">3000</text>
<text class="b" x="250.5" y="263.8" text-anchor="middle" font-size="9.6" stroke="#111" stroke-width="0.15">4000</text>
<text class="b" x="297.8" y="263.8" text-anchor="middle" font-size="9.6" stroke="#111" stroke-width="0.15">5000</text>
<text class="b" x="345.2" y="263.8" text-anchor="middle" font-size="9.6" stroke="#111" stroke-width="0.15">6000</text>
<text class="b" x="392.5" y="263.8" text-anchor="middle" font-size="9.6" stroke="#111" stroke-width="0.15">7000</text>
<text class="b" x="439.9" y="263.8" text-anchor="middle" font-size="9.6" stroke="#111" stroke-width="0.15">8000</text>
<text class="b" x="487.2" y="263.8" text-anchor="middle" font-size="9.6" stroke="#111" stroke-width="0.15">9000</text>
<text class="b" x="532.8" y="263.8" text-anchor="middle" font-size="9.6" stroke="#111" stroke-width="0.15">10,000</text>
<text class="b" transform="translate(165.3 61.6) scale(1.07 1)" text-anchor="end" font-size="9.2" stroke="#111" stroke-width="0.15">10<tspan dy="-2.9" font-size="9.0">2</tspan></text>
<text class="b" transform="translate(165.3 81.7) scale(1.07 1)" text-anchor="end" font-size="9.2" stroke="#111" stroke-width="0.15">10<tspan dy="-2.9" font-size="9.0">0</tspan></text>
<text class="b" transform="translate(167.1 100.8) scale(1.07 1)" text-anchor="end" font-size="9.2" stroke="#111" stroke-width="0.15">10<tspan dy="-2.9" font-size="9.0">−2</tspan></text>
<text class="b" transform="translate(167.1 120.1) scale(1.07 1)" text-anchor="end" font-size="9.2" stroke="#111" stroke-width="0.15">10<tspan dy="-2.9" font-size="9.0">−4</tspan></text>
<text class="b" transform="translate(167.1 138.7) scale(1.07 1)" text-anchor="end" font-size="9.2" stroke="#111" stroke-width="0.15">10<tspan dy="-2.9" font-size="9.0">−6</tspan></text>
<text class="b" transform="translate(167.1 156.7) scale(1.07 1)" text-anchor="end" font-size="9.2" stroke="#111" stroke-width="0.15">10<tspan dy="-2.9" font-size="9.0">−8</tspan></text>
<text class="b" transform="translate(168.8 175.9) scale(1.07 1)" text-anchor="end" font-size="9.2" stroke="#111" stroke-width="0.15">10<tspan dy="-2.9" font-size="9.0">−10</tspan></text>
<text class="b" transform="translate(168.3 194.9) scale(1.07 1)" text-anchor="end" font-size="9.2" stroke="#111" stroke-width="0.15">10<tspan dy="-2.9" font-size="9.0">−12</tspan></text>
<text class="b" x="172.7" y="199.7" text-anchor="middle" font-size="9.6" stroke="#111" stroke-width="0.15">0</text>
<text class="b" x="193.3" y="199.7" text-anchor="middle" font-size="9.6" stroke="#111" stroke-width="0.15">100</text>
<text class="b" x="215.4" y="199.7" text-anchor="middle" font-size="9.6" stroke="#111" stroke-width="0.15">200</text>
<text class="b" x="237.6" y="199.7" text-anchor="middle" font-size="9.6" stroke="#111" stroke-width="0.15">300</text>
<text class="b" x="259.8" y="199.7" text-anchor="middle" font-size="9.6" stroke="#111" stroke-width="0.15">400</text>
<text class="b" x="282.0" y="199.7" text-anchor="middle" font-size="9.6" stroke="#111" stroke-width="0.15">500</text>
<text class="b" x="304.1" y="199.7" text-anchor="middle" font-size="9.6" stroke="#111" stroke-width="0.15">600</text>
<text class="b" x="326.3" y="199.7" text-anchor="middle" font-size="9.6" stroke="#111" stroke-width="0.15">700</text>
<text class="b" x="348.5" y="199.7" text-anchor="middle" font-size="9.6" stroke="#111" stroke-width="0.15">800</text>
<text class="b" x="370.6" y="199.7" text-anchor="middle" font-size="9.6" stroke="#111" stroke-width="0.15">900</text>
<text class="b" x="395.0" y="199.7" text-anchor="middle" font-size="9.6" stroke="#111" stroke-width="0.15">1000</text>
<text transform="translate(297 283.3) scale(0.975 1)" text-anchor="middle" font-size="20" stroke="#111" stroke-width="0.3">Iteration count k</text>
<text transform="translate(21.7 132.4) rotate(-90) scale(0.962 1)" text-anchor="middle" font-size="20.3" stroke="#111" stroke-width="0.3">Standard deviation</text>
<rect x="397.9" y="13.3" width="128.2" height="45.8" fill="#fff" stroke="#b2b2b2" stroke-width="1"/>
<path d="M399.5 19.8 h10.3" stroke="#ff0000" stroke-width="1.3"/>
<text x="411.8" y="22.6" font-size="9.6" stroke="#111" stroke-width="0.28">Maximum-degree weight</text>
<path d="M399.5 30.9 h3.8 M406 30.9 h3.8" stroke="#00e000" stroke-width="1.3"/>
<text x="411.8" y="33.7" font-size="9.6" stroke="#111" stroke-width="0.28">Metropolis-Hastings weights</text>
<path d="M399.5 42.0 h10.3" stroke="#0000ff" stroke-width="1.3"/>
<text x="411.8" y="44.8" font-size="9.6" stroke="#111" stroke-width="0.28">The Lazy-Metropolis weights</text>
<path d="M399.5 53.2 h3.8 M406 53.2 h3.8" stroke="#000000" stroke-width="1.3"/>
<text x="411.8" y="56.0" font-size="9.6" stroke="#111" stroke-width="0.28">Scheme 3</text>
</svg></body></html>
